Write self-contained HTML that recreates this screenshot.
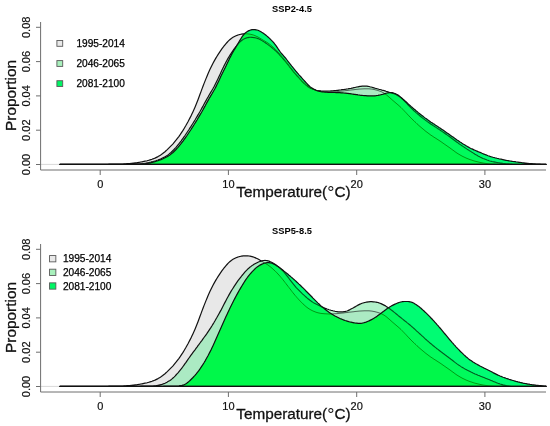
<!DOCTYPE html>
<html><head><meta charset="utf-8"><title>Temperature density</title>
<style>
html,body{margin:0;padding:0;background:#fff;}
body{width:550px;height:426px;overflow:hidden;}
svg{display:block;font-family:"Liberation Sans",Arial,sans-serif;}
</style></head><body>
<svg width="550" height="426" viewBox="0 0 550 426">
<rect width="550" height="426" fill="#fff"/>
<defs><clipPath id="c46a"><path d="M60,164.4 L60.0,164.4 61.0,164.4 62.0,164.4 63.0,164.4 64.0,164.4 65.0,164.4 66.0,164.4 67.0,164.4 68.0,164.4 69.0,164.4 70.0,164.4 71.0,164.4 72.0,164.4 73.0,164.4 74.0,164.4 75.0,164.4 76.0,164.4 77.0,164.4 78.0,164.4 79.0,164.4 80.0,164.4 81.0,164.4 82.0,164.4 83.0,164.4 84.0,164.4 85.0,164.4 86.0,164.4 87.0,164.4 88.0,164.4 89.0,164.4 90.0,164.4 91.0,164.4 92.0,164.4 93.0,164.4 94.0,164.4 95.0,164.4 96.0,164.4 97.0,164.4 98.0,164.4 99.0,164.4 100.0,164.4 101.0,164.4 102.0,164.4 103.0,164.4 104.0,164.4 105.0,164.4 106.0,164.4 107.0,164.4 108.0,164.4 109.0,164.4 110.0,164.4 111.0,164.3 112.0,164.3 113.0,164.3 114.0,164.3 115.0,164.3 116.0,164.3 117.0,164.3 118.0,164.3 119.0,164.3 120.0,164.3 121.0,164.3 122.0,164.3 123.0,164.3 124.0,164.3 125.0,164.3 126.0,164.3 127.0,164.3 128.0,164.3 129.0,164.3 130.0,164.3 131.0,164.3 132.0,164.2 133.0,164.2 134.0,164.2 135.0,164.2 136.0,164.1 137.0,164.1 138.0,164.1 139.0,164.0 140.0,164.0 141.0,163.9 142.0,163.8 143.0,163.7 144.0,163.5 145.0,163.3 146.0,163.2 147.0,163.0 148.0,162.8 149.0,162.6 150.0,162.3 151.0,162.1 152.0,161.8 153.0,161.6 154.0,161.3 155.0,161.0 156.0,160.7 157.0,160.3 158.0,160.0 159.0,159.6 160.0,159.2 161.0,158.8 162.0,158.3 163.0,157.8 164.0,157.3 165.0,156.8 166.0,156.2 167.0,155.6 168.0,154.9 169.0,154.1 170.0,153.3 171.0,152.5 172.0,151.5 173.0,150.5 174.0,149.5 175.0,148.4 176.0,147.3 177.0,146.1 178.0,144.9 179.0,143.7 180.0,142.4 181.0,141.1 182.0,139.7 183.0,138.3 184.0,136.9 185.0,135.5 186.0,134.0 187.0,132.5 188.0,131.0 189.0,129.5 190.0,127.9 191.0,126.4 192.0,124.8 193.0,123.2 194.0,121.6 195.0,120.0 196.0,118.3 197.0,116.6 198.0,114.9 199.0,113.2 200.0,111.5 201.0,109.7 202.0,107.9 203.0,106.1 204.0,104.2 205.0,102.4 206.0,100.6 207.0,98.8 208.0,97.1 209.0,95.3 210.0,93.6 211.0,91.9 212.0,90.2 213.0,88.5 214.0,86.7 215.0,84.8 216.0,82.8 217.0,80.8 218.0,78.7 219.0,76.5 220.0,74.4 221.0,72.2 222.0,70.1 223.0,68.0 224.0,65.9 225.0,64.0 226.0,62.0 227.0,60.2 228.0,58.4 229.0,56.7 230.0,55.1 231.0,53.6 232.0,52.1 233.0,50.6 234.0,49.2 235.0,47.8 236.0,46.5 237.0,45.2 238.0,44.1 239.0,43.0 240.0,41.9 241.0,41.0 242.0,40.2 243.0,39.5 244.0,38.9 245.0,38.4 246.0,38.1 247.0,37.8 248.0,37.6 249.0,37.4 250.0,37.3 251.0,37.3 252.0,37.4 253.0,37.5 254.0,37.6 255.0,37.8 256.0,38.0 257.0,38.3 258.0,38.6 259.0,39.0 260.0,39.5 261.0,40.0 262.0,40.6 263.0,41.2 264.0,41.9 265.0,42.5 266.0,43.2 267.0,43.9 268.0,44.6 269.0,45.4 270.0,46.1 271.0,46.9 272.0,47.7 273.0,48.6 274.0,49.4 275.0,50.3 276.0,51.2 277.0,52.2 278.0,53.2 279.0,54.2 280.0,55.3 281.0,56.3 282.0,57.5 283.0,58.6 284.0,59.8 285.0,61.0 286.0,62.2 287.0,63.4 288.0,64.7 289.0,66.0 290.0,67.3 291.0,68.5 292.0,69.8 293.0,71.1 294.0,72.3 295.0,73.5 296.0,74.7 297.0,75.8 298.0,76.9 299.0,78.0 300.0,79.1 301.0,80.2 302.0,81.3 303.0,82.3 304.0,83.3 305.0,84.2 306.0,85.1 307.0,85.9 308.0,86.7 309.0,87.3 310.0,87.9 311.0,88.4 312.0,88.8 313.0,89.2 314.0,89.6 315.0,90.0 316.0,90.3 317.0,90.5 318.0,90.7 319.0,90.8 320.0,90.9 321.0,91.0 322.0,91.0 323.0,91.0 324.0,91.0 325.0,91.0 326.0,91.0 327.0,91.0 328.0,91.0 329.0,91.0 330.0,91.0 331.0,90.9 332.0,90.9 333.0,90.8 334.0,90.7 335.0,90.6 336.0,90.5 337.0,90.4 338.0,90.3 339.0,90.1 340.0,90.0 341.0,89.9 342.0,89.7 343.0,89.6 344.0,89.5 345.0,89.3 346.0,89.2 347.0,89.0 348.0,88.9 349.0,88.7 350.0,88.5 351.0,88.4 352.0,88.2 353.0,87.9 354.0,87.7 355.0,87.5 356.0,87.2 357.0,87.0 358.0,86.8 359.0,86.6 360.0,86.4 361.0,86.3 362.0,86.2 363.0,86.2 364.0,86.2 365.0,86.2 366.0,86.2 367.0,86.2 368.0,86.3 369.0,86.5 370.0,86.8 371.0,87.0 372.0,87.3 373.0,87.6 374.0,87.9 375.0,88.2 376.0,88.5 377.0,88.7 378.0,89.0 379.0,89.3 380.0,89.5 381.0,89.8 382.0,90.1 383.0,90.3 384.0,90.6 385.0,90.9 386.0,91.3 387.0,91.6 388.0,91.9 389.0,92.2 390.0,92.5 391.0,92.8 392.0,93.1 393.0,93.4 394.0,93.7 395.0,94.1 396.0,94.6 397.0,95.2 398.0,95.8 399.0,96.4 400.0,97.1 401.0,97.9 402.0,98.7 403.0,99.6 404.0,100.6 405.0,101.6 406.0,102.7 407.0,103.7 408.0,104.8 409.0,105.9 410.0,106.9 411.0,107.9 412.0,108.9 413.0,109.8 414.0,110.8 415.0,111.7 416.0,112.6 417.0,113.4 418.0,114.3 419.0,115.1 420.0,116.0 421.0,116.8 422.0,117.6 423.0,118.4 424.0,119.1 425.0,119.9 426.0,120.6 427.0,121.4 428.0,122.1 429.0,122.8 430.0,123.5 431.0,124.2 432.0,124.8 433.0,125.5 434.0,126.1 435.0,126.8 436.0,127.4 437.0,128.1 438.0,128.7 439.0,129.4 440.0,130.0 441.0,130.7 442.0,131.4 443.0,132.1 444.0,132.8 445.0,133.5 446.0,134.2 447.0,134.9 448.0,135.6 449.0,136.3 450.0,137.0 451.0,137.7 452.0,138.5 453.0,139.2 454.0,140.0 455.0,140.7 456.0,141.5 457.0,142.2 458.0,142.9 459.0,143.7 460.0,144.4 461.0,145.1 462.0,145.8 463.0,146.4 464.0,147.1 465.0,147.8 466.0,148.4 467.0,149.1 468.0,149.7 469.0,150.4 470.0,151.0 471.0,151.6 472.0,152.3 473.0,152.9 474.0,153.5 475.0,154.2 476.0,154.8 477.0,155.3 478.0,155.9 479.0,156.4 480.0,157.0 481.0,157.4 482.0,157.9 483.0,158.4 484.0,158.8 485.0,159.2 486.0,159.6 487.0,160.0 488.0,160.3 489.0,160.7 490.0,161.0 491.0,161.2 492.0,161.5 493.0,161.7 494.0,161.9 495.0,162.1 496.0,162.3 497.0,162.5 498.0,162.7 499.0,162.8 500.0,163.0 501.0,163.1 502.0,163.2 503.0,163.4 504.0,163.5 505.0,163.6 506.0,163.7 507.0,163.8 508.0,163.8 509.0,163.9 510.0,164.0 511.0,164.0 512.0,164.1 513.0,164.2 514.0,164.2 515.0,164.2 516.0,164.3 517.0,164.3 518.0,164.3 519.0,164.4 520.0,164.4 L546,164.4 Z"/></clipPath><clipPath id="c81a"><path d="M60,164.4 L60.0,164.4 61.0,164.4 62.0,164.4 63.0,164.4 64.0,164.4 65.0,164.4 66.0,164.4 67.0,164.4 68.0,164.4 69.0,164.4 70.0,164.4 71.0,164.4 72.0,164.4 73.0,164.4 74.0,164.4 75.0,164.4 76.0,164.4 77.0,164.4 78.0,164.4 79.0,164.4 80.0,164.4 81.0,164.4 82.0,164.4 83.0,164.4 84.0,164.4 85.0,164.4 86.0,164.4 87.0,164.4 88.0,164.4 89.0,164.4 90.0,164.4 91.0,164.4 92.0,164.4 93.0,164.4 94.0,164.4 95.0,164.4 96.0,164.4 97.0,164.4 98.0,164.4 99.0,164.4 100.0,164.4 101.0,164.4 102.0,164.4 103.0,164.4 104.0,164.4 105.0,164.4 106.0,164.4 107.0,164.4 108.0,164.4 109.0,164.4 110.0,164.4 111.0,164.4 112.0,164.4 113.0,164.3 114.0,164.3 115.0,164.3 116.0,164.3 117.0,164.3 118.0,164.3 119.0,164.3 120.0,164.3 121.0,164.3 122.0,164.3 123.0,164.3 124.0,164.3 125.0,164.3 126.0,164.3 127.0,164.3 128.0,164.3 129.0,164.3 130.0,164.3 131.0,164.3 132.0,164.3 133.0,164.3 134.0,164.2 135.0,164.2 136.0,164.2 137.0,164.2 138.0,164.1 139.0,164.1 140.0,164.1 141.0,164.0 142.0,164.0 143.0,163.9 144.0,163.8 145.0,163.7 146.0,163.5 147.0,163.3 148.0,163.2 149.0,163.0 150.0,162.8 151.0,162.6 152.0,162.3 153.0,162.1 154.0,161.8 155.0,161.6 156.0,161.3 157.0,161.0 158.0,160.7 159.0,160.3 160.0,160.0 161.0,159.6 162.0,159.2 163.0,158.8 164.0,158.3 165.0,157.8 166.0,157.3 167.0,156.8 168.0,156.2 169.0,155.6 170.0,154.9 171.0,154.1 172.0,153.3 173.0,152.5 174.0,151.5 175.0,150.5 176.0,149.5 177.0,148.4 178.0,147.3 179.0,146.1 180.0,144.9 181.0,143.7 182.0,142.4 183.0,141.1 184.0,139.7 185.0,138.3 186.0,136.9 187.0,135.5 188.0,134.0 189.0,132.5 190.0,131.0 191.0,129.5 192.0,127.9 193.0,126.4 194.0,124.8 195.0,123.2 196.0,121.6 197.0,120.0 198.0,118.3 199.0,116.6 200.0,114.9 201.0,113.2 202.0,111.5 203.0,109.7 204.0,107.9 205.0,106.1 206.0,104.2 207.0,102.4 208.0,100.6 209.0,98.8 210.0,97.1 211.0,95.4 212.0,93.7 213.0,92.0 214.0,90.3 215.0,88.5 216.0,86.6 217.0,84.6 218.0,82.5 219.0,80.4 220.0,78.2 221.0,76.1 222.0,74.0 223.0,72.0 224.0,69.9 225.0,67.9 226.0,65.9 227.0,63.8 228.0,61.7 229.0,59.7 230.0,57.6 231.0,55.7 232.0,53.8 233.0,52.0 234.0,50.3 235.0,48.6 236.0,46.9 237.0,45.2 238.0,43.5 239.0,41.8 240.0,40.1 241.0,38.5 242.0,36.9 243.0,35.5 244.0,34.3 245.0,33.2 246.0,32.4 247.0,31.7 248.0,31.1 249.0,30.6 250.0,30.2 251.0,29.9 252.0,29.7 253.0,29.6 254.0,29.6 255.0,29.6 256.0,29.8 257.0,30.0 258.0,30.3 259.0,30.7 260.0,31.2 261.0,31.8 262.0,32.4 263.0,33.1 264.0,33.8 265.0,34.5 266.0,35.3 267.0,36.1 268.0,37.0 269.0,37.9 270.0,38.8 271.0,39.8 272.0,40.8 273.0,41.8 274.0,43.0 275.0,44.3 276.0,45.7 277.0,47.2 278.0,48.7 279.0,50.1 280.0,51.5 281.0,52.8 282.0,54.0 283.0,55.1 284.0,56.3 285.0,57.5 286.0,58.7 287.0,60.0 288.0,61.3 289.0,62.6 290.0,63.9 291.0,65.2 292.0,66.5 293.0,67.7 294.0,68.9 295.0,70.1 296.0,71.3 297.0,72.5 298.0,73.6 299.0,74.8 300.0,75.9 301.0,77.0 302.0,78.2 303.0,79.3 304.0,80.4 305.0,81.5 306.0,82.6 307.0,83.7 308.0,84.8 309.0,85.7 310.0,86.6 311.0,87.4 312.0,88.0 313.0,88.7 314.0,89.3 315.0,89.8 316.0,90.2 317.0,90.7 318.0,91.0 319.0,91.3 320.0,91.5 321.0,91.7 322.0,91.8 323.0,91.9 324.0,92.0 325.0,92.1 326.0,92.2 327.0,92.2 328.0,92.3 329.0,92.3 330.0,92.4 331.0,92.4 332.0,92.5 333.0,92.5 334.0,92.5 335.0,92.5 336.0,92.6 337.0,92.6 338.0,92.6 339.0,92.7 340.0,92.7 341.0,92.8 342.0,92.8 343.0,92.9 344.0,93.0 345.0,93.1 346.0,93.2 347.0,93.3 348.0,93.4 349.0,93.6 350.0,93.7 351.0,93.8 352.0,94.0 353.0,94.1 354.0,94.3 355.0,94.4 356.0,94.6 357.0,94.7 358.0,94.9 359.0,95.0 360.0,95.2 361.0,95.3 362.0,95.4 363.0,95.5 364.0,95.6 365.0,95.6 366.0,95.7 367.0,95.8 368.0,95.8 369.0,95.9 370.0,95.9 371.0,95.9 372.0,95.9 373.0,95.9 374.0,95.9 375.0,95.8 376.0,95.7 377.0,95.5 378.0,95.4 379.0,95.2 380.0,95.0 381.0,94.7 382.0,94.5 383.0,94.2 384.0,93.9 385.0,93.6 386.0,93.3 387.0,93.0 388.0,92.8 389.0,92.7 390.0,92.6 391.0,92.6 392.0,92.7 393.0,92.9 394.0,93.2 395.0,93.6 396.0,94.0 397.0,94.5 398.0,95.1 399.0,95.8 400.0,96.6 401.0,97.4 402.0,98.2 403.0,99.1 404.0,100.0 405.0,100.9 406.0,101.8 407.0,102.7 408.0,103.7 409.0,104.6 410.0,105.5 411.0,106.4 412.0,107.2 413.0,108.1 414.0,109.0 415.0,109.8 416.0,110.7 417.0,111.5 418.0,112.4 419.0,113.2 420.0,114.0 421.0,114.8 422.0,115.6 423.0,116.3 424.0,117.1 425.0,117.9 426.0,118.6 427.0,119.3 428.0,120.1 429.0,120.8 430.0,121.5 431.0,122.2 432.0,122.8 433.0,123.5 434.0,124.1 435.0,124.8 436.0,125.4 437.0,126.1 438.0,126.7 439.0,127.4 440.0,128.0 441.0,128.7 442.0,129.4 443.0,130.1 444.0,130.8 445.0,131.5 446.0,132.2 447.0,132.9 448.0,133.6 449.0,134.3 450.0,135.0 451.0,135.7 452.0,136.4 453.0,137.1 454.0,137.8 455.0,138.6 456.0,139.3 457.0,140.0 458.0,140.6 459.0,141.3 460.0,142.0 461.0,142.6 462.0,143.3 463.0,143.9 464.0,144.5 465.0,145.1 466.0,145.7 467.0,146.3 468.0,146.9 469.0,147.4 470.0,148.0 471.0,148.5 472.0,148.9 473.0,149.4 474.0,149.9 475.0,150.3 476.0,150.7 477.0,151.1 478.0,151.6 479.0,152.0 480.0,152.4 481.0,152.8 482.0,153.3 483.0,153.7 484.0,154.1 485.0,154.5 486.0,154.9 487.0,155.3 488.0,155.7 489.0,156.0 490.0,156.4 491.0,156.7 492.0,157.0 493.0,157.3 494.0,157.5 495.0,157.8 496.0,158.0 497.0,158.3 498.0,158.5 499.0,158.8 500.0,159.0 501.0,159.2 502.0,159.4 503.0,159.7 504.0,159.9 505.0,160.1 506.0,160.3 507.0,160.5 508.0,160.6 509.0,160.8 510.0,161.0 511.0,161.1 512.0,161.3 513.0,161.5 514.0,161.6 515.0,161.7 516.0,161.9 517.0,162.0 518.0,162.1 519.0,162.3 520.0,162.4 521.0,162.5 522.0,162.7 523.0,162.8 524.0,162.9 525.0,163.1 526.0,163.2 527.0,163.3 528.0,163.4 529.0,163.5 530.0,163.6 531.0,163.7 532.0,163.7 533.0,163.8 534.0,163.9 535.0,163.9 536.0,164.0 537.0,164.1 538.0,164.1 539.0,164.2 540.0,164.2 541.0,164.3 542.0,164.3 543.0,164.3 544.0,164.4 545.0,164.4 546.0,164.4 L546,164.4 Z"/></clipPath></defs>
<line x1="40.6" y1="164.4" x2="546" y2="164.4" stroke="#d8d8d8" stroke-width="1"/>
<path d="M60,164.4 L60.0,164.4 61.0,164.4 62.0,164.4 63.0,164.4 64.0,164.4 65.0,164.4 66.0,164.4 67.0,164.4 68.0,164.4 69.0,164.4 70.0,164.4 71.0,164.4 72.0,164.4 73.0,164.4 74.0,164.4 75.0,164.4 76.0,164.4 77.0,164.4 78.0,164.4 79.0,164.4 80.0,164.4 81.0,164.4 82.0,164.4 83.0,164.4 84.0,164.4 85.0,164.4 86.0,164.4 87.0,164.4 88.0,164.3 89.0,164.3 90.0,164.3 91.0,164.3 92.0,164.3 93.0,164.3 94.0,164.3 95.0,164.3 96.0,164.3 97.0,164.3 98.0,164.3 99.0,164.3 100.0,164.3 101.0,164.3 102.0,164.3 103.0,164.3 104.0,164.3 105.0,164.3 106.0,164.3 107.0,164.3 108.0,164.3 109.0,164.2 110.0,164.2 111.0,164.2 112.0,164.2 113.0,164.2 114.0,164.2 115.0,164.2 116.0,164.2 117.0,164.1 118.0,164.1 119.0,164.1 120.0,164.1 121.0,164.1 122.0,164.0 123.0,164.0 124.0,163.9 125.0,163.9 126.0,163.8 127.0,163.7 128.0,163.7 129.0,163.6 130.0,163.5 131.0,163.4 132.0,163.3 133.0,163.2 134.0,163.1 135.0,162.9 136.0,162.8 137.0,162.7 138.0,162.5 139.0,162.3 140.0,162.2 141.0,162.0 142.0,161.8 143.0,161.6 144.0,161.4 145.0,161.2 146.0,161.0 147.0,160.8 148.0,160.5 149.0,160.2 150.0,159.9 151.0,159.6 152.0,159.3 153.0,158.9 154.0,158.5 155.0,158.1 156.0,157.6 157.0,157.1 158.0,156.6 159.0,156.0 160.0,155.4 161.0,154.8 162.0,154.1 163.0,153.3 164.0,152.5 165.0,151.7 166.0,150.8 167.0,149.9 168.0,148.9 169.0,147.9 170.0,146.9 171.0,145.9 172.0,144.9 173.0,143.8 174.0,142.6 175.0,141.4 176.0,140.2 177.0,138.9 178.0,137.6 179.0,136.3 180.0,134.9 181.0,133.4 182.0,131.9 183.0,130.4 184.0,128.7 185.0,127.0 186.0,125.3 187.0,123.5 188.0,121.7 189.0,119.8 190.0,117.9 191.0,115.9 192.0,113.8 193.0,111.7 194.0,109.5 195.0,107.2 196.0,104.8 197.0,102.3 198.0,99.7 199.0,97.0 200.0,94.3 201.0,91.6 202.0,88.9 203.0,86.2 204.0,83.6 205.0,81.1 206.0,78.6 207.0,76.2 208.0,73.8 209.0,71.6 210.0,69.3 211.0,67.2 212.0,65.2 213.0,63.2 214.0,61.4 215.0,59.6 216.0,57.9 217.0,56.2 218.0,54.6 219.0,53.1 220.0,51.6 221.0,50.1 222.0,48.7 223.0,47.3 224.0,46.0 225.0,44.8 226.0,43.6 227.0,42.5 228.0,41.4 229.0,40.4 230.0,39.5 231.0,38.7 232.0,37.9 233.0,37.3 234.0,36.7 235.0,36.2 236.0,35.7 237.0,35.4 238.0,35.0 239.0,34.7 240.0,34.5 241.0,34.2 242.0,34.1 243.0,33.9 244.0,33.8 245.0,33.8 246.0,33.8 247.0,33.8 248.0,33.9 249.0,34.0 250.0,34.2 251.0,34.4 252.0,34.6 253.0,34.9 254.0,35.2 255.0,35.6 256.0,36.1 257.0,36.5 258.0,37.0 259.0,37.6 260.0,38.2 261.0,38.8 262.0,39.4 263.0,40.0 264.0,40.6 265.0,41.2 266.0,41.8 267.0,42.4 268.0,43.0 269.0,43.8 270.0,44.5 271.0,45.3 272.0,46.2 273.0,47.1 274.0,48.0 275.0,48.9 276.0,49.9 277.0,50.9 278.0,52.0 279.0,53.1 280.0,54.2 281.0,55.4 282.0,56.6 283.0,57.8 284.0,59.1 285.0,60.4 286.0,61.7 287.0,63.0 288.0,64.3 289.0,65.6 290.0,66.9 291.0,68.2 292.0,69.5 293.0,70.8 294.0,72.0 295.0,73.3 296.0,74.4 297.0,75.6 298.0,76.7 299.0,77.8 300.0,78.9 301.0,79.9 302.0,80.9 303.0,81.9 304.0,82.8 305.0,83.7 306.0,84.6 307.0,85.4 308.0,86.1 309.0,86.8 310.0,87.4 311.0,88.0 312.0,88.5 313.0,89.0 314.0,89.4 315.0,89.8 316.0,90.2 317.0,90.5 318.0,90.8 319.0,91.0 320.0,91.2 321.0,91.4 322.0,91.5 323.0,91.6 324.0,91.7 325.0,91.8 326.0,91.8 327.0,91.9 328.0,91.9 329.0,92.0 330.0,92.0 331.0,91.9 332.0,91.9 333.0,91.9 334.0,91.8 335.0,91.7 336.0,91.7 337.0,91.6 338.0,91.5 339.0,91.4 340.0,91.3 341.0,91.2 342.0,91.1 343.0,91.0 344.0,90.9 345.0,90.7 346.0,90.6 347.0,90.5 348.0,90.4 349.0,90.2 350.0,90.1 351.0,90.0 352.0,89.9 353.0,89.8 354.0,89.7 355.0,89.5 356.0,89.4 357.0,89.3 358.0,89.2 359.0,89.1 360.0,89.0 361.0,89.0 362.0,88.9 363.0,88.9 364.0,88.8 365.0,88.8 366.0,88.8 367.0,88.8 368.0,88.8 369.0,88.8 370.0,88.9 371.0,89.0 372.0,89.1 373.0,89.3 374.0,89.5 375.0,89.7 376.0,90.0 377.0,90.2 378.0,90.5 379.0,90.9 380.0,91.2 381.0,91.6 382.0,92.0 383.0,92.6 384.0,93.1 385.0,93.8 386.0,94.5 387.0,95.3 388.0,96.2 389.0,97.0 390.0,97.9 391.0,98.8 392.0,99.7 393.0,100.6 394.0,101.4 395.0,102.3 396.0,103.1 397.0,104.0 398.0,104.8 399.0,105.7 400.0,106.6 401.0,107.5 402.0,108.5 403.0,109.6 404.0,110.6 405.0,111.7 406.0,112.7 407.0,113.8 408.0,114.9 409.0,115.9 410.0,117.0 411.0,118.0 412.0,119.0 413.0,120.0 414.0,120.9 415.0,121.9 416.0,122.8 417.0,123.8 418.0,124.7 419.0,125.6 420.0,126.5 421.0,127.3 422.0,128.2 423.0,129.0 424.0,129.8 425.0,130.7 426.0,131.5 427.0,132.2 428.0,133.0 429.0,133.7 430.0,134.5 431.0,135.2 432.0,135.8 433.0,136.5 434.0,137.2 435.0,137.8 436.0,138.4 437.0,139.1 438.0,139.7 439.0,140.4 440.0,141.0 441.0,141.7 442.0,142.4 443.0,143.1 444.0,143.8 445.0,144.5 446.0,145.2 447.0,145.9 448.0,146.6 449.0,147.3 450.0,148.0 451.0,148.7 452.0,149.5 453.0,150.2 454.0,150.9 455.0,151.7 456.0,152.4 457.0,153.1 458.0,153.7 459.0,154.3 460.0,154.9 461.0,155.5 462.0,156.0 463.0,156.6 464.0,157.0 465.0,157.5 466.0,158.0 467.0,158.4 468.0,158.8 469.0,159.2 470.0,159.6 471.0,159.9 472.0,160.2 473.0,160.6 474.0,160.9 475.0,161.2 476.0,161.4 477.0,161.7 478.0,161.9 479.0,162.2 480.0,162.4 481.0,162.6 482.0,162.8 483.0,163.0 484.0,163.2 485.0,163.3 486.0,163.5 487.0,163.6 488.0,163.8 489.0,163.9 490.0,164.0 491.0,164.0 492.0,164.1 493.0,164.2 494.0,164.2 495.0,164.3 496.0,164.3 497.0,164.3 498.0,164.4 499.0,164.4 500.0,164.4 L546,164.4 Z" fill="#e8e8e8" stroke="#111" stroke-width="1.2" stroke-linejoin="round"/>
<path d="M60,164.4 L60.0,164.4 61.0,164.4 62.0,164.4 63.0,164.4 64.0,164.4 65.0,164.4 66.0,164.4 67.0,164.4 68.0,164.4 69.0,164.4 70.0,164.4 71.0,164.4 72.0,164.4 73.0,164.4 74.0,164.4 75.0,164.4 76.0,164.4 77.0,164.4 78.0,164.4 79.0,164.4 80.0,164.4 81.0,164.4 82.0,164.4 83.0,164.4 84.0,164.4 85.0,164.4 86.0,164.4 87.0,164.4 88.0,164.4 89.0,164.4 90.0,164.4 91.0,164.4 92.0,164.4 93.0,164.4 94.0,164.4 95.0,164.4 96.0,164.4 97.0,164.4 98.0,164.4 99.0,164.4 100.0,164.4 101.0,164.4 102.0,164.4 103.0,164.4 104.0,164.4 105.0,164.4 106.0,164.4 107.0,164.4 108.0,164.4 109.0,164.4 110.0,164.4 111.0,164.3 112.0,164.3 113.0,164.3 114.0,164.3 115.0,164.3 116.0,164.3 117.0,164.3 118.0,164.3 119.0,164.3 120.0,164.3 121.0,164.3 122.0,164.3 123.0,164.3 124.0,164.3 125.0,164.3 126.0,164.3 127.0,164.3 128.0,164.3 129.0,164.3 130.0,164.3 131.0,164.3 132.0,164.2 133.0,164.2 134.0,164.2 135.0,164.2 136.0,164.1 137.0,164.1 138.0,164.1 139.0,164.0 140.0,164.0 141.0,163.9 142.0,163.8 143.0,163.7 144.0,163.5 145.0,163.3 146.0,163.2 147.0,163.0 148.0,162.8 149.0,162.6 150.0,162.3 151.0,162.1 152.0,161.8 153.0,161.6 154.0,161.3 155.0,161.0 156.0,160.7 157.0,160.3 158.0,160.0 159.0,159.6 160.0,159.2 161.0,158.8 162.0,158.3 163.0,157.8 164.0,157.3 165.0,156.8 166.0,156.2 167.0,155.6 168.0,154.9 169.0,154.1 170.0,153.3 171.0,152.5 172.0,151.5 173.0,150.5 174.0,149.5 175.0,148.4 176.0,147.3 177.0,146.1 178.0,144.9 179.0,143.7 180.0,142.4 181.0,141.1 182.0,139.7 183.0,138.3 184.0,136.9 185.0,135.5 186.0,134.0 187.0,132.5 188.0,131.0 189.0,129.5 190.0,127.9 191.0,126.4 192.0,124.8 193.0,123.2 194.0,121.6 195.0,120.0 196.0,118.3 197.0,116.6 198.0,114.9 199.0,113.2 200.0,111.5 201.0,109.7 202.0,107.9 203.0,106.1 204.0,104.2 205.0,102.4 206.0,100.6 207.0,98.8 208.0,97.1 209.0,95.3 210.0,93.6 211.0,91.9 212.0,90.2 213.0,88.5 214.0,86.7 215.0,84.8 216.0,82.8 217.0,80.8 218.0,78.7 219.0,76.5 220.0,74.4 221.0,72.2 222.0,70.1 223.0,68.0 224.0,65.9 225.0,64.0 226.0,62.0 227.0,60.2 228.0,58.4 229.0,56.7 230.0,55.1 231.0,53.6 232.0,52.1 233.0,50.6 234.0,49.2 235.0,47.8 236.0,46.5 237.0,45.2 238.0,44.1 239.0,43.0 240.0,41.9 241.0,41.0 242.0,40.2 243.0,39.5 244.0,38.9 245.0,38.4 246.0,38.1 247.0,37.8 248.0,37.6 249.0,37.4 250.0,37.3 251.0,37.3 252.0,37.4 253.0,37.5 254.0,37.6 255.0,37.8 256.0,38.0 257.0,38.3 258.0,38.6 259.0,39.0 260.0,39.5 261.0,40.0 262.0,40.6 263.0,41.2 264.0,41.9 265.0,42.5 266.0,43.2 267.0,43.9 268.0,44.6 269.0,45.4 270.0,46.1 271.0,46.9 272.0,47.7 273.0,48.6 274.0,49.4 275.0,50.3 276.0,51.2 277.0,52.2 278.0,53.2 279.0,54.2 280.0,55.3 281.0,56.3 282.0,57.5 283.0,58.6 284.0,59.8 285.0,61.0 286.0,62.2 287.0,63.4 288.0,64.7 289.0,66.0 290.0,67.3 291.0,68.5 292.0,69.8 293.0,71.1 294.0,72.3 295.0,73.5 296.0,74.7 297.0,75.8 298.0,76.9 299.0,78.0 300.0,79.1 301.0,80.2 302.0,81.3 303.0,82.3 304.0,83.3 305.0,84.2 306.0,85.1 307.0,85.9 308.0,86.7 309.0,87.3 310.0,87.9 311.0,88.4 312.0,88.8 313.0,89.2 314.0,89.6 315.0,90.0 316.0,90.3 317.0,90.5 318.0,90.7 319.0,90.8 320.0,90.9 321.0,91.0 322.0,91.0 323.0,91.0 324.0,91.0 325.0,91.0 326.0,91.0 327.0,91.0 328.0,91.0 329.0,91.0 330.0,91.0 331.0,90.9 332.0,90.9 333.0,90.8 334.0,90.7 335.0,90.6 336.0,90.5 337.0,90.4 338.0,90.3 339.0,90.1 340.0,90.0 341.0,89.9 342.0,89.7 343.0,89.6 344.0,89.5 345.0,89.3 346.0,89.2 347.0,89.0 348.0,88.9 349.0,88.7 350.0,88.5 351.0,88.4 352.0,88.2 353.0,87.9 354.0,87.7 355.0,87.5 356.0,87.2 357.0,87.0 358.0,86.8 359.0,86.6 360.0,86.4 361.0,86.3 362.0,86.2 363.0,86.2 364.0,86.2 365.0,86.2 366.0,86.2 367.0,86.2 368.0,86.3 369.0,86.5 370.0,86.8 371.0,87.0 372.0,87.3 373.0,87.6 374.0,87.9 375.0,88.2 376.0,88.5 377.0,88.7 378.0,89.0 379.0,89.3 380.0,89.5 381.0,89.8 382.0,90.1 383.0,90.3 384.0,90.6 385.0,90.9 386.0,91.3 387.0,91.6 388.0,91.9 389.0,92.2 390.0,92.5 391.0,92.8 392.0,93.1 393.0,93.4 394.0,93.7 395.0,94.1 396.0,94.6 397.0,95.2 398.0,95.8 399.0,96.4 400.0,97.1 401.0,97.9 402.0,98.7 403.0,99.6 404.0,100.6 405.0,101.6 406.0,102.7 407.0,103.7 408.0,104.8 409.0,105.9 410.0,106.9 411.0,107.9 412.0,108.9 413.0,109.8 414.0,110.8 415.0,111.7 416.0,112.6 417.0,113.4 418.0,114.3 419.0,115.1 420.0,116.0 421.0,116.8 422.0,117.6 423.0,118.4 424.0,119.1 425.0,119.9 426.0,120.6 427.0,121.4 428.0,122.1 429.0,122.8 430.0,123.5 431.0,124.2 432.0,124.8 433.0,125.5 434.0,126.1 435.0,126.8 436.0,127.4 437.0,128.1 438.0,128.7 439.0,129.4 440.0,130.0 441.0,130.7 442.0,131.4 443.0,132.1 444.0,132.8 445.0,133.5 446.0,134.2 447.0,134.9 448.0,135.6 449.0,136.3 450.0,137.0 451.0,137.7 452.0,138.5 453.0,139.2 454.0,140.0 455.0,140.7 456.0,141.5 457.0,142.2 458.0,142.9 459.0,143.7 460.0,144.4 461.0,145.1 462.0,145.8 463.0,146.4 464.0,147.1 465.0,147.8 466.0,148.4 467.0,149.1 468.0,149.7 469.0,150.4 470.0,151.0 471.0,151.6 472.0,152.3 473.0,152.9 474.0,153.5 475.0,154.2 476.0,154.8 477.0,155.3 478.0,155.9 479.0,156.4 480.0,157.0 481.0,157.4 482.0,157.9 483.0,158.4 484.0,158.8 485.0,159.2 486.0,159.6 487.0,160.0 488.0,160.3 489.0,160.7 490.0,161.0 491.0,161.2 492.0,161.5 493.0,161.7 494.0,161.9 495.0,162.1 496.0,162.3 497.0,162.5 498.0,162.7 499.0,162.8 500.0,163.0 501.0,163.1 502.0,163.2 503.0,163.4 504.0,163.5 505.0,163.6 506.0,163.7 507.0,163.8 508.0,163.8 509.0,163.9 510.0,164.0 511.0,164.0 512.0,164.1 513.0,164.2 514.0,164.2 515.0,164.2 516.0,164.3 517.0,164.3 518.0,164.3 519.0,164.4 520.0,164.4 L546,164.4 Z" fill="#b2f2ca" stroke="none"/>
<g clip-path="url(#c46a)"><path d="M60,164.4 L60.0,164.4 61.0,164.4 62.0,164.4 63.0,164.4 64.0,164.4 65.0,164.4 66.0,164.4 67.0,164.4 68.0,164.4 69.0,164.4 70.0,164.4 71.0,164.4 72.0,164.4 73.0,164.4 74.0,164.4 75.0,164.4 76.0,164.4 77.0,164.4 78.0,164.4 79.0,164.4 80.0,164.4 81.0,164.4 82.0,164.4 83.0,164.4 84.0,164.4 85.0,164.4 86.0,164.4 87.0,164.4 88.0,164.3 89.0,164.3 90.0,164.3 91.0,164.3 92.0,164.3 93.0,164.3 94.0,164.3 95.0,164.3 96.0,164.3 97.0,164.3 98.0,164.3 99.0,164.3 100.0,164.3 101.0,164.3 102.0,164.3 103.0,164.3 104.0,164.3 105.0,164.3 106.0,164.3 107.0,164.3 108.0,164.3 109.0,164.2 110.0,164.2 111.0,164.2 112.0,164.2 113.0,164.2 114.0,164.2 115.0,164.2 116.0,164.2 117.0,164.1 118.0,164.1 119.0,164.1 120.0,164.1 121.0,164.1 122.0,164.0 123.0,164.0 124.0,163.9 125.0,163.9 126.0,163.8 127.0,163.7 128.0,163.7 129.0,163.6 130.0,163.5 131.0,163.4 132.0,163.3 133.0,163.2 134.0,163.1 135.0,162.9 136.0,162.8 137.0,162.7 138.0,162.5 139.0,162.3 140.0,162.2 141.0,162.0 142.0,161.8 143.0,161.6 144.0,161.4 145.0,161.2 146.0,161.0 147.0,160.8 148.0,160.5 149.0,160.2 150.0,159.9 151.0,159.6 152.0,159.3 153.0,158.9 154.0,158.5 155.0,158.1 156.0,157.6 157.0,157.1 158.0,156.6 159.0,156.0 160.0,155.4 161.0,154.8 162.0,154.1 163.0,153.3 164.0,152.5 165.0,151.7 166.0,150.8 167.0,149.9 168.0,148.9 169.0,147.9 170.0,146.9 171.0,145.9 172.0,144.9 173.0,143.8 174.0,142.6 175.0,141.4 176.0,140.2 177.0,138.9 178.0,137.6 179.0,136.3 180.0,134.9 181.0,133.4 182.0,131.9 183.0,130.4 184.0,128.7 185.0,127.0 186.0,125.3 187.0,123.5 188.0,121.7 189.0,119.8 190.0,117.9 191.0,115.9 192.0,113.8 193.0,111.7 194.0,109.5 195.0,107.2 196.0,104.8 197.0,102.3 198.0,99.7 199.0,97.0 200.0,94.3 201.0,91.6 202.0,88.9 203.0,86.2 204.0,83.6 205.0,81.1 206.0,78.6 207.0,76.2 208.0,73.8 209.0,71.6 210.0,69.3 211.0,67.2 212.0,65.2 213.0,63.2 214.0,61.4 215.0,59.6 216.0,57.9 217.0,56.2 218.0,54.6 219.0,53.1 220.0,51.6 221.0,50.1 222.0,48.7 223.0,47.3 224.0,46.0 225.0,44.8 226.0,43.6 227.0,42.5 228.0,41.4 229.0,40.4 230.0,39.5 231.0,38.7 232.0,37.9 233.0,37.3 234.0,36.7 235.0,36.2 236.0,35.7 237.0,35.4 238.0,35.0 239.0,34.7 240.0,34.5 241.0,34.2 242.0,34.1 243.0,33.9 244.0,33.8 245.0,33.8 246.0,33.8 247.0,33.8 248.0,33.9 249.0,34.0 250.0,34.2 251.0,34.4 252.0,34.6 253.0,34.9 254.0,35.2 255.0,35.6 256.0,36.1 257.0,36.5 258.0,37.0 259.0,37.6 260.0,38.2 261.0,38.8 262.0,39.4 263.0,40.0 264.0,40.6 265.0,41.2 266.0,41.8 267.0,42.4 268.0,43.0 269.0,43.8 270.0,44.5 271.0,45.3 272.0,46.2 273.0,47.1 274.0,48.0 275.0,48.9 276.0,49.9 277.0,50.9 278.0,52.0 279.0,53.1 280.0,54.2 281.0,55.4 282.0,56.6 283.0,57.8 284.0,59.1 285.0,60.4 286.0,61.7 287.0,63.0 288.0,64.3 289.0,65.6 290.0,66.9 291.0,68.2 292.0,69.5 293.0,70.8 294.0,72.0 295.0,73.3 296.0,74.4 297.0,75.6 298.0,76.7 299.0,77.8 300.0,78.9 301.0,79.9 302.0,80.9 303.0,81.9 304.0,82.8 305.0,83.7 306.0,84.6 307.0,85.4 308.0,86.1 309.0,86.8 310.0,87.4 311.0,88.0 312.0,88.5 313.0,89.0 314.0,89.4 315.0,89.8 316.0,90.2 317.0,90.5 318.0,90.8 319.0,91.0 320.0,91.2 321.0,91.4 322.0,91.5 323.0,91.6 324.0,91.7 325.0,91.8 326.0,91.8 327.0,91.9 328.0,91.9 329.0,92.0 330.0,92.0 331.0,91.9 332.0,91.9 333.0,91.9 334.0,91.8 335.0,91.7 336.0,91.7 337.0,91.6 338.0,91.5 339.0,91.4 340.0,91.3 341.0,91.2 342.0,91.1 343.0,91.0 344.0,90.9 345.0,90.7 346.0,90.6 347.0,90.5 348.0,90.4 349.0,90.2 350.0,90.1 351.0,90.0 352.0,89.9 353.0,89.8 354.0,89.7 355.0,89.5 356.0,89.4 357.0,89.3 358.0,89.2 359.0,89.1 360.0,89.0 361.0,89.0 362.0,88.9 363.0,88.9 364.0,88.8 365.0,88.8 366.0,88.8 367.0,88.8 368.0,88.8 369.0,88.8 370.0,88.9 371.0,89.0 372.0,89.1 373.0,89.3 374.0,89.5 375.0,89.7 376.0,90.0 377.0,90.2 378.0,90.5 379.0,90.9 380.0,91.2 381.0,91.6 382.0,92.0 383.0,92.6 384.0,93.1 385.0,93.8 386.0,94.5 387.0,95.3 388.0,96.2 389.0,97.0 390.0,97.9 391.0,98.8 392.0,99.7 393.0,100.6 394.0,101.4 395.0,102.3 396.0,103.1 397.0,104.0 398.0,104.8 399.0,105.7 400.0,106.6 401.0,107.5 402.0,108.5 403.0,109.6 404.0,110.6 405.0,111.7 406.0,112.7 407.0,113.8 408.0,114.9 409.0,115.9 410.0,117.0 411.0,118.0 412.0,119.0 413.0,120.0 414.0,120.9 415.0,121.9 416.0,122.8 417.0,123.8 418.0,124.7 419.0,125.6 420.0,126.5 421.0,127.3 422.0,128.2 423.0,129.0 424.0,129.8 425.0,130.7 426.0,131.5 427.0,132.2 428.0,133.0 429.0,133.7 430.0,134.5 431.0,135.2 432.0,135.8 433.0,136.5 434.0,137.2 435.0,137.8 436.0,138.4 437.0,139.1 438.0,139.7 439.0,140.4 440.0,141.0 441.0,141.7 442.0,142.4 443.0,143.1 444.0,143.8 445.0,144.5 446.0,145.2 447.0,145.9 448.0,146.6 449.0,147.3 450.0,148.0 451.0,148.7 452.0,149.5 453.0,150.2 454.0,150.9 455.0,151.7 456.0,152.4 457.0,153.1 458.0,153.7 459.0,154.3 460.0,154.9 461.0,155.5 462.0,156.0 463.0,156.6 464.0,157.0 465.0,157.5 466.0,158.0 467.0,158.4 468.0,158.8 469.0,159.2 470.0,159.6 471.0,159.9 472.0,160.2 473.0,160.6 474.0,160.9 475.0,161.2 476.0,161.4 477.0,161.7 478.0,161.9 479.0,162.2 480.0,162.4 481.0,162.6 482.0,162.8 483.0,163.0 484.0,163.2 485.0,163.3 486.0,163.5 487.0,163.6 488.0,163.8 489.0,163.9 490.0,164.0 491.0,164.0 492.0,164.1 493.0,164.2 494.0,164.2 495.0,164.3 496.0,164.3 497.0,164.3 498.0,164.4 499.0,164.4 500.0,164.4 L546,164.4 Z" fill="rgba(0,40,20,0.035)" stroke="#4d6658" stroke-width="1"/></g>
<path d="M60,164.4 L60.0,164.4 61.0,164.4 62.0,164.4 63.0,164.4 64.0,164.4 65.0,164.4 66.0,164.4 67.0,164.4 68.0,164.4 69.0,164.4 70.0,164.4 71.0,164.4 72.0,164.4 73.0,164.4 74.0,164.4 75.0,164.4 76.0,164.4 77.0,164.4 78.0,164.4 79.0,164.4 80.0,164.4 81.0,164.4 82.0,164.4 83.0,164.4 84.0,164.4 85.0,164.4 86.0,164.4 87.0,164.4 88.0,164.4 89.0,164.4 90.0,164.4 91.0,164.4 92.0,164.4 93.0,164.4 94.0,164.4 95.0,164.4 96.0,164.4 97.0,164.4 98.0,164.4 99.0,164.4 100.0,164.4 101.0,164.4 102.0,164.4 103.0,164.4 104.0,164.4 105.0,164.4 106.0,164.4 107.0,164.4 108.0,164.4 109.0,164.4 110.0,164.4 111.0,164.3 112.0,164.3 113.0,164.3 114.0,164.3 115.0,164.3 116.0,164.3 117.0,164.3 118.0,164.3 119.0,164.3 120.0,164.3 121.0,164.3 122.0,164.3 123.0,164.3 124.0,164.3 125.0,164.3 126.0,164.3 127.0,164.3 128.0,164.3 129.0,164.3 130.0,164.3 131.0,164.3 132.0,164.2 133.0,164.2 134.0,164.2 135.0,164.2 136.0,164.1 137.0,164.1 138.0,164.1 139.0,164.0 140.0,164.0 141.0,163.9 142.0,163.8 143.0,163.7 144.0,163.5 145.0,163.3 146.0,163.2 147.0,163.0 148.0,162.8 149.0,162.6 150.0,162.3 151.0,162.1 152.0,161.8 153.0,161.6 154.0,161.3 155.0,161.0 156.0,160.7 157.0,160.3 158.0,160.0 159.0,159.6 160.0,159.2 161.0,158.8 162.0,158.3 163.0,157.8 164.0,157.3 165.0,156.8 166.0,156.2 167.0,155.6 168.0,154.9 169.0,154.1 170.0,153.3 171.0,152.5 172.0,151.5 173.0,150.5 174.0,149.5 175.0,148.4 176.0,147.3 177.0,146.1 178.0,144.9 179.0,143.7 180.0,142.4 181.0,141.1 182.0,139.7 183.0,138.3 184.0,136.9 185.0,135.5 186.0,134.0 187.0,132.5 188.0,131.0 189.0,129.5 190.0,127.9 191.0,126.4 192.0,124.8 193.0,123.2 194.0,121.6 195.0,120.0 196.0,118.3 197.0,116.6 198.0,114.9 199.0,113.2 200.0,111.5 201.0,109.7 202.0,107.9 203.0,106.1 204.0,104.2 205.0,102.4 206.0,100.6 207.0,98.8 208.0,97.1 209.0,95.3 210.0,93.6 211.0,91.9 212.0,90.2 213.0,88.5 214.0,86.7 215.0,84.8 216.0,82.8 217.0,80.8 218.0,78.7 219.0,76.5 220.0,74.4 221.0,72.2 222.0,70.1 223.0,68.0 224.0,65.9 225.0,64.0 226.0,62.0 227.0,60.2 228.0,58.4 229.0,56.7 230.0,55.1 231.0,53.6 232.0,52.1 233.0,50.6 234.0,49.2 235.0,47.8 236.0,46.5 237.0,45.2 238.0,44.1 239.0,43.0 240.0,41.9 241.0,41.0 242.0,40.2 243.0,39.5 244.0,38.9 245.0,38.4 246.0,38.1 247.0,37.8 248.0,37.6 249.0,37.4 250.0,37.3 251.0,37.3 252.0,37.4 253.0,37.5 254.0,37.6 255.0,37.8 256.0,38.0 257.0,38.3 258.0,38.6 259.0,39.0 260.0,39.5 261.0,40.0 262.0,40.6 263.0,41.2 264.0,41.9 265.0,42.5 266.0,43.2 267.0,43.9 268.0,44.6 269.0,45.4 270.0,46.1 271.0,46.9 272.0,47.7 273.0,48.6 274.0,49.4 275.0,50.3 276.0,51.2 277.0,52.2 278.0,53.2 279.0,54.2 280.0,55.3 281.0,56.3 282.0,57.5 283.0,58.6 284.0,59.8 285.0,61.0 286.0,62.2 287.0,63.4 288.0,64.7 289.0,66.0 290.0,67.3 291.0,68.5 292.0,69.8 293.0,71.1 294.0,72.3 295.0,73.5 296.0,74.7 297.0,75.8 298.0,76.9 299.0,78.0 300.0,79.1 301.0,80.2 302.0,81.3 303.0,82.3 304.0,83.3 305.0,84.2 306.0,85.1 307.0,85.9 308.0,86.7 309.0,87.3 310.0,87.9 311.0,88.4 312.0,88.8 313.0,89.2 314.0,89.6 315.0,90.0 316.0,90.3 317.0,90.5 318.0,90.7 319.0,90.8 320.0,90.9 321.0,91.0 322.0,91.0 323.0,91.0 324.0,91.0 325.0,91.0 326.0,91.0 327.0,91.0 328.0,91.0 329.0,91.0 330.0,91.0 331.0,90.9 332.0,90.9 333.0,90.8 334.0,90.7 335.0,90.6 336.0,90.5 337.0,90.4 338.0,90.3 339.0,90.1 340.0,90.0 341.0,89.9 342.0,89.7 343.0,89.6 344.0,89.5 345.0,89.3 346.0,89.2 347.0,89.0 348.0,88.9 349.0,88.7 350.0,88.5 351.0,88.4 352.0,88.2 353.0,87.9 354.0,87.7 355.0,87.5 356.0,87.2 357.0,87.0 358.0,86.8 359.0,86.6 360.0,86.4 361.0,86.3 362.0,86.2 363.0,86.2 364.0,86.2 365.0,86.2 366.0,86.2 367.0,86.2 368.0,86.3 369.0,86.5 370.0,86.8 371.0,87.0 372.0,87.3 373.0,87.6 374.0,87.9 375.0,88.2 376.0,88.5 377.0,88.7 378.0,89.0 379.0,89.3 380.0,89.5 381.0,89.8 382.0,90.1 383.0,90.3 384.0,90.6 385.0,90.9 386.0,91.3 387.0,91.6 388.0,91.9 389.0,92.2 390.0,92.5 391.0,92.8 392.0,93.1 393.0,93.4 394.0,93.7 395.0,94.1 396.0,94.6 397.0,95.2 398.0,95.8 399.0,96.4 400.0,97.1 401.0,97.9 402.0,98.7 403.0,99.6 404.0,100.6 405.0,101.6 406.0,102.7 407.0,103.7 408.0,104.8 409.0,105.9 410.0,106.9 411.0,107.9 412.0,108.9 413.0,109.8 414.0,110.8 415.0,111.7 416.0,112.6 417.0,113.4 418.0,114.3 419.0,115.1 420.0,116.0 421.0,116.8 422.0,117.6 423.0,118.4 424.0,119.1 425.0,119.9 426.0,120.6 427.0,121.4 428.0,122.1 429.0,122.8 430.0,123.5 431.0,124.2 432.0,124.8 433.0,125.5 434.0,126.1 435.0,126.8 436.0,127.4 437.0,128.1 438.0,128.7 439.0,129.4 440.0,130.0 441.0,130.7 442.0,131.4 443.0,132.1 444.0,132.8 445.0,133.5 446.0,134.2 447.0,134.9 448.0,135.6 449.0,136.3 450.0,137.0 451.0,137.7 452.0,138.5 453.0,139.2 454.0,140.0 455.0,140.7 456.0,141.5 457.0,142.2 458.0,142.9 459.0,143.7 460.0,144.4 461.0,145.1 462.0,145.8 463.0,146.4 464.0,147.1 465.0,147.8 466.0,148.4 467.0,149.1 468.0,149.7 469.0,150.4 470.0,151.0 471.0,151.6 472.0,152.3 473.0,152.9 474.0,153.5 475.0,154.2 476.0,154.8 477.0,155.3 478.0,155.9 479.0,156.4 480.0,157.0 481.0,157.4 482.0,157.9 483.0,158.4 484.0,158.8 485.0,159.2 486.0,159.6 487.0,160.0 488.0,160.3 489.0,160.7 490.0,161.0 491.0,161.2 492.0,161.5 493.0,161.7 494.0,161.9 495.0,162.1 496.0,162.3 497.0,162.5 498.0,162.7 499.0,162.8 500.0,163.0 501.0,163.1 502.0,163.2 503.0,163.4 504.0,163.5 505.0,163.6 506.0,163.7 507.0,163.8 508.0,163.8 509.0,163.9 510.0,164.0 511.0,164.0 512.0,164.1 513.0,164.2 514.0,164.2 515.0,164.2 516.0,164.3 517.0,164.3 518.0,164.3 519.0,164.4 520.0,164.4 L546,164.4 Z" fill="none" stroke="#111" stroke-width="1.2" stroke-linejoin="round"/>
<path d="M60,164.4 L60.0,164.4 61.0,164.4 62.0,164.4 63.0,164.4 64.0,164.4 65.0,164.4 66.0,164.4 67.0,164.4 68.0,164.4 69.0,164.4 70.0,164.4 71.0,164.4 72.0,164.4 73.0,164.4 74.0,164.4 75.0,164.4 76.0,164.4 77.0,164.4 78.0,164.4 79.0,164.4 80.0,164.4 81.0,164.4 82.0,164.4 83.0,164.4 84.0,164.4 85.0,164.4 86.0,164.4 87.0,164.4 88.0,164.4 89.0,164.4 90.0,164.4 91.0,164.4 92.0,164.4 93.0,164.4 94.0,164.4 95.0,164.4 96.0,164.4 97.0,164.4 98.0,164.4 99.0,164.4 100.0,164.4 101.0,164.4 102.0,164.4 103.0,164.4 104.0,164.4 105.0,164.4 106.0,164.4 107.0,164.4 108.0,164.4 109.0,164.4 110.0,164.4 111.0,164.4 112.0,164.4 113.0,164.3 114.0,164.3 115.0,164.3 116.0,164.3 117.0,164.3 118.0,164.3 119.0,164.3 120.0,164.3 121.0,164.3 122.0,164.3 123.0,164.3 124.0,164.3 125.0,164.3 126.0,164.3 127.0,164.3 128.0,164.3 129.0,164.3 130.0,164.3 131.0,164.3 132.0,164.3 133.0,164.3 134.0,164.2 135.0,164.2 136.0,164.2 137.0,164.2 138.0,164.1 139.0,164.1 140.0,164.1 141.0,164.0 142.0,164.0 143.0,163.9 144.0,163.8 145.0,163.7 146.0,163.5 147.0,163.3 148.0,163.2 149.0,163.0 150.0,162.8 151.0,162.6 152.0,162.3 153.0,162.1 154.0,161.8 155.0,161.6 156.0,161.3 157.0,161.0 158.0,160.7 159.0,160.3 160.0,160.0 161.0,159.6 162.0,159.2 163.0,158.8 164.0,158.3 165.0,157.8 166.0,157.3 167.0,156.8 168.0,156.2 169.0,155.6 170.0,154.9 171.0,154.1 172.0,153.3 173.0,152.5 174.0,151.5 175.0,150.5 176.0,149.5 177.0,148.4 178.0,147.3 179.0,146.1 180.0,144.9 181.0,143.7 182.0,142.4 183.0,141.1 184.0,139.7 185.0,138.3 186.0,136.9 187.0,135.5 188.0,134.0 189.0,132.5 190.0,131.0 191.0,129.5 192.0,127.9 193.0,126.4 194.0,124.8 195.0,123.2 196.0,121.6 197.0,120.0 198.0,118.3 199.0,116.6 200.0,114.9 201.0,113.2 202.0,111.5 203.0,109.7 204.0,107.9 205.0,106.1 206.0,104.2 207.0,102.4 208.0,100.6 209.0,98.8 210.0,97.1 211.0,95.4 212.0,93.7 213.0,92.0 214.0,90.3 215.0,88.5 216.0,86.6 217.0,84.6 218.0,82.5 219.0,80.4 220.0,78.2 221.0,76.1 222.0,74.0 223.0,72.0 224.0,69.9 225.0,67.9 226.0,65.9 227.0,63.8 228.0,61.7 229.0,59.7 230.0,57.6 231.0,55.7 232.0,53.8 233.0,52.0 234.0,50.3 235.0,48.6 236.0,46.9 237.0,45.2 238.0,43.5 239.0,41.8 240.0,40.1 241.0,38.5 242.0,36.9 243.0,35.5 244.0,34.3 245.0,33.2 246.0,32.4 247.0,31.7 248.0,31.1 249.0,30.6 250.0,30.2 251.0,29.9 252.0,29.7 253.0,29.6 254.0,29.6 255.0,29.6 256.0,29.8 257.0,30.0 258.0,30.3 259.0,30.7 260.0,31.2 261.0,31.8 262.0,32.4 263.0,33.1 264.0,33.8 265.0,34.5 266.0,35.3 267.0,36.1 268.0,37.0 269.0,37.9 270.0,38.8 271.0,39.8 272.0,40.8 273.0,41.8 274.0,43.0 275.0,44.3 276.0,45.7 277.0,47.2 278.0,48.7 279.0,50.1 280.0,51.5 281.0,52.8 282.0,54.0 283.0,55.1 284.0,56.3 285.0,57.5 286.0,58.7 287.0,60.0 288.0,61.3 289.0,62.6 290.0,63.9 291.0,65.2 292.0,66.5 293.0,67.7 294.0,68.9 295.0,70.1 296.0,71.3 297.0,72.5 298.0,73.6 299.0,74.8 300.0,75.9 301.0,77.0 302.0,78.2 303.0,79.3 304.0,80.4 305.0,81.5 306.0,82.6 307.0,83.7 308.0,84.8 309.0,85.7 310.0,86.6 311.0,87.4 312.0,88.0 313.0,88.7 314.0,89.3 315.0,89.8 316.0,90.2 317.0,90.7 318.0,91.0 319.0,91.3 320.0,91.5 321.0,91.7 322.0,91.8 323.0,91.9 324.0,92.0 325.0,92.1 326.0,92.2 327.0,92.2 328.0,92.3 329.0,92.3 330.0,92.4 331.0,92.4 332.0,92.5 333.0,92.5 334.0,92.5 335.0,92.5 336.0,92.6 337.0,92.6 338.0,92.6 339.0,92.7 340.0,92.7 341.0,92.8 342.0,92.8 343.0,92.9 344.0,93.0 345.0,93.1 346.0,93.2 347.0,93.3 348.0,93.4 349.0,93.6 350.0,93.7 351.0,93.8 352.0,94.0 353.0,94.1 354.0,94.3 355.0,94.4 356.0,94.6 357.0,94.7 358.0,94.9 359.0,95.0 360.0,95.2 361.0,95.3 362.0,95.4 363.0,95.5 364.0,95.6 365.0,95.6 366.0,95.7 367.0,95.8 368.0,95.8 369.0,95.9 370.0,95.9 371.0,95.9 372.0,95.9 373.0,95.9 374.0,95.9 375.0,95.8 376.0,95.7 377.0,95.5 378.0,95.4 379.0,95.2 380.0,95.0 381.0,94.7 382.0,94.5 383.0,94.2 384.0,93.9 385.0,93.6 386.0,93.3 387.0,93.0 388.0,92.8 389.0,92.7 390.0,92.6 391.0,92.6 392.0,92.7 393.0,92.9 394.0,93.2 395.0,93.6 396.0,94.0 397.0,94.5 398.0,95.1 399.0,95.8 400.0,96.6 401.0,97.4 402.0,98.2 403.0,99.1 404.0,100.0 405.0,100.9 406.0,101.8 407.0,102.7 408.0,103.7 409.0,104.6 410.0,105.5 411.0,106.4 412.0,107.2 413.0,108.1 414.0,109.0 415.0,109.8 416.0,110.7 417.0,111.5 418.0,112.4 419.0,113.2 420.0,114.0 421.0,114.8 422.0,115.6 423.0,116.3 424.0,117.1 425.0,117.9 426.0,118.6 427.0,119.3 428.0,120.1 429.0,120.8 430.0,121.5 431.0,122.2 432.0,122.8 433.0,123.5 434.0,124.1 435.0,124.8 436.0,125.4 437.0,126.1 438.0,126.7 439.0,127.4 440.0,128.0 441.0,128.7 442.0,129.4 443.0,130.1 444.0,130.8 445.0,131.5 446.0,132.2 447.0,132.9 448.0,133.6 449.0,134.3 450.0,135.0 451.0,135.7 452.0,136.4 453.0,137.1 454.0,137.8 455.0,138.6 456.0,139.3 457.0,140.0 458.0,140.6 459.0,141.3 460.0,142.0 461.0,142.6 462.0,143.3 463.0,143.9 464.0,144.5 465.0,145.1 466.0,145.7 467.0,146.3 468.0,146.9 469.0,147.4 470.0,148.0 471.0,148.5 472.0,148.9 473.0,149.4 474.0,149.9 475.0,150.3 476.0,150.7 477.0,151.1 478.0,151.6 479.0,152.0 480.0,152.4 481.0,152.8 482.0,153.3 483.0,153.7 484.0,154.1 485.0,154.5 486.0,154.9 487.0,155.3 488.0,155.7 489.0,156.0 490.0,156.4 491.0,156.7 492.0,157.0 493.0,157.3 494.0,157.5 495.0,157.8 496.0,158.0 497.0,158.3 498.0,158.5 499.0,158.8 500.0,159.0 501.0,159.2 502.0,159.4 503.0,159.7 504.0,159.9 505.0,160.1 506.0,160.3 507.0,160.5 508.0,160.6 509.0,160.8 510.0,161.0 511.0,161.1 512.0,161.3 513.0,161.5 514.0,161.6 515.0,161.7 516.0,161.9 517.0,162.0 518.0,162.1 519.0,162.3 520.0,162.4 521.0,162.5 522.0,162.7 523.0,162.8 524.0,162.9 525.0,163.1 526.0,163.2 527.0,163.3 528.0,163.4 529.0,163.5 530.0,163.6 531.0,163.7 532.0,163.7 533.0,163.8 534.0,163.9 535.0,163.9 536.0,164.0 537.0,164.1 538.0,164.1 539.0,164.2 540.0,164.2 541.0,164.3 542.0,164.3 543.0,164.3 544.0,164.4 545.0,164.4 546.0,164.4 L546,164.4 Z" fill="#00fc73" stroke="none"/>
<g clip-path="url(#c81a)"><path d="M60,164.4 L60.0,164.4 61.0,164.4 62.0,164.4 63.0,164.4 64.0,164.4 65.0,164.4 66.0,164.4 67.0,164.4 68.0,164.4 69.0,164.4 70.0,164.4 71.0,164.4 72.0,164.4 73.0,164.4 74.0,164.4 75.0,164.4 76.0,164.4 77.0,164.4 78.0,164.4 79.0,164.4 80.0,164.4 81.0,164.4 82.0,164.4 83.0,164.4 84.0,164.4 85.0,164.4 86.0,164.4 87.0,164.4 88.0,164.4 89.0,164.4 90.0,164.4 91.0,164.4 92.0,164.4 93.0,164.4 94.0,164.4 95.0,164.4 96.0,164.4 97.0,164.4 98.0,164.4 99.0,164.4 100.0,164.4 101.0,164.4 102.0,164.4 103.0,164.4 104.0,164.4 105.0,164.4 106.0,164.4 107.0,164.4 108.0,164.4 109.0,164.4 110.0,164.4 111.0,164.3 112.0,164.3 113.0,164.3 114.0,164.3 115.0,164.3 116.0,164.3 117.0,164.3 118.0,164.3 119.0,164.3 120.0,164.3 121.0,164.3 122.0,164.3 123.0,164.3 124.0,164.3 125.0,164.3 126.0,164.3 127.0,164.3 128.0,164.3 129.0,164.3 130.0,164.3 131.0,164.3 132.0,164.2 133.0,164.2 134.0,164.2 135.0,164.2 136.0,164.1 137.0,164.1 138.0,164.1 139.0,164.0 140.0,164.0 141.0,163.9 142.0,163.8 143.0,163.7 144.0,163.5 145.0,163.3 146.0,163.2 147.0,163.0 148.0,162.8 149.0,162.6 150.0,162.3 151.0,162.1 152.0,161.8 153.0,161.6 154.0,161.3 155.0,161.0 156.0,160.7 157.0,160.3 158.0,160.0 159.0,159.6 160.0,159.2 161.0,158.8 162.0,158.3 163.0,157.8 164.0,157.3 165.0,156.8 166.0,156.2 167.0,155.6 168.0,154.9 169.0,154.1 170.0,153.3 171.0,152.5 172.0,151.5 173.0,150.5 174.0,149.5 175.0,148.4 176.0,147.3 177.0,146.1 178.0,144.9 179.0,143.7 180.0,142.4 181.0,141.1 182.0,139.7 183.0,138.3 184.0,136.9 185.0,135.5 186.0,134.0 187.0,132.5 188.0,131.0 189.0,129.5 190.0,127.9 191.0,126.4 192.0,124.8 193.0,123.2 194.0,121.6 195.0,120.0 196.0,118.3 197.0,116.6 198.0,114.9 199.0,113.2 200.0,111.5 201.0,109.7 202.0,107.9 203.0,106.1 204.0,104.2 205.0,102.4 206.0,100.6 207.0,98.8 208.0,97.1 209.0,95.3 210.0,93.6 211.0,91.9 212.0,90.2 213.0,88.5 214.0,86.7 215.0,84.8 216.0,82.8 217.0,80.8 218.0,78.7 219.0,76.5 220.0,74.4 221.0,72.2 222.0,70.1 223.0,68.0 224.0,65.9 225.0,64.0 226.0,62.0 227.0,60.2 228.0,58.4 229.0,56.7 230.0,55.1 231.0,53.6 232.0,52.1 233.0,50.6 234.0,49.2 235.0,47.8 236.0,46.5 237.0,45.2 238.0,44.1 239.0,43.0 240.0,41.9 241.0,41.0 242.0,40.2 243.0,39.5 244.0,38.9 245.0,38.4 246.0,38.1 247.0,37.8 248.0,37.6 249.0,37.4 250.0,37.3 251.0,37.3 252.0,37.4 253.0,37.5 254.0,37.6 255.0,37.8 256.0,38.0 257.0,38.3 258.0,38.6 259.0,39.0 260.0,39.5 261.0,40.0 262.0,40.6 263.0,41.2 264.0,41.9 265.0,42.5 266.0,43.2 267.0,43.9 268.0,44.6 269.0,45.4 270.0,46.1 271.0,46.9 272.0,47.7 273.0,48.6 274.0,49.4 275.0,50.3 276.0,51.2 277.0,52.2 278.0,53.2 279.0,54.2 280.0,55.3 281.0,56.3 282.0,57.5 283.0,58.6 284.0,59.8 285.0,61.0 286.0,62.2 287.0,63.4 288.0,64.7 289.0,66.0 290.0,67.3 291.0,68.5 292.0,69.8 293.0,71.1 294.0,72.3 295.0,73.5 296.0,74.7 297.0,75.8 298.0,76.9 299.0,78.0 300.0,79.1 301.0,80.2 302.0,81.3 303.0,82.3 304.0,83.3 305.0,84.2 306.0,85.1 307.0,85.9 308.0,86.7 309.0,87.3 310.0,87.9 311.0,88.4 312.0,88.8 313.0,89.2 314.0,89.6 315.0,90.0 316.0,90.3 317.0,90.5 318.0,90.7 319.0,90.8 320.0,90.9 321.0,91.0 322.0,91.0 323.0,91.0 324.0,91.0 325.0,91.0 326.0,91.0 327.0,91.0 328.0,91.0 329.0,91.0 330.0,91.0 331.0,90.9 332.0,90.9 333.0,90.8 334.0,90.7 335.0,90.6 336.0,90.5 337.0,90.4 338.0,90.3 339.0,90.1 340.0,90.0 341.0,89.9 342.0,89.7 343.0,89.6 344.0,89.5 345.0,89.3 346.0,89.2 347.0,89.0 348.0,88.9 349.0,88.7 350.0,88.5 351.0,88.4 352.0,88.2 353.0,87.9 354.0,87.7 355.0,87.5 356.0,87.2 357.0,87.0 358.0,86.8 359.0,86.6 360.0,86.4 361.0,86.3 362.0,86.2 363.0,86.2 364.0,86.2 365.0,86.2 366.0,86.2 367.0,86.2 368.0,86.3 369.0,86.5 370.0,86.8 371.0,87.0 372.0,87.3 373.0,87.6 374.0,87.9 375.0,88.2 376.0,88.5 377.0,88.7 378.0,89.0 379.0,89.3 380.0,89.5 381.0,89.8 382.0,90.1 383.0,90.3 384.0,90.6 385.0,90.9 386.0,91.3 387.0,91.6 388.0,91.9 389.0,92.2 390.0,92.5 391.0,92.8 392.0,93.1 393.0,93.4 394.0,93.7 395.0,94.1 396.0,94.6 397.0,95.2 398.0,95.8 399.0,96.4 400.0,97.1 401.0,97.9 402.0,98.7 403.0,99.6 404.0,100.6 405.0,101.6 406.0,102.7 407.0,103.7 408.0,104.8 409.0,105.9 410.0,106.9 411.0,107.9 412.0,108.9 413.0,109.8 414.0,110.8 415.0,111.7 416.0,112.6 417.0,113.4 418.0,114.3 419.0,115.1 420.0,116.0 421.0,116.8 422.0,117.6 423.0,118.4 424.0,119.1 425.0,119.9 426.0,120.6 427.0,121.4 428.0,122.1 429.0,122.8 430.0,123.5 431.0,124.2 432.0,124.8 433.0,125.5 434.0,126.1 435.0,126.8 436.0,127.4 437.0,128.1 438.0,128.7 439.0,129.4 440.0,130.0 441.0,130.7 442.0,131.4 443.0,132.1 444.0,132.8 445.0,133.5 446.0,134.2 447.0,134.9 448.0,135.6 449.0,136.3 450.0,137.0 451.0,137.7 452.0,138.5 453.0,139.2 454.0,140.0 455.0,140.7 456.0,141.5 457.0,142.2 458.0,142.9 459.0,143.7 460.0,144.4 461.0,145.1 462.0,145.8 463.0,146.4 464.0,147.1 465.0,147.8 466.0,148.4 467.0,149.1 468.0,149.7 469.0,150.4 470.0,151.0 471.0,151.6 472.0,152.3 473.0,152.9 474.0,153.5 475.0,154.2 476.0,154.8 477.0,155.3 478.0,155.9 479.0,156.4 480.0,157.0 481.0,157.4 482.0,157.9 483.0,158.4 484.0,158.8 485.0,159.2 486.0,159.6 487.0,160.0 488.0,160.3 489.0,160.7 490.0,161.0 491.0,161.2 492.0,161.5 493.0,161.7 494.0,161.9 495.0,162.1 496.0,162.3 497.0,162.5 498.0,162.7 499.0,162.8 500.0,163.0 501.0,163.1 502.0,163.2 503.0,163.4 504.0,163.5 505.0,163.6 506.0,163.7 507.0,163.8 508.0,163.8 509.0,163.9 510.0,164.0 511.0,164.0 512.0,164.1 513.0,164.2 514.0,164.2 515.0,164.2 516.0,164.3 517.0,164.3 518.0,164.3 519.0,164.4 520.0,164.4 L546,164.4 Z" fill="#00fa5c" stroke="none"/>
<path d="M60,164.4 L60.0,164.4 61.0,164.4 62.0,164.4 63.0,164.4 64.0,164.4 65.0,164.4 66.0,164.4 67.0,164.4 68.0,164.4 69.0,164.4 70.0,164.4 71.0,164.4 72.0,164.4 73.0,164.4 74.0,164.4 75.0,164.4 76.0,164.4 77.0,164.4 78.0,164.4 79.0,164.4 80.0,164.4 81.0,164.4 82.0,164.4 83.0,164.4 84.0,164.4 85.0,164.4 86.0,164.4 87.0,164.4 88.0,164.3 89.0,164.3 90.0,164.3 91.0,164.3 92.0,164.3 93.0,164.3 94.0,164.3 95.0,164.3 96.0,164.3 97.0,164.3 98.0,164.3 99.0,164.3 100.0,164.3 101.0,164.3 102.0,164.3 103.0,164.3 104.0,164.3 105.0,164.3 106.0,164.3 107.0,164.3 108.0,164.3 109.0,164.2 110.0,164.2 111.0,164.2 112.0,164.2 113.0,164.2 114.0,164.2 115.0,164.2 116.0,164.2 117.0,164.1 118.0,164.1 119.0,164.1 120.0,164.1 121.0,164.1 122.0,164.0 123.0,164.0 124.0,163.9 125.0,163.9 126.0,163.8 127.0,163.7 128.0,163.7 129.0,163.6 130.0,163.5 131.0,163.4 132.0,163.3 133.0,163.2 134.0,163.1 135.0,162.9 136.0,162.8 137.0,162.7 138.0,162.5 139.0,162.3 140.0,162.2 141.0,162.0 142.0,161.8 143.0,161.6 144.0,161.4 145.0,161.2 146.0,161.0 147.0,160.8 148.0,160.5 149.0,160.2 150.0,159.9 151.0,159.6 152.0,159.3 153.0,158.9 154.0,158.5 155.0,158.1 156.0,157.6 157.0,157.1 158.0,156.6 159.0,156.0 160.0,155.4 161.0,154.8 162.0,154.1 163.0,153.3 164.0,152.5 165.0,151.7 166.0,150.8 167.0,149.9 168.0,148.9 169.0,147.9 170.0,146.9 171.0,145.9 172.0,144.9 173.0,143.8 174.0,142.6 175.0,141.4 176.0,140.2 177.0,138.9 178.0,137.6 179.0,136.3 180.0,134.9 181.0,133.4 182.0,131.9 183.0,130.4 184.0,128.7 185.0,127.0 186.0,125.3 187.0,123.5 188.0,121.7 189.0,119.8 190.0,117.9 191.0,115.9 192.0,113.8 193.0,111.7 194.0,109.5 195.0,107.2 196.0,104.8 197.0,102.3 198.0,99.7 199.0,97.0 200.0,94.3 201.0,91.6 202.0,88.9 203.0,86.2 204.0,83.6 205.0,81.1 206.0,78.6 207.0,76.2 208.0,73.8 209.0,71.6 210.0,69.3 211.0,67.2 212.0,65.2 213.0,63.2 214.0,61.4 215.0,59.6 216.0,57.9 217.0,56.2 218.0,54.6 219.0,53.1 220.0,51.6 221.0,50.1 222.0,48.7 223.0,47.3 224.0,46.0 225.0,44.8 226.0,43.6 227.0,42.5 228.0,41.4 229.0,40.4 230.0,39.5 231.0,38.7 232.0,37.9 233.0,37.3 234.0,36.7 235.0,36.2 236.0,35.7 237.0,35.4 238.0,35.0 239.0,34.7 240.0,34.5 241.0,34.2 242.0,34.1 243.0,33.9 244.0,33.8 245.0,33.8 246.0,33.8 247.0,33.8 248.0,33.9 249.0,34.0 250.0,34.2 251.0,34.4 252.0,34.6 253.0,34.9 254.0,35.2 255.0,35.6 256.0,36.1 257.0,36.5 258.0,37.0 259.0,37.6 260.0,38.2 261.0,38.8 262.0,39.4 263.0,40.0 264.0,40.6 265.0,41.2 266.0,41.8 267.0,42.4 268.0,43.0 269.0,43.8 270.0,44.5 271.0,45.3 272.0,46.2 273.0,47.1 274.0,48.0 275.0,48.9 276.0,49.9 277.0,50.9 278.0,52.0 279.0,53.1 280.0,54.2 281.0,55.4 282.0,56.6 283.0,57.8 284.0,59.1 285.0,60.4 286.0,61.7 287.0,63.0 288.0,64.3 289.0,65.6 290.0,66.9 291.0,68.2 292.0,69.5 293.0,70.8 294.0,72.0 295.0,73.3 296.0,74.4 297.0,75.6 298.0,76.7 299.0,77.8 300.0,78.9 301.0,79.9 302.0,80.9 303.0,81.9 304.0,82.8 305.0,83.7 306.0,84.6 307.0,85.4 308.0,86.1 309.0,86.8 310.0,87.4 311.0,88.0 312.0,88.5 313.0,89.0 314.0,89.4 315.0,89.8 316.0,90.2 317.0,90.5 318.0,90.8 319.0,91.0 320.0,91.2 321.0,91.4 322.0,91.5 323.0,91.6 324.0,91.7 325.0,91.8 326.0,91.8 327.0,91.9 328.0,91.9 329.0,92.0 330.0,92.0 331.0,91.9 332.0,91.9 333.0,91.9 334.0,91.8 335.0,91.7 336.0,91.7 337.0,91.6 338.0,91.5 339.0,91.4 340.0,91.3 341.0,91.2 342.0,91.1 343.0,91.0 344.0,90.9 345.0,90.7 346.0,90.6 347.0,90.5 348.0,90.4 349.0,90.2 350.0,90.1 351.0,90.0 352.0,89.9 353.0,89.8 354.0,89.7 355.0,89.5 356.0,89.4 357.0,89.3 358.0,89.2 359.0,89.1 360.0,89.0 361.0,89.0 362.0,88.9 363.0,88.9 364.0,88.8 365.0,88.8 366.0,88.8 367.0,88.8 368.0,88.8 369.0,88.8 370.0,88.9 371.0,89.0 372.0,89.1 373.0,89.3 374.0,89.5 375.0,89.7 376.0,90.0 377.0,90.2 378.0,90.5 379.0,90.9 380.0,91.2 381.0,91.6 382.0,92.0 383.0,92.6 384.0,93.1 385.0,93.8 386.0,94.5 387.0,95.3 388.0,96.2 389.0,97.0 390.0,97.9 391.0,98.8 392.0,99.7 393.0,100.6 394.0,101.4 395.0,102.3 396.0,103.1 397.0,104.0 398.0,104.8 399.0,105.7 400.0,106.6 401.0,107.5 402.0,108.5 403.0,109.6 404.0,110.6 405.0,111.7 406.0,112.7 407.0,113.8 408.0,114.9 409.0,115.9 410.0,117.0 411.0,118.0 412.0,119.0 413.0,120.0 414.0,120.9 415.0,121.9 416.0,122.8 417.0,123.8 418.0,124.7 419.0,125.6 420.0,126.5 421.0,127.3 422.0,128.2 423.0,129.0 424.0,129.8 425.0,130.7 426.0,131.5 427.0,132.2 428.0,133.0 429.0,133.7 430.0,134.5 431.0,135.2 432.0,135.8 433.0,136.5 434.0,137.2 435.0,137.8 436.0,138.4 437.0,139.1 438.0,139.7 439.0,140.4 440.0,141.0 441.0,141.7 442.0,142.4 443.0,143.1 444.0,143.8 445.0,144.5 446.0,145.2 447.0,145.9 448.0,146.6 449.0,147.3 450.0,148.0 451.0,148.7 452.0,149.5 453.0,150.2 454.0,150.9 455.0,151.7 456.0,152.4 457.0,153.1 458.0,153.7 459.0,154.3 460.0,154.9 461.0,155.5 462.0,156.0 463.0,156.6 464.0,157.0 465.0,157.5 466.0,158.0 467.0,158.4 468.0,158.8 469.0,159.2 470.0,159.6 471.0,159.9 472.0,160.2 473.0,160.6 474.0,160.9 475.0,161.2 476.0,161.4 477.0,161.7 478.0,161.9 479.0,162.2 480.0,162.4 481.0,162.6 482.0,162.8 483.0,163.0 484.0,163.2 485.0,163.3 486.0,163.5 487.0,163.6 488.0,163.8 489.0,163.9 490.0,164.0 491.0,164.0 492.0,164.1 493.0,164.2 494.0,164.2 495.0,164.3 496.0,164.3 497.0,164.3 498.0,164.4 499.0,164.4 500.0,164.4 L546,164.4 Z" fill="#00f84a" stroke="none"/>
<path d="M60,164.4 L60.0,164.4 61.0,164.4 62.0,164.4 63.0,164.4 64.0,164.4 65.0,164.4 66.0,164.4 67.0,164.4 68.0,164.4 69.0,164.4 70.0,164.4 71.0,164.4 72.0,164.4 73.0,164.4 74.0,164.4 75.0,164.4 76.0,164.4 77.0,164.4 78.0,164.4 79.0,164.4 80.0,164.4 81.0,164.4 82.0,164.4 83.0,164.4 84.0,164.4 85.0,164.4 86.0,164.4 87.0,164.4 88.0,164.4 89.0,164.4 90.0,164.4 91.0,164.4 92.0,164.4 93.0,164.4 94.0,164.4 95.0,164.4 96.0,164.4 97.0,164.4 98.0,164.4 99.0,164.4 100.0,164.4 101.0,164.4 102.0,164.4 103.0,164.4 104.0,164.4 105.0,164.4 106.0,164.4 107.0,164.4 108.0,164.4 109.0,164.4 110.0,164.4 111.0,164.3 112.0,164.3 113.0,164.3 114.0,164.3 115.0,164.3 116.0,164.3 117.0,164.3 118.0,164.3 119.0,164.3 120.0,164.3 121.0,164.3 122.0,164.3 123.0,164.3 124.0,164.3 125.0,164.3 126.0,164.3 127.0,164.3 128.0,164.3 129.0,164.3 130.0,164.3 131.0,164.3 132.0,164.2 133.0,164.2 134.0,164.2 135.0,164.2 136.0,164.1 137.0,164.1 138.0,164.1 139.0,164.0 140.0,164.0 141.0,163.9 142.0,163.8 143.0,163.7 144.0,163.5 145.0,163.3 146.0,163.2 147.0,163.0 148.0,162.8 149.0,162.6 150.0,162.3 151.0,162.1 152.0,161.8 153.0,161.6 154.0,161.3 155.0,161.0 156.0,160.7 157.0,160.3 158.0,160.0 159.0,159.6 160.0,159.2 161.0,158.8 162.0,158.3 163.0,157.8 164.0,157.3 165.0,156.8 166.0,156.2 167.0,155.6 168.0,154.9 169.0,154.1 170.0,153.3 171.0,152.5 172.0,151.5 173.0,150.5 174.0,149.5 175.0,148.4 176.0,147.3 177.0,146.1 178.0,144.9 179.0,143.7 180.0,142.4 181.0,141.1 182.0,139.7 183.0,138.3 184.0,136.9 185.0,135.5 186.0,134.0 187.0,132.5 188.0,131.0 189.0,129.5 190.0,127.9 191.0,126.4 192.0,124.8 193.0,123.2 194.0,121.6 195.0,120.0 196.0,118.3 197.0,116.6 198.0,114.9 199.0,113.2 200.0,111.5 201.0,109.7 202.0,107.9 203.0,106.1 204.0,104.2 205.0,102.4 206.0,100.6 207.0,98.8 208.0,97.1 209.0,95.3 210.0,93.6 211.0,91.9 212.0,90.2 213.0,88.5 214.0,86.7 215.0,84.8 216.0,82.8 217.0,80.8 218.0,78.7 219.0,76.5 220.0,74.4 221.0,72.2 222.0,70.1 223.0,68.0 224.0,65.9 225.0,64.0 226.0,62.0 227.0,60.2 228.0,58.4 229.0,56.7 230.0,55.1 231.0,53.6 232.0,52.1 233.0,50.6 234.0,49.2 235.0,47.8 236.0,46.5 237.0,45.2 238.0,44.1 239.0,43.0 240.0,41.9 241.0,41.0 242.0,40.2 243.0,39.5 244.0,38.9 245.0,38.4 246.0,38.1 247.0,37.8 248.0,37.6 249.0,37.4 250.0,37.3 251.0,37.3 252.0,37.4 253.0,37.5 254.0,37.6 255.0,37.8 256.0,38.0 257.0,38.3 258.0,38.6 259.0,39.0 260.0,39.5 261.0,40.0 262.0,40.6 263.0,41.2 264.0,41.9 265.0,42.5 266.0,43.2 267.0,43.9 268.0,44.6 269.0,45.4 270.0,46.1 271.0,46.9 272.0,47.7 273.0,48.6 274.0,49.4 275.0,50.3 276.0,51.2 277.0,52.2 278.0,53.2 279.0,54.2 280.0,55.3 281.0,56.3 282.0,57.5 283.0,58.6 284.0,59.8 285.0,61.0 286.0,62.2 287.0,63.4 288.0,64.7 289.0,66.0 290.0,67.3 291.0,68.5 292.0,69.8 293.0,71.1 294.0,72.3 295.0,73.5 296.0,74.7 297.0,75.8 298.0,76.9 299.0,78.0 300.0,79.1 301.0,80.2 302.0,81.3 303.0,82.3 304.0,83.3 305.0,84.2 306.0,85.1 307.0,85.9 308.0,86.7 309.0,87.3 310.0,87.9 311.0,88.4 312.0,88.8 313.0,89.2 314.0,89.6 315.0,90.0 316.0,90.3 317.0,90.5 318.0,90.7 319.0,90.8 320.0,90.9 321.0,91.0 322.0,91.0 323.0,91.0 324.0,91.0 325.0,91.0 326.0,91.0 327.0,91.0 328.0,91.0 329.0,91.0 330.0,91.0 331.0,90.9 332.0,90.9 333.0,90.8 334.0,90.7 335.0,90.6 336.0,90.5 337.0,90.4 338.0,90.3 339.0,90.1 340.0,90.0 341.0,89.9 342.0,89.7 343.0,89.6 344.0,89.5 345.0,89.3 346.0,89.2 347.0,89.0 348.0,88.9 349.0,88.7 350.0,88.5 351.0,88.4 352.0,88.2 353.0,87.9 354.0,87.7 355.0,87.5 356.0,87.2 357.0,87.0 358.0,86.8 359.0,86.6 360.0,86.4 361.0,86.3 362.0,86.2 363.0,86.2 364.0,86.2 365.0,86.2 366.0,86.2 367.0,86.2 368.0,86.3 369.0,86.5 370.0,86.8 371.0,87.0 372.0,87.3 373.0,87.6 374.0,87.9 375.0,88.2 376.0,88.5 377.0,88.7 378.0,89.0 379.0,89.3 380.0,89.5 381.0,89.8 382.0,90.1 383.0,90.3 384.0,90.6 385.0,90.9 386.0,91.3 387.0,91.6 388.0,91.9 389.0,92.2 390.0,92.5 391.0,92.8 392.0,93.1 393.0,93.4 394.0,93.7 395.0,94.1 396.0,94.6 397.0,95.2 398.0,95.8 399.0,96.4 400.0,97.1 401.0,97.9 402.0,98.7 403.0,99.6 404.0,100.6 405.0,101.6 406.0,102.7 407.0,103.7 408.0,104.8 409.0,105.9 410.0,106.9 411.0,107.9 412.0,108.9 413.0,109.8 414.0,110.8 415.0,111.7 416.0,112.6 417.0,113.4 418.0,114.3 419.0,115.1 420.0,116.0 421.0,116.8 422.0,117.6 423.0,118.4 424.0,119.1 425.0,119.9 426.0,120.6 427.0,121.4 428.0,122.1 429.0,122.8 430.0,123.5 431.0,124.2 432.0,124.8 433.0,125.5 434.0,126.1 435.0,126.8 436.0,127.4 437.0,128.1 438.0,128.7 439.0,129.4 440.0,130.0 441.0,130.7 442.0,131.4 443.0,132.1 444.0,132.8 445.0,133.5 446.0,134.2 447.0,134.9 448.0,135.6 449.0,136.3 450.0,137.0 451.0,137.7 452.0,138.5 453.0,139.2 454.0,140.0 455.0,140.7 456.0,141.5 457.0,142.2 458.0,142.9 459.0,143.7 460.0,144.4 461.0,145.1 462.0,145.8 463.0,146.4 464.0,147.1 465.0,147.8 466.0,148.4 467.0,149.1 468.0,149.7 469.0,150.4 470.0,151.0 471.0,151.6 472.0,152.3 473.0,152.9 474.0,153.5 475.0,154.2 476.0,154.8 477.0,155.3 478.0,155.9 479.0,156.4 480.0,157.0 481.0,157.4 482.0,157.9 483.0,158.4 484.0,158.8 485.0,159.2 486.0,159.6 487.0,160.0 488.0,160.3 489.0,160.7 490.0,161.0 491.0,161.2 492.0,161.5 493.0,161.7 494.0,161.9 495.0,162.1 496.0,162.3 497.0,162.5 498.0,162.7 499.0,162.8 500.0,163.0 501.0,163.1 502.0,163.2 503.0,163.4 504.0,163.5 505.0,163.6 506.0,163.7 507.0,163.8 508.0,163.8 509.0,163.9 510.0,164.0 511.0,164.0 512.0,164.1 513.0,164.2 514.0,164.2 515.0,164.2 516.0,164.3 517.0,164.3 518.0,164.3 519.0,164.4 520.0,164.4 L546,164.4 Z" fill="none" stroke="#005a20" stroke-width="1.1"/>
<path d="M60,164.4 L60.0,164.4 61.0,164.4 62.0,164.4 63.0,164.4 64.0,164.4 65.0,164.4 66.0,164.4 67.0,164.4 68.0,164.4 69.0,164.4 70.0,164.4 71.0,164.4 72.0,164.4 73.0,164.4 74.0,164.4 75.0,164.4 76.0,164.4 77.0,164.4 78.0,164.4 79.0,164.4 80.0,164.4 81.0,164.4 82.0,164.4 83.0,164.4 84.0,164.4 85.0,164.4 86.0,164.4 87.0,164.4 88.0,164.3 89.0,164.3 90.0,164.3 91.0,164.3 92.0,164.3 93.0,164.3 94.0,164.3 95.0,164.3 96.0,164.3 97.0,164.3 98.0,164.3 99.0,164.3 100.0,164.3 101.0,164.3 102.0,164.3 103.0,164.3 104.0,164.3 105.0,164.3 106.0,164.3 107.0,164.3 108.0,164.3 109.0,164.2 110.0,164.2 111.0,164.2 112.0,164.2 113.0,164.2 114.0,164.2 115.0,164.2 116.0,164.2 117.0,164.1 118.0,164.1 119.0,164.1 120.0,164.1 121.0,164.1 122.0,164.0 123.0,164.0 124.0,163.9 125.0,163.9 126.0,163.8 127.0,163.7 128.0,163.7 129.0,163.6 130.0,163.5 131.0,163.4 132.0,163.3 133.0,163.2 134.0,163.1 135.0,162.9 136.0,162.8 137.0,162.7 138.0,162.5 139.0,162.3 140.0,162.2 141.0,162.0 142.0,161.8 143.0,161.6 144.0,161.4 145.0,161.2 146.0,161.0 147.0,160.8 148.0,160.5 149.0,160.2 150.0,159.9 151.0,159.6 152.0,159.3 153.0,158.9 154.0,158.5 155.0,158.1 156.0,157.6 157.0,157.1 158.0,156.6 159.0,156.0 160.0,155.4 161.0,154.8 162.0,154.1 163.0,153.3 164.0,152.5 165.0,151.7 166.0,150.8 167.0,149.9 168.0,148.9 169.0,147.9 170.0,146.9 171.0,145.9 172.0,144.9 173.0,143.8 174.0,142.6 175.0,141.4 176.0,140.2 177.0,138.9 178.0,137.6 179.0,136.3 180.0,134.9 181.0,133.4 182.0,131.9 183.0,130.4 184.0,128.7 185.0,127.0 186.0,125.3 187.0,123.5 188.0,121.7 189.0,119.8 190.0,117.9 191.0,115.9 192.0,113.8 193.0,111.7 194.0,109.5 195.0,107.2 196.0,104.8 197.0,102.3 198.0,99.7 199.0,97.0 200.0,94.3 201.0,91.6 202.0,88.9 203.0,86.2 204.0,83.6 205.0,81.1 206.0,78.6 207.0,76.2 208.0,73.8 209.0,71.6 210.0,69.3 211.0,67.2 212.0,65.2 213.0,63.2 214.0,61.4 215.0,59.6 216.0,57.9 217.0,56.2 218.0,54.6 219.0,53.1 220.0,51.6 221.0,50.1 222.0,48.7 223.0,47.3 224.0,46.0 225.0,44.8 226.0,43.6 227.0,42.5 228.0,41.4 229.0,40.4 230.0,39.5 231.0,38.7 232.0,37.9 233.0,37.3 234.0,36.7 235.0,36.2 236.0,35.7 237.0,35.4 238.0,35.0 239.0,34.7 240.0,34.5 241.0,34.2 242.0,34.1 243.0,33.9 244.0,33.8 245.0,33.8 246.0,33.8 247.0,33.8 248.0,33.9 249.0,34.0 250.0,34.2 251.0,34.4 252.0,34.6 253.0,34.9 254.0,35.2 255.0,35.6 256.0,36.1 257.0,36.5 258.0,37.0 259.0,37.6 260.0,38.2 261.0,38.8 262.0,39.4 263.0,40.0 264.0,40.6 265.0,41.2 266.0,41.8 267.0,42.4 268.0,43.0 269.0,43.8 270.0,44.5 271.0,45.3 272.0,46.2 273.0,47.1 274.0,48.0 275.0,48.9 276.0,49.9 277.0,50.9 278.0,52.0 279.0,53.1 280.0,54.2 281.0,55.4 282.0,56.6 283.0,57.8 284.0,59.1 285.0,60.4 286.0,61.7 287.0,63.0 288.0,64.3 289.0,65.6 290.0,66.9 291.0,68.2 292.0,69.5 293.0,70.8 294.0,72.0 295.0,73.3 296.0,74.4 297.0,75.6 298.0,76.7 299.0,77.8 300.0,78.9 301.0,79.9 302.0,80.9 303.0,81.9 304.0,82.8 305.0,83.7 306.0,84.6 307.0,85.4 308.0,86.1 309.0,86.8 310.0,87.4 311.0,88.0 312.0,88.5 313.0,89.0 314.0,89.4 315.0,89.8 316.0,90.2 317.0,90.5 318.0,90.8 319.0,91.0 320.0,91.2 321.0,91.4 322.0,91.5 323.0,91.6 324.0,91.7 325.0,91.8 326.0,91.8 327.0,91.9 328.0,91.9 329.0,92.0 330.0,92.0 331.0,91.9 332.0,91.9 333.0,91.9 334.0,91.8 335.0,91.7 336.0,91.7 337.0,91.6 338.0,91.5 339.0,91.4 340.0,91.3 341.0,91.2 342.0,91.1 343.0,91.0 344.0,90.9 345.0,90.7 346.0,90.6 347.0,90.5 348.0,90.4 349.0,90.2 350.0,90.1 351.0,90.0 352.0,89.9 353.0,89.8 354.0,89.7 355.0,89.5 356.0,89.4 357.0,89.3 358.0,89.2 359.0,89.1 360.0,89.0 361.0,89.0 362.0,88.9 363.0,88.9 364.0,88.8 365.0,88.8 366.0,88.8 367.0,88.8 368.0,88.8 369.0,88.8 370.0,88.9 371.0,89.0 372.0,89.1 373.0,89.3 374.0,89.5 375.0,89.7 376.0,90.0 377.0,90.2 378.0,90.5 379.0,90.9 380.0,91.2 381.0,91.6 382.0,92.0 383.0,92.6 384.0,93.1 385.0,93.8 386.0,94.5 387.0,95.3 388.0,96.2 389.0,97.0 390.0,97.9 391.0,98.8 392.0,99.7 393.0,100.6 394.0,101.4 395.0,102.3 396.0,103.1 397.0,104.0 398.0,104.8 399.0,105.7 400.0,106.6 401.0,107.5 402.0,108.5 403.0,109.6 404.0,110.6 405.0,111.7 406.0,112.7 407.0,113.8 408.0,114.9 409.0,115.9 410.0,117.0 411.0,118.0 412.0,119.0 413.0,120.0 414.0,120.9 415.0,121.9 416.0,122.8 417.0,123.8 418.0,124.7 419.0,125.6 420.0,126.5 421.0,127.3 422.0,128.2 423.0,129.0 424.0,129.8 425.0,130.7 426.0,131.5 427.0,132.2 428.0,133.0 429.0,133.7 430.0,134.5 431.0,135.2 432.0,135.8 433.0,136.5 434.0,137.2 435.0,137.8 436.0,138.4 437.0,139.1 438.0,139.7 439.0,140.4 440.0,141.0 441.0,141.7 442.0,142.4 443.0,143.1 444.0,143.8 445.0,144.5 446.0,145.2 447.0,145.9 448.0,146.6 449.0,147.3 450.0,148.0 451.0,148.7 452.0,149.5 453.0,150.2 454.0,150.9 455.0,151.7 456.0,152.4 457.0,153.1 458.0,153.7 459.0,154.3 460.0,154.9 461.0,155.5 462.0,156.0 463.0,156.6 464.0,157.0 465.0,157.5 466.0,158.0 467.0,158.4 468.0,158.8 469.0,159.2 470.0,159.6 471.0,159.9 472.0,160.2 473.0,160.6 474.0,160.9 475.0,161.2 476.0,161.4 477.0,161.7 478.0,161.9 479.0,162.2 480.0,162.4 481.0,162.6 482.0,162.8 483.0,163.0 484.0,163.2 485.0,163.3 486.0,163.5 487.0,163.6 488.0,163.8 489.0,163.9 490.0,164.0 491.0,164.0 492.0,164.1 493.0,164.2 494.0,164.2 495.0,164.3 496.0,164.3 497.0,164.3 498.0,164.4 499.0,164.4 500.0,164.4 L546,164.4 Z" fill="none" stroke="#009a14" stroke-width="1"/></g>
<path d="M60,164.4 L60.0,164.4 61.0,164.4 62.0,164.4 63.0,164.4 64.0,164.4 65.0,164.4 66.0,164.4 67.0,164.4 68.0,164.4 69.0,164.4 70.0,164.4 71.0,164.4 72.0,164.4 73.0,164.4 74.0,164.4 75.0,164.4 76.0,164.4 77.0,164.4 78.0,164.4 79.0,164.4 80.0,164.4 81.0,164.4 82.0,164.4 83.0,164.4 84.0,164.4 85.0,164.4 86.0,164.4 87.0,164.4 88.0,164.4 89.0,164.4 90.0,164.4 91.0,164.4 92.0,164.4 93.0,164.4 94.0,164.4 95.0,164.4 96.0,164.4 97.0,164.4 98.0,164.4 99.0,164.4 100.0,164.4 101.0,164.4 102.0,164.4 103.0,164.4 104.0,164.4 105.0,164.4 106.0,164.4 107.0,164.4 108.0,164.4 109.0,164.4 110.0,164.4 111.0,164.4 112.0,164.4 113.0,164.3 114.0,164.3 115.0,164.3 116.0,164.3 117.0,164.3 118.0,164.3 119.0,164.3 120.0,164.3 121.0,164.3 122.0,164.3 123.0,164.3 124.0,164.3 125.0,164.3 126.0,164.3 127.0,164.3 128.0,164.3 129.0,164.3 130.0,164.3 131.0,164.3 132.0,164.3 133.0,164.3 134.0,164.2 135.0,164.2 136.0,164.2 137.0,164.2 138.0,164.1 139.0,164.1 140.0,164.1 141.0,164.0 142.0,164.0 143.0,163.9 144.0,163.8 145.0,163.7 146.0,163.5 147.0,163.3 148.0,163.2 149.0,163.0 150.0,162.8 151.0,162.6 152.0,162.3 153.0,162.1 154.0,161.8 155.0,161.6 156.0,161.3 157.0,161.0 158.0,160.7 159.0,160.3 160.0,160.0 161.0,159.6 162.0,159.2 163.0,158.8 164.0,158.3 165.0,157.8 166.0,157.3 167.0,156.8 168.0,156.2 169.0,155.6 170.0,154.9 171.0,154.1 172.0,153.3 173.0,152.5 174.0,151.5 175.0,150.5 176.0,149.5 177.0,148.4 178.0,147.3 179.0,146.1 180.0,144.9 181.0,143.7 182.0,142.4 183.0,141.1 184.0,139.7 185.0,138.3 186.0,136.9 187.0,135.5 188.0,134.0 189.0,132.5 190.0,131.0 191.0,129.5 192.0,127.9 193.0,126.4 194.0,124.8 195.0,123.2 196.0,121.6 197.0,120.0 198.0,118.3 199.0,116.6 200.0,114.9 201.0,113.2 202.0,111.5 203.0,109.7 204.0,107.9 205.0,106.1 206.0,104.2 207.0,102.4 208.0,100.6 209.0,98.8 210.0,97.1 211.0,95.4 212.0,93.7 213.0,92.0 214.0,90.3 215.0,88.5 216.0,86.6 217.0,84.6 218.0,82.5 219.0,80.4 220.0,78.2 221.0,76.1 222.0,74.0 223.0,72.0 224.0,69.9 225.0,67.9 226.0,65.9 227.0,63.8 228.0,61.7 229.0,59.7 230.0,57.6 231.0,55.7 232.0,53.8 233.0,52.0 234.0,50.3 235.0,48.6 236.0,46.9 237.0,45.2 238.0,43.5 239.0,41.8 240.0,40.1 241.0,38.5 242.0,36.9 243.0,35.5 244.0,34.3 245.0,33.2 246.0,32.4 247.0,31.7 248.0,31.1 249.0,30.6 250.0,30.2 251.0,29.9 252.0,29.7 253.0,29.6 254.0,29.6 255.0,29.6 256.0,29.8 257.0,30.0 258.0,30.3 259.0,30.7 260.0,31.2 261.0,31.8 262.0,32.4 263.0,33.1 264.0,33.8 265.0,34.5 266.0,35.3 267.0,36.1 268.0,37.0 269.0,37.9 270.0,38.8 271.0,39.8 272.0,40.8 273.0,41.8 274.0,43.0 275.0,44.3 276.0,45.7 277.0,47.2 278.0,48.7 279.0,50.1 280.0,51.5 281.0,52.8 282.0,54.0 283.0,55.1 284.0,56.3 285.0,57.5 286.0,58.7 287.0,60.0 288.0,61.3 289.0,62.6 290.0,63.9 291.0,65.2 292.0,66.5 293.0,67.7 294.0,68.9 295.0,70.1 296.0,71.3 297.0,72.5 298.0,73.6 299.0,74.8 300.0,75.9 301.0,77.0 302.0,78.2 303.0,79.3 304.0,80.4 305.0,81.5 306.0,82.6 307.0,83.7 308.0,84.8 309.0,85.7 310.0,86.6 311.0,87.4 312.0,88.0 313.0,88.7 314.0,89.3 315.0,89.8 316.0,90.2 317.0,90.7 318.0,91.0 319.0,91.3 320.0,91.5 321.0,91.7 322.0,91.8 323.0,91.9 324.0,92.0 325.0,92.1 326.0,92.2 327.0,92.2 328.0,92.3 329.0,92.3 330.0,92.4 331.0,92.4 332.0,92.5 333.0,92.5 334.0,92.5 335.0,92.5 336.0,92.6 337.0,92.6 338.0,92.6 339.0,92.7 340.0,92.7 341.0,92.8 342.0,92.8 343.0,92.9 344.0,93.0 345.0,93.1 346.0,93.2 347.0,93.3 348.0,93.4 349.0,93.6 350.0,93.7 351.0,93.8 352.0,94.0 353.0,94.1 354.0,94.3 355.0,94.4 356.0,94.6 357.0,94.7 358.0,94.9 359.0,95.0 360.0,95.2 361.0,95.3 362.0,95.4 363.0,95.5 364.0,95.6 365.0,95.6 366.0,95.7 367.0,95.8 368.0,95.8 369.0,95.9 370.0,95.9 371.0,95.9 372.0,95.9 373.0,95.9 374.0,95.9 375.0,95.8 376.0,95.7 377.0,95.5 378.0,95.4 379.0,95.2 380.0,95.0 381.0,94.7 382.0,94.5 383.0,94.2 384.0,93.9 385.0,93.6 386.0,93.3 387.0,93.0 388.0,92.8 389.0,92.7 390.0,92.6 391.0,92.6 392.0,92.7 393.0,92.9 394.0,93.2 395.0,93.6 396.0,94.0 397.0,94.5 398.0,95.1 399.0,95.8 400.0,96.6 401.0,97.4 402.0,98.2 403.0,99.1 404.0,100.0 405.0,100.9 406.0,101.8 407.0,102.7 408.0,103.7 409.0,104.6 410.0,105.5 411.0,106.4 412.0,107.2 413.0,108.1 414.0,109.0 415.0,109.8 416.0,110.7 417.0,111.5 418.0,112.4 419.0,113.2 420.0,114.0 421.0,114.8 422.0,115.6 423.0,116.3 424.0,117.1 425.0,117.9 426.0,118.6 427.0,119.3 428.0,120.1 429.0,120.8 430.0,121.5 431.0,122.2 432.0,122.8 433.0,123.5 434.0,124.1 435.0,124.8 436.0,125.4 437.0,126.1 438.0,126.7 439.0,127.4 440.0,128.0 441.0,128.7 442.0,129.4 443.0,130.1 444.0,130.8 445.0,131.5 446.0,132.2 447.0,132.9 448.0,133.6 449.0,134.3 450.0,135.0 451.0,135.7 452.0,136.4 453.0,137.1 454.0,137.8 455.0,138.6 456.0,139.3 457.0,140.0 458.0,140.6 459.0,141.3 460.0,142.0 461.0,142.6 462.0,143.3 463.0,143.9 464.0,144.5 465.0,145.1 466.0,145.7 467.0,146.3 468.0,146.9 469.0,147.4 470.0,148.0 471.0,148.5 472.0,148.9 473.0,149.4 474.0,149.9 475.0,150.3 476.0,150.7 477.0,151.1 478.0,151.6 479.0,152.0 480.0,152.4 481.0,152.8 482.0,153.3 483.0,153.7 484.0,154.1 485.0,154.5 486.0,154.9 487.0,155.3 488.0,155.7 489.0,156.0 490.0,156.4 491.0,156.7 492.0,157.0 493.0,157.3 494.0,157.5 495.0,157.8 496.0,158.0 497.0,158.3 498.0,158.5 499.0,158.8 500.0,159.0 501.0,159.2 502.0,159.4 503.0,159.7 504.0,159.9 505.0,160.1 506.0,160.3 507.0,160.5 508.0,160.6 509.0,160.8 510.0,161.0 511.0,161.1 512.0,161.3 513.0,161.5 514.0,161.6 515.0,161.7 516.0,161.9 517.0,162.0 518.0,162.1 519.0,162.3 520.0,162.4 521.0,162.5 522.0,162.7 523.0,162.8 524.0,162.9 525.0,163.1 526.0,163.2 527.0,163.3 528.0,163.4 529.0,163.5 530.0,163.6 531.0,163.7 532.0,163.7 533.0,163.8 534.0,163.9 535.0,163.9 536.0,164.0 537.0,164.1 538.0,164.1 539.0,164.2 540.0,164.2 541.0,164.3 542.0,164.3 543.0,164.3 544.0,164.4 545.0,164.4 546.0,164.4 L546,164.4 Z" fill="none" stroke="#111" stroke-width="1.2" stroke-linejoin="round"/>
<g stroke="#6e6e6e" stroke-width="1" fill="none">
<path d="M40.6,22.0 V170.0 H546"/>
<path d="M36,164.5 H40.6"/>
<path d="M36,130.2 H40.6"/>
<path d="M36,95.9 H40.6"/>
<path d="M36,61.6 H40.6"/>
<path d="M36,27.3 H40.6"/>
<path d="M100.2,170.0 V175.0"/>
<path d="M228.4,170.0 V175.0"/>
<path d="M356.7,170.0 V175.0"/>
<path d="M484.9,170.0 V175.0"/>
</g>
<g font-size="11" fill="#111" stroke="#111" stroke-width="0.2" text-anchor="middle">
<text transform="translate(30,164.5) rotate(-90)">0.00</text>
<text transform="translate(30,130.2) rotate(-90)">0.02</text>
<text transform="translate(30,95.9) rotate(-90)">0.04</text>
<text transform="translate(30,61.6) rotate(-90)">0.06</text>
<text transform="translate(30,27.3) rotate(-90)">0.08</text>
<text x="100.2" y="187.6">0</text>
<text x="228.4" y="187.6">10</text>
<text x="356.7" y="187.6">20</text>
<text x="484.9" y="187.6">30</text>
</g>
<text font-size="15.4" fill="#111" stroke="#111" stroke-width="0.3" text-anchor="middle" transform="translate(16.4,95.5) rotate(-90)">Proportion</text>
<text font-size="15.3" fill="#111" stroke="#111" stroke-width="0.3" text-anchor="middle" x="293.4" y="197.3">Temperature(<tspan font-size="18" dy="1.9" stroke="none">°</tspan><tspan dy="-1.9">C)</tspan></text>
<text font-size="9.3" font-weight="bold" fill="#000" text-anchor="middle" x="292" y="11.8">SSP2-4.5</text>
<rect x="56.90" y="40.50" width="5.8" height="5.8" fill="#e9e9e9" stroke="#5a5a5a" stroke-width="0.9"/>
<text font-size="10.15" fill="#000" stroke="#000" stroke-width="0.25" x="76.4" y="47.0">1995-2014</text>
<rect x="56.90" y="60.60" width="5.8" height="5.8" fill="#a8f0bc" stroke="#5a5a5a" stroke-width="0.9"/>
<text font-size="10.15" fill="#000" stroke="#000" stroke-width="0.25" x="76.4" y="67.1">2046-2065</text>
<rect x="56.90" y="80.70" width="5.8" height="5.8" fill="#00f564" stroke="#5a5a5a" stroke-width="0.9"/>
<text font-size="10.15" fill="#000" stroke="#000" stroke-width="0.25" x="76.4" y="87.2">2081-2100</text>
<defs><clipPath id="c46b"><path d="M60,386.4 L60.0,386.4 61.0,386.4 62.0,386.4 63.0,386.4 64.0,386.4 65.0,386.4 66.0,386.4 67.0,386.4 68.0,386.4 69.0,386.4 70.0,386.4 71.0,386.4 72.0,386.4 73.0,386.4 74.0,386.4 75.0,386.4 76.0,386.4 77.0,386.4 78.0,386.4 79.0,386.4 80.0,386.4 81.0,386.4 82.0,386.4 83.0,386.4 84.0,386.4 85.0,386.4 86.0,386.4 87.0,386.4 88.0,386.4 89.0,386.4 90.0,386.4 91.0,386.4 92.0,386.4 93.0,386.4 94.0,386.4 95.0,386.4 96.0,386.4 97.0,386.4 98.0,386.4 99.0,386.4 100.0,386.4 101.0,386.4 102.0,386.4 103.0,386.4 104.0,386.4 105.0,386.4 106.0,386.4 107.0,386.4 108.0,386.4 109.0,386.4 110.0,386.4 111.0,386.4 112.0,386.4 113.0,386.3 114.0,386.3 115.0,386.3 116.0,386.3 117.0,386.3 118.0,386.3 119.0,386.3 120.0,386.3 121.0,386.3 122.0,386.3 123.0,386.3 124.0,386.3 125.0,386.3 126.0,386.3 127.0,386.3 128.0,386.3 129.0,386.3 130.0,386.3 131.0,386.3 132.0,386.3 133.0,386.3 134.0,386.3 135.0,386.3 136.0,386.3 137.0,386.3 138.0,386.3 139.0,386.3 140.0,386.3 141.0,386.2 142.0,386.2 143.0,386.2 144.0,386.2 145.0,386.2 146.0,386.2 147.0,386.2 148.0,386.2 149.0,386.2 150.0,386.2 151.0,386.1 152.0,386.1 153.0,386.0 154.0,385.9 155.0,385.8 156.0,385.7 157.0,385.5 158.0,385.3 159.0,385.1 160.0,384.9 161.0,384.7 162.0,384.4 163.0,384.0 164.0,383.6 165.0,383.2 166.0,382.7 167.0,382.2 168.0,381.6 169.0,381.0 170.0,380.4 171.0,379.7 172.0,378.9 173.0,378.0 174.0,377.1 175.0,376.1 176.0,375.0 177.0,373.9 178.0,372.8 179.0,371.6 180.0,370.4 181.0,369.2 182.0,367.9 183.0,366.5 184.0,365.1 185.0,363.7 186.0,362.3 187.0,360.8 188.0,359.4 189.0,358.0 190.0,356.6 191.0,355.2 192.0,353.8 193.0,352.4 194.0,351.1 195.0,349.8 196.0,348.4 197.0,347.1 198.0,345.7 199.0,344.4 200.0,343.0 201.0,341.6 202.0,340.3 203.0,338.9 204.0,337.5 205.0,336.2 206.0,334.8 207.0,333.4 208.0,331.9 209.0,330.4 210.0,328.9 211.0,327.4 212.0,325.8 213.0,324.1 214.0,322.5 215.0,320.8 216.0,319.0 217.0,317.3 218.0,315.5 219.0,313.7 220.0,311.9 221.0,310.1 222.0,308.2 223.0,306.3 224.0,304.3 225.0,302.4 226.0,300.4 227.0,298.5 228.0,296.7 229.0,294.9 230.0,293.1 231.0,291.4 232.0,289.8 233.0,288.2 234.0,286.6 235.0,285.1 236.0,283.6 237.0,282.1 238.0,280.7 239.0,279.4 240.0,278.1 241.0,276.8 242.0,275.5 243.0,274.3 244.0,273.1 245.0,271.9 246.0,270.8 247.0,269.8 248.0,268.8 249.0,268.0 250.0,267.1 251.0,266.4 252.0,265.6 253.0,265.0 254.0,264.3 255.0,263.7 256.0,263.2 257.0,262.7 258.0,262.2 259.0,261.8 260.0,261.5 261.0,261.2 262.0,260.9 263.0,260.7 264.0,260.5 265.0,260.4 266.0,260.5 267.0,260.6 268.0,260.8 269.0,261.1 270.0,261.6 271.0,262.0 272.0,262.5 273.0,263.1 274.0,263.7 275.0,264.3 276.0,265.0 277.0,265.7 278.0,266.4 279.0,267.2 280.0,268.1 281.0,269.0 282.0,270.0 283.0,271.0 284.0,272.2 285.0,273.4 286.0,274.6 287.0,275.9 288.0,277.2 289.0,278.5 290.0,279.8 291.0,281.1 292.0,282.4 293.0,283.7 294.0,284.9 295.0,286.1 296.0,287.3 297.0,288.4 298.0,289.4 299.0,290.4 300.0,291.4 301.0,292.4 302.0,293.4 303.0,294.3 304.0,295.2 305.0,296.1 306.0,297.0 307.0,297.9 308.0,298.7 309.0,299.5 310.0,300.3 311.0,301.0 312.0,301.7 313.0,302.4 314.0,303.0 315.0,303.6 316.0,304.1 317.0,304.6 318.0,305.1 319.0,305.6 320.0,306.1 321.0,306.5 322.0,307.0 323.0,307.4 324.0,307.8 325.0,308.2 326.0,308.6 327.0,309.0 328.0,309.3 329.0,309.7 330.0,310.0 331.0,310.3 332.0,310.5 333.0,310.8 334.0,311.0 335.0,311.3 336.0,311.5 337.0,311.6 338.0,311.8 339.0,311.9 340.0,311.9 341.0,311.9 342.0,311.9 343.0,311.8 344.0,311.7 345.0,311.6 346.0,311.3 347.0,311.0 348.0,310.6 349.0,310.1 350.0,309.6 351.0,309.0 352.0,308.5 353.0,308.0 354.0,307.4 355.0,306.9 356.0,306.3 357.0,305.7 358.0,305.1 359.0,304.6 360.0,304.1 361.0,303.7 362.0,303.3 363.0,303.0 364.0,302.7 365.0,302.5 366.0,302.2 367.0,302.1 368.0,301.9 369.0,301.8 370.0,301.7 371.0,301.7 372.0,301.7 373.0,301.8 374.0,301.8 375.0,302.0 376.0,302.1 377.0,302.3 378.0,302.5 379.0,302.9 380.0,303.2 381.0,303.6 382.0,304.1 383.0,304.6 384.0,305.1 385.0,305.6 386.0,306.3 387.0,306.9 388.0,307.6 389.0,308.3 390.0,309.0 391.0,309.8 392.0,310.5 393.0,311.3 394.0,312.1 395.0,312.9 396.0,313.7 397.0,314.5 398.0,315.4 399.0,316.2 400.0,317.0 401.0,317.8 402.0,318.6 403.0,319.4 404.0,320.2 405.0,321.0 406.0,321.7 407.0,322.6 408.0,323.4 409.0,324.2 410.0,325.0 411.0,325.9 412.0,326.8 413.0,327.6 414.0,328.5 415.0,329.4 416.0,330.4 417.0,331.3 418.0,332.2 419.0,333.1 420.0,334.0 421.0,334.9 422.0,335.8 423.0,336.7 424.0,337.6 425.0,338.6 426.0,339.5 427.0,340.4 428.0,341.2 429.0,342.1 430.0,343.0 431.0,343.8 432.0,344.6 433.0,345.5 434.0,346.3 435.0,347.1 436.0,347.9 437.0,348.7 438.0,349.4 439.0,350.2 440.0,351.0 441.0,351.8 442.0,352.5 443.0,353.3 444.0,354.0 445.0,354.8 446.0,355.5 447.0,356.3 448.0,357.0 449.0,357.8 450.0,358.5 451.0,359.3 452.0,360.0 453.0,360.8 454.0,361.6 455.0,362.4 456.0,363.1 457.0,363.9 458.0,364.6 459.0,365.3 460.0,365.9 461.0,366.6 462.0,367.2 463.0,367.8 464.0,368.4 465.0,369.0 466.0,369.5 467.0,370.0 468.0,370.6 469.0,371.1 470.0,371.6 471.0,372.1 472.0,372.5 473.0,373.0 474.0,373.4 475.0,373.9 476.0,374.3 477.0,374.7 478.0,375.2 479.0,375.6 480.0,376.0 481.0,376.4 482.0,376.8 483.0,377.2 484.0,377.6 485.0,378.0 486.0,378.4 487.0,378.8 488.0,379.2 489.0,379.6 490.0,380.0 491.0,380.4 492.0,380.8 493.0,381.3 494.0,381.7 495.0,382.1 496.0,382.5 497.0,382.9 498.0,383.3 499.0,383.6 500.0,384.0 501.0,384.3 502.0,384.6 503.0,384.9 504.0,385.1 505.0,385.3 506.0,385.5 507.0,385.7 508.0,385.8 509.0,386.0 510.0,386.1 511.0,386.2 512.0,386.2 513.0,386.3 514.0,386.3 515.0,386.4 L546,386.4 Z"/></clipPath><clipPath id="c81b"><path d="M60,386.4 L60.0,386.4 61.0,386.4 62.0,386.4 63.0,386.4 64.0,386.4 65.0,386.4 66.0,386.4 67.0,386.4 68.0,386.4 69.0,386.4 70.0,386.4 71.0,386.4 72.0,386.4 73.0,386.4 74.0,386.4 75.0,386.4 76.0,386.4 77.0,386.4 78.0,386.4 79.0,386.4 80.0,386.4 81.0,386.4 82.0,386.4 83.0,386.4 84.0,386.4 85.0,386.4 86.0,386.4 87.0,386.4 88.0,386.4 89.0,386.4 90.0,386.4 91.0,386.4 92.0,386.4 93.0,386.4 94.0,386.4 95.0,386.4 96.0,386.4 97.0,386.4 98.0,386.4 99.0,386.4 100.0,386.4 101.0,386.4 102.0,386.4 103.0,386.4 104.0,386.4 105.0,386.4 106.0,386.4 107.0,386.4 108.0,386.4 109.0,386.4 110.0,386.4 111.0,386.4 112.0,386.4 113.0,386.4 114.0,386.4 115.0,386.4 116.0,386.4 117.0,386.4 118.0,386.4 119.0,386.4 120.0,386.4 121.0,386.4 122.0,386.4 123.0,386.4 124.0,386.4 125.0,386.4 126.0,386.4 127.0,386.4 128.0,386.4 129.0,386.3 130.0,386.3 131.0,386.3 132.0,386.3 133.0,386.3 134.0,386.3 135.0,386.3 136.0,386.3 137.0,386.3 138.0,386.3 139.0,386.3 140.0,386.3 141.0,386.3 142.0,386.3 143.0,386.3 144.0,386.3 145.0,386.3 146.0,386.3 147.0,386.3 148.0,386.3 149.0,386.3 150.0,386.3 151.0,386.3 152.0,386.3 153.0,386.3 154.0,386.3 155.0,386.3 156.0,386.3 157.0,386.3 158.0,386.3 159.0,386.3 160.0,386.3 161.0,386.3 162.0,386.3 163.0,386.3 164.0,386.2 165.0,386.2 166.0,386.2 167.0,386.2 168.0,386.2 169.0,386.2 170.0,386.2 171.0,386.2 172.0,386.2 173.0,386.2 174.0,386.2 175.0,386.2 176.0,386.1 177.0,386.1 178.0,386.0 179.0,385.9 180.0,385.7 181.0,385.6 182.0,385.4 183.0,385.1 184.0,384.8 185.0,384.3 186.0,383.7 187.0,383.0 188.0,382.2 189.0,381.4 190.0,380.5 191.0,379.5 192.0,378.5 193.0,377.5 194.0,376.4 195.0,375.3 196.0,374.1 197.0,372.8 198.0,371.6 199.0,370.3 200.0,368.9 201.0,367.4 202.0,365.9 203.0,364.4 204.0,362.8 205.0,361.1 206.0,359.3 207.0,357.5 208.0,355.7 209.0,353.8 210.0,351.9 211.0,349.9 212.0,347.8 213.0,345.7 214.0,343.5 215.0,341.3 216.0,339.0 217.0,336.8 218.0,334.5 219.0,332.3 220.0,330.0 221.0,327.8 222.0,325.5 223.0,323.3 224.0,321.1 225.0,318.8 226.0,316.6 227.0,314.4 228.0,312.3 229.0,310.2 230.0,308.1 231.0,306.0 232.0,304.0 233.0,302.0 234.0,300.0 235.0,298.1 236.0,296.2 237.0,294.4 238.0,292.6 239.0,290.8 240.0,289.1 241.0,287.4 242.0,285.7 243.0,284.1 244.0,282.5 245.0,280.9 246.0,279.4 247.0,278.0 248.0,276.6 249.0,275.3 250.0,274.1 251.0,273.0 252.0,271.8 253.0,270.8 254.0,269.8 255.0,268.8 256.0,267.9 257.0,267.1 258.0,266.4 259.0,265.7 260.0,265.1 261.0,264.6 262.0,264.1 263.0,263.7 264.0,263.3 265.0,263.0 266.0,262.8 267.0,262.7 268.0,262.6 269.0,262.7 270.0,262.8 271.0,263.0 272.0,263.3 273.0,263.7 274.0,264.1 275.0,264.6 276.0,265.2 277.0,265.9 278.0,266.5 279.0,267.3 280.0,268.0 281.0,268.8 282.0,269.5 283.0,270.3 284.0,271.1 285.0,271.9 286.0,272.7 287.0,273.5 288.0,274.3 289.0,275.2 290.0,276.0 291.0,276.9 292.0,277.7 293.0,278.6 294.0,279.5 295.0,280.4 296.0,281.3 297.0,282.2 298.0,283.1 299.0,284.1 300.0,285.0 301.0,286.0 302.0,287.0 303.0,287.9 304.0,288.9 305.0,289.9 306.0,291.0 307.0,292.0 308.0,293.0 309.0,294.0 310.0,295.0 311.0,296.0 312.0,297.0 313.0,298.1 314.0,299.1 315.0,300.1 316.0,301.1 317.0,302.1 318.0,303.1 319.0,304.0 320.0,305.0 321.0,305.9 322.0,306.7 323.0,307.6 324.0,308.4 325.0,309.2 326.0,310.0 327.0,310.8 328.0,311.6 329.0,312.3 330.0,312.9 331.0,313.6 332.0,314.2 333.0,314.8 334.0,315.4 335.0,316.0 336.0,316.5 337.0,317.0 338.0,317.5 339.0,318.0 340.0,318.5 341.0,318.9 342.0,319.3 343.0,319.7 344.0,320.1 345.0,320.5 346.0,320.8 347.0,321.1 348.0,321.4 349.0,321.7 350.0,322.0 351.0,322.2 352.0,322.4 353.0,322.6 354.0,322.8 355.0,323.0 356.0,323.1 357.0,323.2 358.0,323.3 359.0,323.4 360.0,323.4 361.0,323.3 362.0,323.2 363.0,323.0 364.0,322.7 365.0,322.4 366.0,322.1 367.0,321.7 368.0,321.3 369.0,320.9 370.0,320.4 371.0,319.9 372.0,319.4 373.0,318.8 374.0,318.2 375.0,317.6 376.0,316.9 377.0,316.2 378.0,315.4 379.0,314.7 380.0,314.0 381.0,313.2 382.0,312.5 383.0,311.7 384.0,311.0 385.0,310.2 386.0,309.5 387.0,308.7 388.0,308.1 389.0,307.4 390.0,306.8 391.0,306.2 392.0,305.6 393.0,305.1 394.0,304.6 395.0,304.1 396.0,303.7 397.0,303.3 398.0,302.9 399.0,302.5 400.0,302.2 401.0,302.0 402.0,301.7 403.0,301.6 404.0,301.5 405.0,301.5 406.0,301.5 407.0,301.5 408.0,301.5 409.0,301.6 410.0,301.8 411.0,302.0 412.0,302.4 413.0,302.8 414.0,303.3 415.0,303.9 416.0,304.5 417.0,305.2 418.0,305.9 419.0,306.6 420.0,307.5 421.0,308.3 422.0,309.2 423.0,310.1 424.0,311.0 425.0,312.0 426.0,312.9 427.0,313.9 428.0,314.9 429.0,315.9 430.0,316.9 431.0,318.0 432.0,319.0 433.0,320.1 434.0,321.2 435.0,322.3 436.0,323.4 437.0,324.6 438.0,325.7 439.0,326.9 440.0,328.0 441.0,329.2 442.0,330.4 443.0,331.6 444.0,332.8 445.0,334.0 446.0,335.2 447.0,336.4 448.0,337.6 449.0,338.8 450.0,340.0 451.0,341.1 452.0,342.3 453.0,343.4 454.0,344.6 455.0,345.7 456.0,346.8 457.0,347.8 458.0,348.9 459.0,349.9 460.0,351.0 461.0,352.0 462.0,352.9 463.0,353.9 464.0,354.9 465.0,355.8 466.0,356.7 467.0,357.5 468.0,358.4 469.0,359.2 470.0,359.9 471.0,360.6 472.0,361.3 473.0,362.0 474.0,362.6 475.0,363.2 476.0,363.8 477.0,364.3 478.0,364.9 479.0,365.4 480.0,366.0 481.0,366.5 482.0,367.0 483.0,367.5 484.0,368.1 485.0,368.5 486.0,369.0 487.0,369.5 488.0,370.0 489.0,370.5 490.0,371.0 491.0,371.5 492.0,372.0 493.0,372.6 494.0,373.1 495.0,373.6 496.0,374.1 497.0,374.6 498.0,375.1 499.0,375.5 500.0,376.0 501.0,376.4 502.0,376.8 503.0,377.2 504.0,377.5 505.0,377.9 506.0,378.3 507.0,378.6 508.0,378.9 509.0,379.3 510.0,379.6 511.0,379.9 512.0,380.2 513.0,380.5 514.0,380.8 515.0,381.1 516.0,381.4 517.0,381.6 518.0,381.9 519.0,382.1 520.0,382.4 521.0,382.6 522.0,382.8 523.0,383.1 524.0,383.3 525.0,383.5 526.0,383.7 527.0,383.9 528.0,384.1 529.0,384.2 530.0,384.4 531.0,384.5 532.0,384.7 533.0,384.8 534.0,384.9 535.0,385.0 536.0,385.2 537.0,385.3 538.0,385.4 539.0,385.5 540.0,385.6 541.0,385.7 542.0,385.8 543.0,385.9 544.0,386.0 545.0,386.1 546.0,386.1 L546,386.4 Z"/></clipPath></defs>
<line x1="40.6" y1="386.4" x2="546" y2="386.4" stroke="#d8d8d8" stroke-width="1"/>
<path d="M60,386.4 L60.0,386.4 61.0,386.4 62.0,386.4 63.0,386.4 64.0,386.4 65.0,386.4 66.0,386.4 67.0,386.4 68.0,386.4 69.0,386.4 70.0,386.4 71.0,386.4 72.0,386.4 73.0,386.4 74.0,386.4 75.0,386.4 76.0,386.4 77.0,386.4 78.0,386.4 79.0,386.4 80.0,386.4 81.0,386.4 82.0,386.4 83.0,386.4 84.0,386.4 85.0,386.4 86.0,386.4 87.0,386.4 88.0,386.3 89.0,386.3 90.0,386.3 91.0,386.3 92.0,386.3 93.0,386.3 94.0,386.3 95.0,386.3 96.0,386.3 97.0,386.3 98.0,386.3 99.0,386.3 100.0,386.3 101.0,386.3 102.0,386.3 103.0,386.3 104.0,386.3 105.0,386.3 106.0,386.3 107.0,386.3 108.0,386.3 109.0,386.2 110.0,386.2 111.0,386.2 112.0,386.2 113.0,386.2 114.0,386.2 115.0,386.2 116.0,386.2 117.0,386.1 118.0,386.1 119.0,386.1 120.0,386.1 121.0,386.1 122.0,386.0 123.0,386.0 124.0,385.9 125.0,385.9 126.0,385.8 127.0,385.7 128.0,385.7 129.0,385.6 130.0,385.5 131.0,385.4 132.0,385.3 133.0,385.2 134.0,385.1 135.0,384.9 136.0,384.8 137.0,384.7 138.0,384.5 139.0,384.3 140.0,384.2 141.0,384.0 142.0,383.8 143.0,383.6 144.0,383.4 145.0,383.2 146.0,383.0 147.0,382.8 148.0,382.5 149.0,382.2 150.0,381.9 151.0,381.6 152.0,381.3 153.0,380.9 154.0,380.5 155.0,380.1 156.0,379.6 157.0,379.1 158.0,378.6 159.0,378.0 160.0,377.4 161.0,376.8 162.0,376.1 163.0,375.3 164.0,374.5 165.0,373.7 166.0,372.8 167.0,371.9 168.0,370.9 169.0,369.9 170.0,368.9 171.0,367.9 172.0,366.9 173.0,365.8 174.0,364.6 175.0,363.4 176.0,362.2 177.0,360.9 178.0,359.6 179.0,358.3 180.0,356.9 181.0,355.4 182.0,353.9 183.0,352.4 184.0,350.7 185.0,349.0 186.0,347.3 187.0,345.5 188.0,343.7 189.0,341.8 190.0,339.9 191.0,337.9 192.0,335.8 193.0,333.7 194.0,331.5 195.0,329.2 196.0,326.8 197.0,324.3 198.0,321.7 199.0,319.0 200.0,316.3 201.0,313.6 202.0,310.9 203.0,308.2 204.0,305.6 205.0,303.1 206.0,300.6 207.0,298.2 208.0,295.8 209.0,293.6 210.0,291.3 211.0,289.2 212.0,287.2 213.0,285.2 214.0,283.4 215.0,281.6 216.0,279.9 217.0,278.2 218.0,276.6 219.0,275.1 220.0,273.6 221.0,272.1 222.0,270.7 223.0,269.3 224.0,268.0 225.0,266.8 226.0,265.6 227.0,264.5 228.0,263.4 229.0,262.4 230.0,261.5 231.0,260.7 232.0,259.9 233.0,259.3 234.0,258.7 235.0,258.2 236.0,257.7 237.0,257.4 238.0,257.0 239.0,256.7 240.0,256.5 241.0,256.2 242.0,256.1 243.0,255.9 244.0,255.8 245.0,255.8 246.0,255.8 247.0,255.8 248.0,255.9 249.0,256.0 250.0,256.2 251.0,256.4 252.0,256.6 253.0,256.9 254.0,257.2 255.0,257.6 256.0,258.1 257.0,258.5 258.0,259.0 259.0,259.6 260.0,260.2 261.0,260.8 262.0,261.4 263.0,262.0 264.0,262.6 265.0,263.2 266.0,263.8 267.0,264.4 268.0,265.0 269.0,265.8 270.0,266.5 271.0,267.3 272.0,268.2 273.0,269.1 274.0,270.0 275.0,270.9 276.0,271.9 277.0,272.9 278.0,274.0 279.0,275.1 280.0,276.2 281.0,277.4 282.0,278.6 283.0,279.8 284.0,281.1 285.0,282.4 286.0,283.7 287.0,285.0 288.0,286.3 289.0,287.6 290.0,288.9 291.0,290.2 292.0,291.5 293.0,292.8 294.0,294.0 295.0,295.3 296.0,296.4 297.0,297.6 298.0,298.7 299.0,299.8 300.0,300.9 301.0,301.9 302.0,302.9 303.0,303.9 304.0,304.8 305.0,305.7 306.0,306.6 307.0,307.4 308.0,308.1 309.0,308.8 310.0,309.4 311.0,310.0 312.0,310.5 313.0,311.0 314.0,311.4 315.0,311.8 316.0,312.2 317.0,312.5 318.0,312.8 319.0,313.0 320.0,313.2 321.0,313.4 322.0,313.5 323.0,313.6 324.0,313.7 325.0,313.8 326.0,313.8 327.0,313.9 328.0,313.9 329.0,314.0 330.0,314.0 331.0,313.9 332.0,313.9 333.0,313.9 334.0,313.8 335.0,313.7 336.0,313.7 337.0,313.6 338.0,313.5 339.0,313.4 340.0,313.3 341.0,313.2 342.0,313.1 343.0,313.0 344.0,312.9 345.0,312.7 346.0,312.6 347.0,312.5 348.0,312.4 349.0,312.2 350.0,312.1 351.0,312.0 352.0,311.9 353.0,311.8 354.0,311.7 355.0,311.5 356.0,311.4 357.0,311.3 358.0,311.2 359.0,311.1 360.0,311.0 361.0,311.0 362.0,310.9 363.0,310.9 364.0,310.8 365.0,310.8 366.0,310.8 367.0,310.8 368.0,310.8 369.0,310.8 370.0,310.9 371.0,311.0 372.0,311.1 373.0,311.3 374.0,311.5 375.0,311.7 376.0,312.0 377.0,312.2 378.0,312.5 379.0,312.9 380.0,313.2 381.0,313.6 382.0,314.0 383.0,314.6 384.0,315.1 385.0,315.8 386.0,316.5 387.0,317.3 388.0,318.2 389.0,319.0 390.0,319.9 391.0,320.8 392.0,321.7 393.0,322.6 394.0,323.4 395.0,324.3 396.0,325.1 397.0,326.0 398.0,326.8 399.0,327.7 400.0,328.6 401.0,329.5 402.0,330.5 403.0,331.6 404.0,332.6 405.0,333.7 406.0,334.7 407.0,335.8 408.0,336.9 409.0,337.9 410.0,339.0 411.0,340.0 412.0,341.0 413.0,342.0 414.0,342.9 415.0,343.9 416.0,344.8 417.0,345.8 418.0,346.7 419.0,347.6 420.0,348.5 421.0,349.3 422.0,350.2 423.0,351.0 424.0,351.8 425.0,352.7 426.0,353.5 427.0,354.2 428.0,355.0 429.0,355.7 430.0,356.5 431.0,357.2 432.0,357.8 433.0,358.5 434.0,359.2 435.0,359.8 436.0,360.4 437.0,361.1 438.0,361.7 439.0,362.4 440.0,363.0 441.0,363.7 442.0,364.4 443.0,365.1 444.0,365.8 445.0,366.5 446.0,367.2 447.0,367.9 448.0,368.6 449.0,369.3 450.0,370.0 451.0,370.7 452.0,371.5 453.0,372.2 454.0,372.9 455.0,373.7 456.0,374.4 457.0,375.1 458.0,375.7 459.0,376.3 460.0,376.9 461.0,377.5 462.0,378.0 463.0,378.6 464.0,379.0 465.0,379.5 466.0,380.0 467.0,380.4 468.0,380.8 469.0,381.2 470.0,381.6 471.0,381.9 472.0,382.2 473.0,382.6 474.0,382.9 475.0,383.2 476.0,383.4 477.0,383.7 478.0,383.9 479.0,384.2 480.0,384.4 481.0,384.6 482.0,384.8 483.0,385.0 484.0,385.2 485.0,385.3 486.0,385.5 487.0,385.6 488.0,385.8 489.0,385.9 490.0,386.0 491.0,386.0 492.0,386.1 493.0,386.2 494.0,386.2 495.0,386.3 496.0,386.3 497.0,386.3 498.0,386.4 499.0,386.4 500.0,386.4 L546,386.4 Z" fill="#e8e8e8" stroke="#111" stroke-width="1.2" stroke-linejoin="round"/>
<path d="M60,386.4 L60.0,386.4 61.0,386.4 62.0,386.4 63.0,386.4 64.0,386.4 65.0,386.4 66.0,386.4 67.0,386.4 68.0,386.4 69.0,386.4 70.0,386.4 71.0,386.4 72.0,386.4 73.0,386.4 74.0,386.4 75.0,386.4 76.0,386.4 77.0,386.4 78.0,386.4 79.0,386.4 80.0,386.4 81.0,386.4 82.0,386.4 83.0,386.4 84.0,386.4 85.0,386.4 86.0,386.4 87.0,386.4 88.0,386.4 89.0,386.4 90.0,386.4 91.0,386.4 92.0,386.4 93.0,386.4 94.0,386.4 95.0,386.4 96.0,386.4 97.0,386.4 98.0,386.4 99.0,386.4 100.0,386.4 101.0,386.4 102.0,386.4 103.0,386.4 104.0,386.4 105.0,386.4 106.0,386.4 107.0,386.4 108.0,386.4 109.0,386.4 110.0,386.4 111.0,386.4 112.0,386.4 113.0,386.3 114.0,386.3 115.0,386.3 116.0,386.3 117.0,386.3 118.0,386.3 119.0,386.3 120.0,386.3 121.0,386.3 122.0,386.3 123.0,386.3 124.0,386.3 125.0,386.3 126.0,386.3 127.0,386.3 128.0,386.3 129.0,386.3 130.0,386.3 131.0,386.3 132.0,386.3 133.0,386.3 134.0,386.3 135.0,386.3 136.0,386.3 137.0,386.3 138.0,386.3 139.0,386.3 140.0,386.3 141.0,386.2 142.0,386.2 143.0,386.2 144.0,386.2 145.0,386.2 146.0,386.2 147.0,386.2 148.0,386.2 149.0,386.2 150.0,386.2 151.0,386.1 152.0,386.1 153.0,386.0 154.0,385.9 155.0,385.8 156.0,385.7 157.0,385.5 158.0,385.3 159.0,385.1 160.0,384.9 161.0,384.7 162.0,384.4 163.0,384.0 164.0,383.6 165.0,383.2 166.0,382.7 167.0,382.2 168.0,381.6 169.0,381.0 170.0,380.4 171.0,379.7 172.0,378.9 173.0,378.0 174.0,377.1 175.0,376.1 176.0,375.0 177.0,373.9 178.0,372.8 179.0,371.6 180.0,370.4 181.0,369.2 182.0,367.9 183.0,366.5 184.0,365.1 185.0,363.7 186.0,362.3 187.0,360.8 188.0,359.4 189.0,358.0 190.0,356.6 191.0,355.2 192.0,353.8 193.0,352.4 194.0,351.1 195.0,349.8 196.0,348.4 197.0,347.1 198.0,345.7 199.0,344.4 200.0,343.0 201.0,341.6 202.0,340.3 203.0,338.9 204.0,337.5 205.0,336.2 206.0,334.8 207.0,333.4 208.0,331.9 209.0,330.4 210.0,328.9 211.0,327.4 212.0,325.8 213.0,324.1 214.0,322.5 215.0,320.8 216.0,319.0 217.0,317.3 218.0,315.5 219.0,313.7 220.0,311.9 221.0,310.1 222.0,308.2 223.0,306.3 224.0,304.3 225.0,302.4 226.0,300.4 227.0,298.5 228.0,296.7 229.0,294.9 230.0,293.1 231.0,291.4 232.0,289.8 233.0,288.2 234.0,286.6 235.0,285.1 236.0,283.6 237.0,282.1 238.0,280.7 239.0,279.4 240.0,278.1 241.0,276.8 242.0,275.5 243.0,274.3 244.0,273.1 245.0,271.9 246.0,270.8 247.0,269.8 248.0,268.8 249.0,268.0 250.0,267.1 251.0,266.4 252.0,265.6 253.0,265.0 254.0,264.3 255.0,263.7 256.0,263.2 257.0,262.7 258.0,262.2 259.0,261.8 260.0,261.5 261.0,261.2 262.0,260.9 263.0,260.7 264.0,260.5 265.0,260.4 266.0,260.5 267.0,260.6 268.0,260.8 269.0,261.1 270.0,261.6 271.0,262.0 272.0,262.5 273.0,263.1 274.0,263.7 275.0,264.3 276.0,265.0 277.0,265.7 278.0,266.4 279.0,267.2 280.0,268.1 281.0,269.0 282.0,270.0 283.0,271.0 284.0,272.2 285.0,273.4 286.0,274.6 287.0,275.9 288.0,277.2 289.0,278.5 290.0,279.8 291.0,281.1 292.0,282.4 293.0,283.7 294.0,284.9 295.0,286.1 296.0,287.3 297.0,288.4 298.0,289.4 299.0,290.4 300.0,291.4 301.0,292.4 302.0,293.4 303.0,294.3 304.0,295.2 305.0,296.1 306.0,297.0 307.0,297.9 308.0,298.7 309.0,299.5 310.0,300.3 311.0,301.0 312.0,301.7 313.0,302.4 314.0,303.0 315.0,303.6 316.0,304.1 317.0,304.6 318.0,305.1 319.0,305.6 320.0,306.1 321.0,306.5 322.0,307.0 323.0,307.4 324.0,307.8 325.0,308.2 326.0,308.6 327.0,309.0 328.0,309.3 329.0,309.7 330.0,310.0 331.0,310.3 332.0,310.5 333.0,310.8 334.0,311.0 335.0,311.3 336.0,311.5 337.0,311.6 338.0,311.8 339.0,311.9 340.0,311.9 341.0,311.9 342.0,311.9 343.0,311.8 344.0,311.7 345.0,311.6 346.0,311.3 347.0,311.0 348.0,310.6 349.0,310.1 350.0,309.6 351.0,309.0 352.0,308.5 353.0,308.0 354.0,307.4 355.0,306.9 356.0,306.3 357.0,305.7 358.0,305.1 359.0,304.6 360.0,304.1 361.0,303.7 362.0,303.3 363.0,303.0 364.0,302.7 365.0,302.5 366.0,302.2 367.0,302.1 368.0,301.9 369.0,301.8 370.0,301.7 371.0,301.7 372.0,301.7 373.0,301.8 374.0,301.8 375.0,302.0 376.0,302.1 377.0,302.3 378.0,302.5 379.0,302.9 380.0,303.2 381.0,303.6 382.0,304.1 383.0,304.6 384.0,305.1 385.0,305.6 386.0,306.3 387.0,306.9 388.0,307.6 389.0,308.3 390.0,309.0 391.0,309.8 392.0,310.5 393.0,311.3 394.0,312.1 395.0,312.9 396.0,313.7 397.0,314.5 398.0,315.4 399.0,316.2 400.0,317.0 401.0,317.8 402.0,318.6 403.0,319.4 404.0,320.2 405.0,321.0 406.0,321.7 407.0,322.6 408.0,323.4 409.0,324.2 410.0,325.0 411.0,325.9 412.0,326.8 413.0,327.6 414.0,328.5 415.0,329.4 416.0,330.4 417.0,331.3 418.0,332.2 419.0,333.1 420.0,334.0 421.0,334.9 422.0,335.8 423.0,336.7 424.0,337.6 425.0,338.6 426.0,339.5 427.0,340.4 428.0,341.2 429.0,342.1 430.0,343.0 431.0,343.8 432.0,344.6 433.0,345.5 434.0,346.3 435.0,347.1 436.0,347.9 437.0,348.7 438.0,349.4 439.0,350.2 440.0,351.0 441.0,351.8 442.0,352.5 443.0,353.3 444.0,354.0 445.0,354.8 446.0,355.5 447.0,356.3 448.0,357.0 449.0,357.8 450.0,358.5 451.0,359.3 452.0,360.0 453.0,360.8 454.0,361.6 455.0,362.4 456.0,363.1 457.0,363.9 458.0,364.6 459.0,365.3 460.0,365.9 461.0,366.6 462.0,367.2 463.0,367.8 464.0,368.4 465.0,369.0 466.0,369.5 467.0,370.0 468.0,370.6 469.0,371.1 470.0,371.6 471.0,372.1 472.0,372.5 473.0,373.0 474.0,373.4 475.0,373.9 476.0,374.3 477.0,374.7 478.0,375.2 479.0,375.6 480.0,376.0 481.0,376.4 482.0,376.8 483.0,377.2 484.0,377.6 485.0,378.0 486.0,378.4 487.0,378.8 488.0,379.2 489.0,379.6 490.0,380.0 491.0,380.4 492.0,380.8 493.0,381.3 494.0,381.7 495.0,382.1 496.0,382.5 497.0,382.9 498.0,383.3 499.0,383.6 500.0,384.0 501.0,384.3 502.0,384.6 503.0,384.9 504.0,385.1 505.0,385.3 506.0,385.5 507.0,385.7 508.0,385.8 509.0,386.0 510.0,386.1 511.0,386.2 512.0,386.2 513.0,386.3 514.0,386.3 515.0,386.4 L546,386.4 Z" fill="#b2f2ca" stroke="none"/>
<g clip-path="url(#c46b)"><path d="M60,386.4 L60.0,386.4 61.0,386.4 62.0,386.4 63.0,386.4 64.0,386.4 65.0,386.4 66.0,386.4 67.0,386.4 68.0,386.4 69.0,386.4 70.0,386.4 71.0,386.4 72.0,386.4 73.0,386.4 74.0,386.4 75.0,386.4 76.0,386.4 77.0,386.4 78.0,386.4 79.0,386.4 80.0,386.4 81.0,386.4 82.0,386.4 83.0,386.4 84.0,386.4 85.0,386.4 86.0,386.4 87.0,386.4 88.0,386.3 89.0,386.3 90.0,386.3 91.0,386.3 92.0,386.3 93.0,386.3 94.0,386.3 95.0,386.3 96.0,386.3 97.0,386.3 98.0,386.3 99.0,386.3 100.0,386.3 101.0,386.3 102.0,386.3 103.0,386.3 104.0,386.3 105.0,386.3 106.0,386.3 107.0,386.3 108.0,386.3 109.0,386.2 110.0,386.2 111.0,386.2 112.0,386.2 113.0,386.2 114.0,386.2 115.0,386.2 116.0,386.2 117.0,386.1 118.0,386.1 119.0,386.1 120.0,386.1 121.0,386.1 122.0,386.0 123.0,386.0 124.0,385.9 125.0,385.9 126.0,385.8 127.0,385.7 128.0,385.7 129.0,385.6 130.0,385.5 131.0,385.4 132.0,385.3 133.0,385.2 134.0,385.1 135.0,384.9 136.0,384.8 137.0,384.7 138.0,384.5 139.0,384.3 140.0,384.2 141.0,384.0 142.0,383.8 143.0,383.6 144.0,383.4 145.0,383.2 146.0,383.0 147.0,382.8 148.0,382.5 149.0,382.2 150.0,381.9 151.0,381.6 152.0,381.3 153.0,380.9 154.0,380.5 155.0,380.1 156.0,379.6 157.0,379.1 158.0,378.6 159.0,378.0 160.0,377.4 161.0,376.8 162.0,376.1 163.0,375.3 164.0,374.5 165.0,373.7 166.0,372.8 167.0,371.9 168.0,370.9 169.0,369.9 170.0,368.9 171.0,367.9 172.0,366.9 173.0,365.8 174.0,364.6 175.0,363.4 176.0,362.2 177.0,360.9 178.0,359.6 179.0,358.3 180.0,356.9 181.0,355.4 182.0,353.9 183.0,352.4 184.0,350.7 185.0,349.0 186.0,347.3 187.0,345.5 188.0,343.7 189.0,341.8 190.0,339.9 191.0,337.9 192.0,335.8 193.0,333.7 194.0,331.5 195.0,329.2 196.0,326.8 197.0,324.3 198.0,321.7 199.0,319.0 200.0,316.3 201.0,313.6 202.0,310.9 203.0,308.2 204.0,305.6 205.0,303.1 206.0,300.6 207.0,298.2 208.0,295.8 209.0,293.6 210.0,291.3 211.0,289.2 212.0,287.2 213.0,285.2 214.0,283.4 215.0,281.6 216.0,279.9 217.0,278.2 218.0,276.6 219.0,275.1 220.0,273.6 221.0,272.1 222.0,270.7 223.0,269.3 224.0,268.0 225.0,266.8 226.0,265.6 227.0,264.5 228.0,263.4 229.0,262.4 230.0,261.5 231.0,260.7 232.0,259.9 233.0,259.3 234.0,258.7 235.0,258.2 236.0,257.7 237.0,257.4 238.0,257.0 239.0,256.7 240.0,256.5 241.0,256.2 242.0,256.1 243.0,255.9 244.0,255.8 245.0,255.8 246.0,255.8 247.0,255.8 248.0,255.9 249.0,256.0 250.0,256.2 251.0,256.4 252.0,256.6 253.0,256.9 254.0,257.2 255.0,257.6 256.0,258.1 257.0,258.5 258.0,259.0 259.0,259.6 260.0,260.2 261.0,260.8 262.0,261.4 263.0,262.0 264.0,262.6 265.0,263.2 266.0,263.8 267.0,264.4 268.0,265.0 269.0,265.8 270.0,266.5 271.0,267.3 272.0,268.2 273.0,269.1 274.0,270.0 275.0,270.9 276.0,271.9 277.0,272.9 278.0,274.0 279.0,275.1 280.0,276.2 281.0,277.4 282.0,278.6 283.0,279.8 284.0,281.1 285.0,282.4 286.0,283.7 287.0,285.0 288.0,286.3 289.0,287.6 290.0,288.9 291.0,290.2 292.0,291.5 293.0,292.8 294.0,294.0 295.0,295.3 296.0,296.4 297.0,297.6 298.0,298.7 299.0,299.8 300.0,300.9 301.0,301.9 302.0,302.9 303.0,303.9 304.0,304.8 305.0,305.7 306.0,306.6 307.0,307.4 308.0,308.1 309.0,308.8 310.0,309.4 311.0,310.0 312.0,310.5 313.0,311.0 314.0,311.4 315.0,311.8 316.0,312.2 317.0,312.5 318.0,312.8 319.0,313.0 320.0,313.2 321.0,313.4 322.0,313.5 323.0,313.6 324.0,313.7 325.0,313.8 326.0,313.8 327.0,313.9 328.0,313.9 329.0,314.0 330.0,314.0 331.0,313.9 332.0,313.9 333.0,313.9 334.0,313.8 335.0,313.7 336.0,313.7 337.0,313.6 338.0,313.5 339.0,313.4 340.0,313.3 341.0,313.2 342.0,313.1 343.0,313.0 344.0,312.9 345.0,312.7 346.0,312.6 347.0,312.5 348.0,312.4 349.0,312.2 350.0,312.1 351.0,312.0 352.0,311.9 353.0,311.8 354.0,311.7 355.0,311.5 356.0,311.4 357.0,311.3 358.0,311.2 359.0,311.1 360.0,311.0 361.0,311.0 362.0,310.9 363.0,310.9 364.0,310.8 365.0,310.8 366.0,310.8 367.0,310.8 368.0,310.8 369.0,310.8 370.0,310.9 371.0,311.0 372.0,311.1 373.0,311.3 374.0,311.5 375.0,311.7 376.0,312.0 377.0,312.2 378.0,312.5 379.0,312.9 380.0,313.2 381.0,313.6 382.0,314.0 383.0,314.6 384.0,315.1 385.0,315.8 386.0,316.5 387.0,317.3 388.0,318.2 389.0,319.0 390.0,319.9 391.0,320.8 392.0,321.7 393.0,322.6 394.0,323.4 395.0,324.3 396.0,325.1 397.0,326.0 398.0,326.8 399.0,327.7 400.0,328.6 401.0,329.5 402.0,330.5 403.0,331.6 404.0,332.6 405.0,333.7 406.0,334.7 407.0,335.8 408.0,336.9 409.0,337.9 410.0,339.0 411.0,340.0 412.0,341.0 413.0,342.0 414.0,342.9 415.0,343.9 416.0,344.8 417.0,345.8 418.0,346.7 419.0,347.6 420.0,348.5 421.0,349.3 422.0,350.2 423.0,351.0 424.0,351.8 425.0,352.7 426.0,353.5 427.0,354.2 428.0,355.0 429.0,355.7 430.0,356.5 431.0,357.2 432.0,357.8 433.0,358.5 434.0,359.2 435.0,359.8 436.0,360.4 437.0,361.1 438.0,361.7 439.0,362.4 440.0,363.0 441.0,363.7 442.0,364.4 443.0,365.1 444.0,365.8 445.0,366.5 446.0,367.2 447.0,367.9 448.0,368.6 449.0,369.3 450.0,370.0 451.0,370.7 452.0,371.5 453.0,372.2 454.0,372.9 455.0,373.7 456.0,374.4 457.0,375.1 458.0,375.7 459.0,376.3 460.0,376.9 461.0,377.5 462.0,378.0 463.0,378.6 464.0,379.0 465.0,379.5 466.0,380.0 467.0,380.4 468.0,380.8 469.0,381.2 470.0,381.6 471.0,381.9 472.0,382.2 473.0,382.6 474.0,382.9 475.0,383.2 476.0,383.4 477.0,383.7 478.0,383.9 479.0,384.2 480.0,384.4 481.0,384.6 482.0,384.8 483.0,385.0 484.0,385.2 485.0,385.3 486.0,385.5 487.0,385.6 488.0,385.8 489.0,385.9 490.0,386.0 491.0,386.0 492.0,386.1 493.0,386.2 494.0,386.2 495.0,386.3 496.0,386.3 497.0,386.3 498.0,386.4 499.0,386.4 500.0,386.4 L546,386.4 Z" fill="rgba(0,40,20,0.035)" stroke="#4d6658" stroke-width="1"/></g>
<path d="M60,386.4 L60.0,386.4 61.0,386.4 62.0,386.4 63.0,386.4 64.0,386.4 65.0,386.4 66.0,386.4 67.0,386.4 68.0,386.4 69.0,386.4 70.0,386.4 71.0,386.4 72.0,386.4 73.0,386.4 74.0,386.4 75.0,386.4 76.0,386.4 77.0,386.4 78.0,386.4 79.0,386.4 80.0,386.4 81.0,386.4 82.0,386.4 83.0,386.4 84.0,386.4 85.0,386.4 86.0,386.4 87.0,386.4 88.0,386.4 89.0,386.4 90.0,386.4 91.0,386.4 92.0,386.4 93.0,386.4 94.0,386.4 95.0,386.4 96.0,386.4 97.0,386.4 98.0,386.4 99.0,386.4 100.0,386.4 101.0,386.4 102.0,386.4 103.0,386.4 104.0,386.4 105.0,386.4 106.0,386.4 107.0,386.4 108.0,386.4 109.0,386.4 110.0,386.4 111.0,386.4 112.0,386.4 113.0,386.3 114.0,386.3 115.0,386.3 116.0,386.3 117.0,386.3 118.0,386.3 119.0,386.3 120.0,386.3 121.0,386.3 122.0,386.3 123.0,386.3 124.0,386.3 125.0,386.3 126.0,386.3 127.0,386.3 128.0,386.3 129.0,386.3 130.0,386.3 131.0,386.3 132.0,386.3 133.0,386.3 134.0,386.3 135.0,386.3 136.0,386.3 137.0,386.3 138.0,386.3 139.0,386.3 140.0,386.3 141.0,386.2 142.0,386.2 143.0,386.2 144.0,386.2 145.0,386.2 146.0,386.2 147.0,386.2 148.0,386.2 149.0,386.2 150.0,386.2 151.0,386.1 152.0,386.1 153.0,386.0 154.0,385.9 155.0,385.8 156.0,385.7 157.0,385.5 158.0,385.3 159.0,385.1 160.0,384.9 161.0,384.7 162.0,384.4 163.0,384.0 164.0,383.6 165.0,383.2 166.0,382.7 167.0,382.2 168.0,381.6 169.0,381.0 170.0,380.4 171.0,379.7 172.0,378.9 173.0,378.0 174.0,377.1 175.0,376.1 176.0,375.0 177.0,373.9 178.0,372.8 179.0,371.6 180.0,370.4 181.0,369.2 182.0,367.9 183.0,366.5 184.0,365.1 185.0,363.7 186.0,362.3 187.0,360.8 188.0,359.4 189.0,358.0 190.0,356.6 191.0,355.2 192.0,353.8 193.0,352.4 194.0,351.1 195.0,349.8 196.0,348.4 197.0,347.1 198.0,345.7 199.0,344.4 200.0,343.0 201.0,341.6 202.0,340.3 203.0,338.9 204.0,337.5 205.0,336.2 206.0,334.8 207.0,333.4 208.0,331.9 209.0,330.4 210.0,328.9 211.0,327.4 212.0,325.8 213.0,324.1 214.0,322.5 215.0,320.8 216.0,319.0 217.0,317.3 218.0,315.5 219.0,313.7 220.0,311.9 221.0,310.1 222.0,308.2 223.0,306.3 224.0,304.3 225.0,302.4 226.0,300.4 227.0,298.5 228.0,296.7 229.0,294.9 230.0,293.1 231.0,291.4 232.0,289.8 233.0,288.2 234.0,286.6 235.0,285.1 236.0,283.6 237.0,282.1 238.0,280.7 239.0,279.4 240.0,278.1 241.0,276.8 242.0,275.5 243.0,274.3 244.0,273.1 245.0,271.9 246.0,270.8 247.0,269.8 248.0,268.8 249.0,268.0 250.0,267.1 251.0,266.4 252.0,265.6 253.0,265.0 254.0,264.3 255.0,263.7 256.0,263.2 257.0,262.7 258.0,262.2 259.0,261.8 260.0,261.5 261.0,261.2 262.0,260.9 263.0,260.7 264.0,260.5 265.0,260.4 266.0,260.5 267.0,260.6 268.0,260.8 269.0,261.1 270.0,261.6 271.0,262.0 272.0,262.5 273.0,263.1 274.0,263.7 275.0,264.3 276.0,265.0 277.0,265.7 278.0,266.4 279.0,267.2 280.0,268.1 281.0,269.0 282.0,270.0 283.0,271.0 284.0,272.2 285.0,273.4 286.0,274.6 287.0,275.9 288.0,277.2 289.0,278.5 290.0,279.8 291.0,281.1 292.0,282.4 293.0,283.7 294.0,284.9 295.0,286.1 296.0,287.3 297.0,288.4 298.0,289.4 299.0,290.4 300.0,291.4 301.0,292.4 302.0,293.4 303.0,294.3 304.0,295.2 305.0,296.1 306.0,297.0 307.0,297.9 308.0,298.7 309.0,299.5 310.0,300.3 311.0,301.0 312.0,301.7 313.0,302.4 314.0,303.0 315.0,303.6 316.0,304.1 317.0,304.6 318.0,305.1 319.0,305.6 320.0,306.1 321.0,306.5 322.0,307.0 323.0,307.4 324.0,307.8 325.0,308.2 326.0,308.6 327.0,309.0 328.0,309.3 329.0,309.7 330.0,310.0 331.0,310.3 332.0,310.5 333.0,310.8 334.0,311.0 335.0,311.3 336.0,311.5 337.0,311.6 338.0,311.8 339.0,311.9 340.0,311.9 341.0,311.9 342.0,311.9 343.0,311.8 344.0,311.7 345.0,311.6 346.0,311.3 347.0,311.0 348.0,310.6 349.0,310.1 350.0,309.6 351.0,309.0 352.0,308.5 353.0,308.0 354.0,307.4 355.0,306.9 356.0,306.3 357.0,305.7 358.0,305.1 359.0,304.6 360.0,304.1 361.0,303.7 362.0,303.3 363.0,303.0 364.0,302.7 365.0,302.5 366.0,302.2 367.0,302.1 368.0,301.9 369.0,301.8 370.0,301.7 371.0,301.7 372.0,301.7 373.0,301.8 374.0,301.8 375.0,302.0 376.0,302.1 377.0,302.3 378.0,302.5 379.0,302.9 380.0,303.2 381.0,303.6 382.0,304.1 383.0,304.6 384.0,305.1 385.0,305.6 386.0,306.3 387.0,306.9 388.0,307.6 389.0,308.3 390.0,309.0 391.0,309.8 392.0,310.5 393.0,311.3 394.0,312.1 395.0,312.9 396.0,313.7 397.0,314.5 398.0,315.4 399.0,316.2 400.0,317.0 401.0,317.8 402.0,318.6 403.0,319.4 404.0,320.2 405.0,321.0 406.0,321.7 407.0,322.6 408.0,323.4 409.0,324.2 410.0,325.0 411.0,325.9 412.0,326.8 413.0,327.6 414.0,328.5 415.0,329.4 416.0,330.4 417.0,331.3 418.0,332.2 419.0,333.1 420.0,334.0 421.0,334.9 422.0,335.8 423.0,336.7 424.0,337.6 425.0,338.6 426.0,339.5 427.0,340.4 428.0,341.2 429.0,342.1 430.0,343.0 431.0,343.8 432.0,344.6 433.0,345.5 434.0,346.3 435.0,347.1 436.0,347.9 437.0,348.7 438.0,349.4 439.0,350.2 440.0,351.0 441.0,351.8 442.0,352.5 443.0,353.3 444.0,354.0 445.0,354.8 446.0,355.5 447.0,356.3 448.0,357.0 449.0,357.8 450.0,358.5 451.0,359.3 452.0,360.0 453.0,360.8 454.0,361.6 455.0,362.4 456.0,363.1 457.0,363.9 458.0,364.6 459.0,365.3 460.0,365.9 461.0,366.6 462.0,367.2 463.0,367.8 464.0,368.4 465.0,369.0 466.0,369.5 467.0,370.0 468.0,370.6 469.0,371.1 470.0,371.6 471.0,372.1 472.0,372.5 473.0,373.0 474.0,373.4 475.0,373.9 476.0,374.3 477.0,374.7 478.0,375.2 479.0,375.6 480.0,376.0 481.0,376.4 482.0,376.8 483.0,377.2 484.0,377.6 485.0,378.0 486.0,378.4 487.0,378.8 488.0,379.2 489.0,379.6 490.0,380.0 491.0,380.4 492.0,380.8 493.0,381.3 494.0,381.7 495.0,382.1 496.0,382.5 497.0,382.9 498.0,383.3 499.0,383.6 500.0,384.0 501.0,384.3 502.0,384.6 503.0,384.9 504.0,385.1 505.0,385.3 506.0,385.5 507.0,385.7 508.0,385.8 509.0,386.0 510.0,386.1 511.0,386.2 512.0,386.2 513.0,386.3 514.0,386.3 515.0,386.4 L546,386.4 Z" fill="none" stroke="#111" stroke-width="1.2" stroke-linejoin="round"/>
<path d="M60,386.4 L60.0,386.4 61.0,386.4 62.0,386.4 63.0,386.4 64.0,386.4 65.0,386.4 66.0,386.4 67.0,386.4 68.0,386.4 69.0,386.4 70.0,386.4 71.0,386.4 72.0,386.4 73.0,386.4 74.0,386.4 75.0,386.4 76.0,386.4 77.0,386.4 78.0,386.4 79.0,386.4 80.0,386.4 81.0,386.4 82.0,386.4 83.0,386.4 84.0,386.4 85.0,386.4 86.0,386.4 87.0,386.4 88.0,386.4 89.0,386.4 90.0,386.4 91.0,386.4 92.0,386.4 93.0,386.4 94.0,386.4 95.0,386.4 96.0,386.4 97.0,386.4 98.0,386.4 99.0,386.4 100.0,386.4 101.0,386.4 102.0,386.4 103.0,386.4 104.0,386.4 105.0,386.4 106.0,386.4 107.0,386.4 108.0,386.4 109.0,386.4 110.0,386.4 111.0,386.4 112.0,386.4 113.0,386.4 114.0,386.4 115.0,386.4 116.0,386.4 117.0,386.4 118.0,386.4 119.0,386.4 120.0,386.4 121.0,386.4 122.0,386.4 123.0,386.4 124.0,386.4 125.0,386.4 126.0,386.4 127.0,386.4 128.0,386.4 129.0,386.3 130.0,386.3 131.0,386.3 132.0,386.3 133.0,386.3 134.0,386.3 135.0,386.3 136.0,386.3 137.0,386.3 138.0,386.3 139.0,386.3 140.0,386.3 141.0,386.3 142.0,386.3 143.0,386.3 144.0,386.3 145.0,386.3 146.0,386.3 147.0,386.3 148.0,386.3 149.0,386.3 150.0,386.3 151.0,386.3 152.0,386.3 153.0,386.3 154.0,386.3 155.0,386.3 156.0,386.3 157.0,386.3 158.0,386.3 159.0,386.3 160.0,386.3 161.0,386.3 162.0,386.3 163.0,386.3 164.0,386.2 165.0,386.2 166.0,386.2 167.0,386.2 168.0,386.2 169.0,386.2 170.0,386.2 171.0,386.2 172.0,386.2 173.0,386.2 174.0,386.2 175.0,386.2 176.0,386.1 177.0,386.1 178.0,386.0 179.0,385.9 180.0,385.7 181.0,385.6 182.0,385.4 183.0,385.1 184.0,384.8 185.0,384.3 186.0,383.7 187.0,383.0 188.0,382.2 189.0,381.4 190.0,380.5 191.0,379.5 192.0,378.5 193.0,377.5 194.0,376.4 195.0,375.3 196.0,374.1 197.0,372.8 198.0,371.6 199.0,370.3 200.0,368.9 201.0,367.4 202.0,365.9 203.0,364.4 204.0,362.8 205.0,361.1 206.0,359.3 207.0,357.5 208.0,355.7 209.0,353.8 210.0,351.9 211.0,349.9 212.0,347.8 213.0,345.7 214.0,343.5 215.0,341.3 216.0,339.0 217.0,336.8 218.0,334.5 219.0,332.3 220.0,330.0 221.0,327.8 222.0,325.5 223.0,323.3 224.0,321.1 225.0,318.8 226.0,316.6 227.0,314.4 228.0,312.3 229.0,310.2 230.0,308.1 231.0,306.0 232.0,304.0 233.0,302.0 234.0,300.0 235.0,298.1 236.0,296.2 237.0,294.4 238.0,292.6 239.0,290.8 240.0,289.1 241.0,287.4 242.0,285.7 243.0,284.1 244.0,282.5 245.0,280.9 246.0,279.4 247.0,278.0 248.0,276.6 249.0,275.3 250.0,274.1 251.0,273.0 252.0,271.8 253.0,270.8 254.0,269.8 255.0,268.8 256.0,267.9 257.0,267.1 258.0,266.4 259.0,265.7 260.0,265.1 261.0,264.6 262.0,264.1 263.0,263.7 264.0,263.3 265.0,263.0 266.0,262.8 267.0,262.7 268.0,262.6 269.0,262.7 270.0,262.8 271.0,263.0 272.0,263.3 273.0,263.7 274.0,264.1 275.0,264.6 276.0,265.2 277.0,265.9 278.0,266.5 279.0,267.3 280.0,268.0 281.0,268.8 282.0,269.5 283.0,270.3 284.0,271.1 285.0,271.9 286.0,272.7 287.0,273.5 288.0,274.3 289.0,275.2 290.0,276.0 291.0,276.9 292.0,277.7 293.0,278.6 294.0,279.5 295.0,280.4 296.0,281.3 297.0,282.2 298.0,283.1 299.0,284.1 300.0,285.0 301.0,286.0 302.0,287.0 303.0,287.9 304.0,288.9 305.0,289.9 306.0,291.0 307.0,292.0 308.0,293.0 309.0,294.0 310.0,295.0 311.0,296.0 312.0,297.0 313.0,298.1 314.0,299.1 315.0,300.1 316.0,301.1 317.0,302.1 318.0,303.1 319.0,304.0 320.0,305.0 321.0,305.9 322.0,306.7 323.0,307.6 324.0,308.4 325.0,309.2 326.0,310.0 327.0,310.8 328.0,311.6 329.0,312.3 330.0,312.9 331.0,313.6 332.0,314.2 333.0,314.8 334.0,315.4 335.0,316.0 336.0,316.5 337.0,317.0 338.0,317.5 339.0,318.0 340.0,318.5 341.0,318.9 342.0,319.3 343.0,319.7 344.0,320.1 345.0,320.5 346.0,320.8 347.0,321.1 348.0,321.4 349.0,321.7 350.0,322.0 351.0,322.2 352.0,322.4 353.0,322.6 354.0,322.8 355.0,323.0 356.0,323.1 357.0,323.2 358.0,323.3 359.0,323.4 360.0,323.4 361.0,323.3 362.0,323.2 363.0,323.0 364.0,322.7 365.0,322.4 366.0,322.1 367.0,321.7 368.0,321.3 369.0,320.9 370.0,320.4 371.0,319.9 372.0,319.4 373.0,318.8 374.0,318.2 375.0,317.6 376.0,316.9 377.0,316.2 378.0,315.4 379.0,314.7 380.0,314.0 381.0,313.2 382.0,312.5 383.0,311.7 384.0,311.0 385.0,310.2 386.0,309.5 387.0,308.7 388.0,308.1 389.0,307.4 390.0,306.8 391.0,306.2 392.0,305.6 393.0,305.1 394.0,304.6 395.0,304.1 396.0,303.7 397.0,303.3 398.0,302.9 399.0,302.5 400.0,302.2 401.0,302.0 402.0,301.7 403.0,301.6 404.0,301.5 405.0,301.5 406.0,301.5 407.0,301.5 408.0,301.5 409.0,301.6 410.0,301.8 411.0,302.0 412.0,302.4 413.0,302.8 414.0,303.3 415.0,303.9 416.0,304.5 417.0,305.2 418.0,305.9 419.0,306.6 420.0,307.5 421.0,308.3 422.0,309.2 423.0,310.1 424.0,311.0 425.0,312.0 426.0,312.9 427.0,313.9 428.0,314.9 429.0,315.9 430.0,316.9 431.0,318.0 432.0,319.0 433.0,320.1 434.0,321.2 435.0,322.3 436.0,323.4 437.0,324.6 438.0,325.7 439.0,326.9 440.0,328.0 441.0,329.2 442.0,330.4 443.0,331.6 444.0,332.8 445.0,334.0 446.0,335.2 447.0,336.4 448.0,337.6 449.0,338.8 450.0,340.0 451.0,341.1 452.0,342.3 453.0,343.4 454.0,344.6 455.0,345.7 456.0,346.8 457.0,347.8 458.0,348.9 459.0,349.9 460.0,351.0 461.0,352.0 462.0,352.9 463.0,353.9 464.0,354.9 465.0,355.8 466.0,356.7 467.0,357.5 468.0,358.4 469.0,359.2 470.0,359.9 471.0,360.6 472.0,361.3 473.0,362.0 474.0,362.6 475.0,363.2 476.0,363.8 477.0,364.3 478.0,364.9 479.0,365.4 480.0,366.0 481.0,366.5 482.0,367.0 483.0,367.5 484.0,368.1 485.0,368.5 486.0,369.0 487.0,369.5 488.0,370.0 489.0,370.5 490.0,371.0 491.0,371.5 492.0,372.0 493.0,372.6 494.0,373.1 495.0,373.6 496.0,374.1 497.0,374.6 498.0,375.1 499.0,375.5 500.0,376.0 501.0,376.4 502.0,376.8 503.0,377.2 504.0,377.5 505.0,377.9 506.0,378.3 507.0,378.6 508.0,378.9 509.0,379.3 510.0,379.6 511.0,379.9 512.0,380.2 513.0,380.5 514.0,380.8 515.0,381.1 516.0,381.4 517.0,381.6 518.0,381.9 519.0,382.1 520.0,382.4 521.0,382.6 522.0,382.8 523.0,383.1 524.0,383.3 525.0,383.5 526.0,383.7 527.0,383.9 528.0,384.1 529.0,384.2 530.0,384.4 531.0,384.5 532.0,384.7 533.0,384.8 534.0,384.9 535.0,385.0 536.0,385.2 537.0,385.3 538.0,385.4 539.0,385.5 540.0,385.6 541.0,385.7 542.0,385.8 543.0,385.9 544.0,386.0 545.0,386.1 546.0,386.1 L546,386.4 Z" fill="#00fc73" stroke="none"/>
<g clip-path="url(#c81b)"><path d="M60,386.4 L60.0,386.4 61.0,386.4 62.0,386.4 63.0,386.4 64.0,386.4 65.0,386.4 66.0,386.4 67.0,386.4 68.0,386.4 69.0,386.4 70.0,386.4 71.0,386.4 72.0,386.4 73.0,386.4 74.0,386.4 75.0,386.4 76.0,386.4 77.0,386.4 78.0,386.4 79.0,386.4 80.0,386.4 81.0,386.4 82.0,386.4 83.0,386.4 84.0,386.4 85.0,386.4 86.0,386.4 87.0,386.4 88.0,386.4 89.0,386.4 90.0,386.4 91.0,386.4 92.0,386.4 93.0,386.4 94.0,386.4 95.0,386.4 96.0,386.4 97.0,386.4 98.0,386.4 99.0,386.4 100.0,386.4 101.0,386.4 102.0,386.4 103.0,386.4 104.0,386.4 105.0,386.4 106.0,386.4 107.0,386.4 108.0,386.4 109.0,386.4 110.0,386.4 111.0,386.4 112.0,386.4 113.0,386.3 114.0,386.3 115.0,386.3 116.0,386.3 117.0,386.3 118.0,386.3 119.0,386.3 120.0,386.3 121.0,386.3 122.0,386.3 123.0,386.3 124.0,386.3 125.0,386.3 126.0,386.3 127.0,386.3 128.0,386.3 129.0,386.3 130.0,386.3 131.0,386.3 132.0,386.3 133.0,386.3 134.0,386.3 135.0,386.3 136.0,386.3 137.0,386.3 138.0,386.3 139.0,386.3 140.0,386.3 141.0,386.2 142.0,386.2 143.0,386.2 144.0,386.2 145.0,386.2 146.0,386.2 147.0,386.2 148.0,386.2 149.0,386.2 150.0,386.2 151.0,386.1 152.0,386.1 153.0,386.0 154.0,385.9 155.0,385.8 156.0,385.7 157.0,385.5 158.0,385.3 159.0,385.1 160.0,384.9 161.0,384.7 162.0,384.4 163.0,384.0 164.0,383.6 165.0,383.2 166.0,382.7 167.0,382.2 168.0,381.6 169.0,381.0 170.0,380.4 171.0,379.7 172.0,378.9 173.0,378.0 174.0,377.1 175.0,376.1 176.0,375.0 177.0,373.9 178.0,372.8 179.0,371.6 180.0,370.4 181.0,369.2 182.0,367.9 183.0,366.5 184.0,365.1 185.0,363.7 186.0,362.3 187.0,360.8 188.0,359.4 189.0,358.0 190.0,356.6 191.0,355.2 192.0,353.8 193.0,352.4 194.0,351.1 195.0,349.8 196.0,348.4 197.0,347.1 198.0,345.7 199.0,344.4 200.0,343.0 201.0,341.6 202.0,340.3 203.0,338.9 204.0,337.5 205.0,336.2 206.0,334.8 207.0,333.4 208.0,331.9 209.0,330.4 210.0,328.9 211.0,327.4 212.0,325.8 213.0,324.1 214.0,322.5 215.0,320.8 216.0,319.0 217.0,317.3 218.0,315.5 219.0,313.7 220.0,311.9 221.0,310.1 222.0,308.2 223.0,306.3 224.0,304.3 225.0,302.4 226.0,300.4 227.0,298.5 228.0,296.7 229.0,294.9 230.0,293.1 231.0,291.4 232.0,289.8 233.0,288.2 234.0,286.6 235.0,285.1 236.0,283.6 237.0,282.1 238.0,280.7 239.0,279.4 240.0,278.1 241.0,276.8 242.0,275.5 243.0,274.3 244.0,273.1 245.0,271.9 246.0,270.8 247.0,269.8 248.0,268.8 249.0,268.0 250.0,267.1 251.0,266.4 252.0,265.6 253.0,265.0 254.0,264.3 255.0,263.7 256.0,263.2 257.0,262.7 258.0,262.2 259.0,261.8 260.0,261.5 261.0,261.2 262.0,260.9 263.0,260.7 264.0,260.5 265.0,260.4 266.0,260.5 267.0,260.6 268.0,260.8 269.0,261.1 270.0,261.6 271.0,262.0 272.0,262.5 273.0,263.1 274.0,263.7 275.0,264.3 276.0,265.0 277.0,265.7 278.0,266.4 279.0,267.2 280.0,268.1 281.0,269.0 282.0,270.0 283.0,271.0 284.0,272.2 285.0,273.4 286.0,274.6 287.0,275.9 288.0,277.2 289.0,278.5 290.0,279.8 291.0,281.1 292.0,282.4 293.0,283.7 294.0,284.9 295.0,286.1 296.0,287.3 297.0,288.4 298.0,289.4 299.0,290.4 300.0,291.4 301.0,292.4 302.0,293.4 303.0,294.3 304.0,295.2 305.0,296.1 306.0,297.0 307.0,297.9 308.0,298.7 309.0,299.5 310.0,300.3 311.0,301.0 312.0,301.7 313.0,302.4 314.0,303.0 315.0,303.6 316.0,304.1 317.0,304.6 318.0,305.1 319.0,305.6 320.0,306.1 321.0,306.5 322.0,307.0 323.0,307.4 324.0,307.8 325.0,308.2 326.0,308.6 327.0,309.0 328.0,309.3 329.0,309.7 330.0,310.0 331.0,310.3 332.0,310.5 333.0,310.8 334.0,311.0 335.0,311.3 336.0,311.5 337.0,311.6 338.0,311.8 339.0,311.9 340.0,311.9 341.0,311.9 342.0,311.9 343.0,311.8 344.0,311.7 345.0,311.6 346.0,311.3 347.0,311.0 348.0,310.6 349.0,310.1 350.0,309.6 351.0,309.0 352.0,308.5 353.0,308.0 354.0,307.4 355.0,306.9 356.0,306.3 357.0,305.7 358.0,305.1 359.0,304.6 360.0,304.1 361.0,303.7 362.0,303.3 363.0,303.0 364.0,302.7 365.0,302.5 366.0,302.2 367.0,302.1 368.0,301.9 369.0,301.8 370.0,301.7 371.0,301.7 372.0,301.7 373.0,301.8 374.0,301.8 375.0,302.0 376.0,302.1 377.0,302.3 378.0,302.5 379.0,302.9 380.0,303.2 381.0,303.6 382.0,304.1 383.0,304.6 384.0,305.1 385.0,305.6 386.0,306.3 387.0,306.9 388.0,307.6 389.0,308.3 390.0,309.0 391.0,309.8 392.0,310.5 393.0,311.3 394.0,312.1 395.0,312.9 396.0,313.7 397.0,314.5 398.0,315.4 399.0,316.2 400.0,317.0 401.0,317.8 402.0,318.6 403.0,319.4 404.0,320.2 405.0,321.0 406.0,321.7 407.0,322.6 408.0,323.4 409.0,324.2 410.0,325.0 411.0,325.9 412.0,326.8 413.0,327.6 414.0,328.5 415.0,329.4 416.0,330.4 417.0,331.3 418.0,332.2 419.0,333.1 420.0,334.0 421.0,334.9 422.0,335.8 423.0,336.7 424.0,337.6 425.0,338.6 426.0,339.5 427.0,340.4 428.0,341.2 429.0,342.1 430.0,343.0 431.0,343.8 432.0,344.6 433.0,345.5 434.0,346.3 435.0,347.1 436.0,347.9 437.0,348.7 438.0,349.4 439.0,350.2 440.0,351.0 441.0,351.8 442.0,352.5 443.0,353.3 444.0,354.0 445.0,354.8 446.0,355.5 447.0,356.3 448.0,357.0 449.0,357.8 450.0,358.5 451.0,359.3 452.0,360.0 453.0,360.8 454.0,361.6 455.0,362.4 456.0,363.1 457.0,363.9 458.0,364.6 459.0,365.3 460.0,365.9 461.0,366.6 462.0,367.2 463.0,367.8 464.0,368.4 465.0,369.0 466.0,369.5 467.0,370.0 468.0,370.6 469.0,371.1 470.0,371.6 471.0,372.1 472.0,372.5 473.0,373.0 474.0,373.4 475.0,373.9 476.0,374.3 477.0,374.7 478.0,375.2 479.0,375.6 480.0,376.0 481.0,376.4 482.0,376.8 483.0,377.2 484.0,377.6 485.0,378.0 486.0,378.4 487.0,378.8 488.0,379.2 489.0,379.6 490.0,380.0 491.0,380.4 492.0,380.8 493.0,381.3 494.0,381.7 495.0,382.1 496.0,382.5 497.0,382.9 498.0,383.3 499.0,383.6 500.0,384.0 501.0,384.3 502.0,384.6 503.0,384.9 504.0,385.1 505.0,385.3 506.0,385.5 507.0,385.7 508.0,385.8 509.0,386.0 510.0,386.1 511.0,386.2 512.0,386.2 513.0,386.3 514.0,386.3 515.0,386.4 L546,386.4 Z" fill="#00fa5c" stroke="none"/>
<path d="M60,386.4 L60.0,386.4 61.0,386.4 62.0,386.4 63.0,386.4 64.0,386.4 65.0,386.4 66.0,386.4 67.0,386.4 68.0,386.4 69.0,386.4 70.0,386.4 71.0,386.4 72.0,386.4 73.0,386.4 74.0,386.4 75.0,386.4 76.0,386.4 77.0,386.4 78.0,386.4 79.0,386.4 80.0,386.4 81.0,386.4 82.0,386.4 83.0,386.4 84.0,386.4 85.0,386.4 86.0,386.4 87.0,386.4 88.0,386.3 89.0,386.3 90.0,386.3 91.0,386.3 92.0,386.3 93.0,386.3 94.0,386.3 95.0,386.3 96.0,386.3 97.0,386.3 98.0,386.3 99.0,386.3 100.0,386.3 101.0,386.3 102.0,386.3 103.0,386.3 104.0,386.3 105.0,386.3 106.0,386.3 107.0,386.3 108.0,386.3 109.0,386.2 110.0,386.2 111.0,386.2 112.0,386.2 113.0,386.2 114.0,386.2 115.0,386.2 116.0,386.2 117.0,386.1 118.0,386.1 119.0,386.1 120.0,386.1 121.0,386.1 122.0,386.0 123.0,386.0 124.0,385.9 125.0,385.9 126.0,385.8 127.0,385.7 128.0,385.7 129.0,385.6 130.0,385.5 131.0,385.4 132.0,385.3 133.0,385.2 134.0,385.1 135.0,384.9 136.0,384.8 137.0,384.7 138.0,384.5 139.0,384.3 140.0,384.2 141.0,384.0 142.0,383.8 143.0,383.6 144.0,383.4 145.0,383.2 146.0,383.0 147.0,382.8 148.0,382.5 149.0,382.2 150.0,381.9 151.0,381.6 152.0,381.3 153.0,380.9 154.0,380.5 155.0,380.1 156.0,379.6 157.0,379.1 158.0,378.6 159.0,378.0 160.0,377.4 161.0,376.8 162.0,376.1 163.0,375.3 164.0,374.5 165.0,373.7 166.0,372.8 167.0,371.9 168.0,370.9 169.0,369.9 170.0,368.9 171.0,367.9 172.0,366.9 173.0,365.8 174.0,364.6 175.0,363.4 176.0,362.2 177.0,360.9 178.0,359.6 179.0,358.3 180.0,356.9 181.0,355.4 182.0,353.9 183.0,352.4 184.0,350.7 185.0,349.0 186.0,347.3 187.0,345.5 188.0,343.7 189.0,341.8 190.0,339.9 191.0,337.9 192.0,335.8 193.0,333.7 194.0,331.5 195.0,329.2 196.0,326.8 197.0,324.3 198.0,321.7 199.0,319.0 200.0,316.3 201.0,313.6 202.0,310.9 203.0,308.2 204.0,305.6 205.0,303.1 206.0,300.6 207.0,298.2 208.0,295.8 209.0,293.6 210.0,291.3 211.0,289.2 212.0,287.2 213.0,285.2 214.0,283.4 215.0,281.6 216.0,279.9 217.0,278.2 218.0,276.6 219.0,275.1 220.0,273.6 221.0,272.1 222.0,270.7 223.0,269.3 224.0,268.0 225.0,266.8 226.0,265.6 227.0,264.5 228.0,263.4 229.0,262.4 230.0,261.5 231.0,260.7 232.0,259.9 233.0,259.3 234.0,258.7 235.0,258.2 236.0,257.7 237.0,257.4 238.0,257.0 239.0,256.7 240.0,256.5 241.0,256.2 242.0,256.1 243.0,255.9 244.0,255.8 245.0,255.8 246.0,255.8 247.0,255.8 248.0,255.9 249.0,256.0 250.0,256.2 251.0,256.4 252.0,256.6 253.0,256.9 254.0,257.2 255.0,257.6 256.0,258.1 257.0,258.5 258.0,259.0 259.0,259.6 260.0,260.2 261.0,260.8 262.0,261.4 263.0,262.0 264.0,262.6 265.0,263.2 266.0,263.8 267.0,264.4 268.0,265.0 269.0,265.8 270.0,266.5 271.0,267.3 272.0,268.2 273.0,269.1 274.0,270.0 275.0,270.9 276.0,271.9 277.0,272.9 278.0,274.0 279.0,275.1 280.0,276.2 281.0,277.4 282.0,278.6 283.0,279.8 284.0,281.1 285.0,282.4 286.0,283.7 287.0,285.0 288.0,286.3 289.0,287.6 290.0,288.9 291.0,290.2 292.0,291.5 293.0,292.8 294.0,294.0 295.0,295.3 296.0,296.4 297.0,297.6 298.0,298.7 299.0,299.8 300.0,300.9 301.0,301.9 302.0,302.9 303.0,303.9 304.0,304.8 305.0,305.7 306.0,306.6 307.0,307.4 308.0,308.1 309.0,308.8 310.0,309.4 311.0,310.0 312.0,310.5 313.0,311.0 314.0,311.4 315.0,311.8 316.0,312.2 317.0,312.5 318.0,312.8 319.0,313.0 320.0,313.2 321.0,313.4 322.0,313.5 323.0,313.6 324.0,313.7 325.0,313.8 326.0,313.8 327.0,313.9 328.0,313.9 329.0,314.0 330.0,314.0 331.0,313.9 332.0,313.9 333.0,313.9 334.0,313.8 335.0,313.7 336.0,313.7 337.0,313.6 338.0,313.5 339.0,313.4 340.0,313.3 341.0,313.2 342.0,313.1 343.0,313.0 344.0,312.9 345.0,312.7 346.0,312.6 347.0,312.5 348.0,312.4 349.0,312.2 350.0,312.1 351.0,312.0 352.0,311.9 353.0,311.8 354.0,311.7 355.0,311.5 356.0,311.4 357.0,311.3 358.0,311.2 359.0,311.1 360.0,311.0 361.0,311.0 362.0,310.9 363.0,310.9 364.0,310.8 365.0,310.8 366.0,310.8 367.0,310.8 368.0,310.8 369.0,310.8 370.0,310.9 371.0,311.0 372.0,311.1 373.0,311.3 374.0,311.5 375.0,311.7 376.0,312.0 377.0,312.2 378.0,312.5 379.0,312.9 380.0,313.2 381.0,313.6 382.0,314.0 383.0,314.6 384.0,315.1 385.0,315.8 386.0,316.5 387.0,317.3 388.0,318.2 389.0,319.0 390.0,319.9 391.0,320.8 392.0,321.7 393.0,322.6 394.0,323.4 395.0,324.3 396.0,325.1 397.0,326.0 398.0,326.8 399.0,327.7 400.0,328.6 401.0,329.5 402.0,330.5 403.0,331.6 404.0,332.6 405.0,333.7 406.0,334.7 407.0,335.8 408.0,336.9 409.0,337.9 410.0,339.0 411.0,340.0 412.0,341.0 413.0,342.0 414.0,342.9 415.0,343.9 416.0,344.8 417.0,345.8 418.0,346.7 419.0,347.6 420.0,348.5 421.0,349.3 422.0,350.2 423.0,351.0 424.0,351.8 425.0,352.7 426.0,353.5 427.0,354.2 428.0,355.0 429.0,355.7 430.0,356.5 431.0,357.2 432.0,357.8 433.0,358.5 434.0,359.2 435.0,359.8 436.0,360.4 437.0,361.1 438.0,361.7 439.0,362.4 440.0,363.0 441.0,363.7 442.0,364.4 443.0,365.1 444.0,365.8 445.0,366.5 446.0,367.2 447.0,367.9 448.0,368.6 449.0,369.3 450.0,370.0 451.0,370.7 452.0,371.5 453.0,372.2 454.0,372.9 455.0,373.7 456.0,374.4 457.0,375.1 458.0,375.7 459.0,376.3 460.0,376.9 461.0,377.5 462.0,378.0 463.0,378.6 464.0,379.0 465.0,379.5 466.0,380.0 467.0,380.4 468.0,380.8 469.0,381.2 470.0,381.6 471.0,381.9 472.0,382.2 473.0,382.6 474.0,382.9 475.0,383.2 476.0,383.4 477.0,383.7 478.0,383.9 479.0,384.2 480.0,384.4 481.0,384.6 482.0,384.8 483.0,385.0 484.0,385.2 485.0,385.3 486.0,385.5 487.0,385.6 488.0,385.8 489.0,385.9 490.0,386.0 491.0,386.0 492.0,386.1 493.0,386.2 494.0,386.2 495.0,386.3 496.0,386.3 497.0,386.3 498.0,386.4 499.0,386.4 500.0,386.4 L546,386.4 Z" fill="#00f84a" stroke="none"/>
<path d="M60,386.4 L60.0,386.4 61.0,386.4 62.0,386.4 63.0,386.4 64.0,386.4 65.0,386.4 66.0,386.4 67.0,386.4 68.0,386.4 69.0,386.4 70.0,386.4 71.0,386.4 72.0,386.4 73.0,386.4 74.0,386.4 75.0,386.4 76.0,386.4 77.0,386.4 78.0,386.4 79.0,386.4 80.0,386.4 81.0,386.4 82.0,386.4 83.0,386.4 84.0,386.4 85.0,386.4 86.0,386.4 87.0,386.4 88.0,386.4 89.0,386.4 90.0,386.4 91.0,386.4 92.0,386.4 93.0,386.4 94.0,386.4 95.0,386.4 96.0,386.4 97.0,386.4 98.0,386.4 99.0,386.4 100.0,386.4 101.0,386.4 102.0,386.4 103.0,386.4 104.0,386.4 105.0,386.4 106.0,386.4 107.0,386.4 108.0,386.4 109.0,386.4 110.0,386.4 111.0,386.4 112.0,386.4 113.0,386.3 114.0,386.3 115.0,386.3 116.0,386.3 117.0,386.3 118.0,386.3 119.0,386.3 120.0,386.3 121.0,386.3 122.0,386.3 123.0,386.3 124.0,386.3 125.0,386.3 126.0,386.3 127.0,386.3 128.0,386.3 129.0,386.3 130.0,386.3 131.0,386.3 132.0,386.3 133.0,386.3 134.0,386.3 135.0,386.3 136.0,386.3 137.0,386.3 138.0,386.3 139.0,386.3 140.0,386.3 141.0,386.2 142.0,386.2 143.0,386.2 144.0,386.2 145.0,386.2 146.0,386.2 147.0,386.2 148.0,386.2 149.0,386.2 150.0,386.2 151.0,386.1 152.0,386.1 153.0,386.0 154.0,385.9 155.0,385.8 156.0,385.7 157.0,385.5 158.0,385.3 159.0,385.1 160.0,384.9 161.0,384.7 162.0,384.4 163.0,384.0 164.0,383.6 165.0,383.2 166.0,382.7 167.0,382.2 168.0,381.6 169.0,381.0 170.0,380.4 171.0,379.7 172.0,378.9 173.0,378.0 174.0,377.1 175.0,376.1 176.0,375.0 177.0,373.9 178.0,372.8 179.0,371.6 180.0,370.4 181.0,369.2 182.0,367.9 183.0,366.5 184.0,365.1 185.0,363.7 186.0,362.3 187.0,360.8 188.0,359.4 189.0,358.0 190.0,356.6 191.0,355.2 192.0,353.8 193.0,352.4 194.0,351.1 195.0,349.8 196.0,348.4 197.0,347.1 198.0,345.7 199.0,344.4 200.0,343.0 201.0,341.6 202.0,340.3 203.0,338.9 204.0,337.5 205.0,336.2 206.0,334.8 207.0,333.4 208.0,331.9 209.0,330.4 210.0,328.9 211.0,327.4 212.0,325.8 213.0,324.1 214.0,322.5 215.0,320.8 216.0,319.0 217.0,317.3 218.0,315.5 219.0,313.7 220.0,311.9 221.0,310.1 222.0,308.2 223.0,306.3 224.0,304.3 225.0,302.4 226.0,300.4 227.0,298.5 228.0,296.7 229.0,294.9 230.0,293.1 231.0,291.4 232.0,289.8 233.0,288.2 234.0,286.6 235.0,285.1 236.0,283.6 237.0,282.1 238.0,280.7 239.0,279.4 240.0,278.1 241.0,276.8 242.0,275.5 243.0,274.3 244.0,273.1 245.0,271.9 246.0,270.8 247.0,269.8 248.0,268.8 249.0,268.0 250.0,267.1 251.0,266.4 252.0,265.6 253.0,265.0 254.0,264.3 255.0,263.7 256.0,263.2 257.0,262.7 258.0,262.2 259.0,261.8 260.0,261.5 261.0,261.2 262.0,260.9 263.0,260.7 264.0,260.5 265.0,260.4 266.0,260.5 267.0,260.6 268.0,260.8 269.0,261.1 270.0,261.6 271.0,262.0 272.0,262.5 273.0,263.1 274.0,263.7 275.0,264.3 276.0,265.0 277.0,265.7 278.0,266.4 279.0,267.2 280.0,268.1 281.0,269.0 282.0,270.0 283.0,271.0 284.0,272.2 285.0,273.4 286.0,274.6 287.0,275.9 288.0,277.2 289.0,278.5 290.0,279.8 291.0,281.1 292.0,282.4 293.0,283.7 294.0,284.9 295.0,286.1 296.0,287.3 297.0,288.4 298.0,289.4 299.0,290.4 300.0,291.4 301.0,292.4 302.0,293.4 303.0,294.3 304.0,295.2 305.0,296.1 306.0,297.0 307.0,297.9 308.0,298.7 309.0,299.5 310.0,300.3 311.0,301.0 312.0,301.7 313.0,302.4 314.0,303.0 315.0,303.6 316.0,304.1 317.0,304.6 318.0,305.1 319.0,305.6 320.0,306.1 321.0,306.5 322.0,307.0 323.0,307.4 324.0,307.8 325.0,308.2 326.0,308.6 327.0,309.0 328.0,309.3 329.0,309.7 330.0,310.0 331.0,310.3 332.0,310.5 333.0,310.8 334.0,311.0 335.0,311.3 336.0,311.5 337.0,311.6 338.0,311.8 339.0,311.9 340.0,311.9 341.0,311.9 342.0,311.9 343.0,311.8 344.0,311.7 345.0,311.6 346.0,311.3 347.0,311.0 348.0,310.6 349.0,310.1 350.0,309.6 351.0,309.0 352.0,308.5 353.0,308.0 354.0,307.4 355.0,306.9 356.0,306.3 357.0,305.7 358.0,305.1 359.0,304.6 360.0,304.1 361.0,303.7 362.0,303.3 363.0,303.0 364.0,302.7 365.0,302.5 366.0,302.2 367.0,302.1 368.0,301.9 369.0,301.8 370.0,301.7 371.0,301.7 372.0,301.7 373.0,301.8 374.0,301.8 375.0,302.0 376.0,302.1 377.0,302.3 378.0,302.5 379.0,302.9 380.0,303.2 381.0,303.6 382.0,304.1 383.0,304.6 384.0,305.1 385.0,305.6 386.0,306.3 387.0,306.9 388.0,307.6 389.0,308.3 390.0,309.0 391.0,309.8 392.0,310.5 393.0,311.3 394.0,312.1 395.0,312.9 396.0,313.7 397.0,314.5 398.0,315.4 399.0,316.2 400.0,317.0 401.0,317.8 402.0,318.6 403.0,319.4 404.0,320.2 405.0,321.0 406.0,321.7 407.0,322.6 408.0,323.4 409.0,324.2 410.0,325.0 411.0,325.9 412.0,326.8 413.0,327.6 414.0,328.5 415.0,329.4 416.0,330.4 417.0,331.3 418.0,332.2 419.0,333.1 420.0,334.0 421.0,334.9 422.0,335.8 423.0,336.7 424.0,337.6 425.0,338.6 426.0,339.5 427.0,340.4 428.0,341.2 429.0,342.1 430.0,343.0 431.0,343.8 432.0,344.6 433.0,345.5 434.0,346.3 435.0,347.1 436.0,347.9 437.0,348.7 438.0,349.4 439.0,350.2 440.0,351.0 441.0,351.8 442.0,352.5 443.0,353.3 444.0,354.0 445.0,354.8 446.0,355.5 447.0,356.3 448.0,357.0 449.0,357.8 450.0,358.5 451.0,359.3 452.0,360.0 453.0,360.8 454.0,361.6 455.0,362.4 456.0,363.1 457.0,363.9 458.0,364.6 459.0,365.3 460.0,365.9 461.0,366.6 462.0,367.2 463.0,367.8 464.0,368.4 465.0,369.0 466.0,369.5 467.0,370.0 468.0,370.6 469.0,371.1 470.0,371.6 471.0,372.1 472.0,372.5 473.0,373.0 474.0,373.4 475.0,373.9 476.0,374.3 477.0,374.7 478.0,375.2 479.0,375.6 480.0,376.0 481.0,376.4 482.0,376.8 483.0,377.2 484.0,377.6 485.0,378.0 486.0,378.4 487.0,378.8 488.0,379.2 489.0,379.6 490.0,380.0 491.0,380.4 492.0,380.8 493.0,381.3 494.0,381.7 495.0,382.1 496.0,382.5 497.0,382.9 498.0,383.3 499.0,383.6 500.0,384.0 501.0,384.3 502.0,384.6 503.0,384.9 504.0,385.1 505.0,385.3 506.0,385.5 507.0,385.7 508.0,385.8 509.0,386.0 510.0,386.1 511.0,386.2 512.0,386.2 513.0,386.3 514.0,386.3 515.0,386.4 L546,386.4 Z" fill="none" stroke="#005a20" stroke-width="1.1"/>
<path d="M60,386.4 L60.0,386.4 61.0,386.4 62.0,386.4 63.0,386.4 64.0,386.4 65.0,386.4 66.0,386.4 67.0,386.4 68.0,386.4 69.0,386.4 70.0,386.4 71.0,386.4 72.0,386.4 73.0,386.4 74.0,386.4 75.0,386.4 76.0,386.4 77.0,386.4 78.0,386.4 79.0,386.4 80.0,386.4 81.0,386.4 82.0,386.4 83.0,386.4 84.0,386.4 85.0,386.4 86.0,386.4 87.0,386.4 88.0,386.3 89.0,386.3 90.0,386.3 91.0,386.3 92.0,386.3 93.0,386.3 94.0,386.3 95.0,386.3 96.0,386.3 97.0,386.3 98.0,386.3 99.0,386.3 100.0,386.3 101.0,386.3 102.0,386.3 103.0,386.3 104.0,386.3 105.0,386.3 106.0,386.3 107.0,386.3 108.0,386.3 109.0,386.2 110.0,386.2 111.0,386.2 112.0,386.2 113.0,386.2 114.0,386.2 115.0,386.2 116.0,386.2 117.0,386.1 118.0,386.1 119.0,386.1 120.0,386.1 121.0,386.1 122.0,386.0 123.0,386.0 124.0,385.9 125.0,385.9 126.0,385.8 127.0,385.7 128.0,385.7 129.0,385.6 130.0,385.5 131.0,385.4 132.0,385.3 133.0,385.2 134.0,385.1 135.0,384.9 136.0,384.8 137.0,384.7 138.0,384.5 139.0,384.3 140.0,384.2 141.0,384.0 142.0,383.8 143.0,383.6 144.0,383.4 145.0,383.2 146.0,383.0 147.0,382.8 148.0,382.5 149.0,382.2 150.0,381.9 151.0,381.6 152.0,381.3 153.0,380.9 154.0,380.5 155.0,380.1 156.0,379.6 157.0,379.1 158.0,378.6 159.0,378.0 160.0,377.4 161.0,376.8 162.0,376.1 163.0,375.3 164.0,374.5 165.0,373.7 166.0,372.8 167.0,371.9 168.0,370.9 169.0,369.9 170.0,368.9 171.0,367.9 172.0,366.9 173.0,365.8 174.0,364.6 175.0,363.4 176.0,362.2 177.0,360.9 178.0,359.6 179.0,358.3 180.0,356.9 181.0,355.4 182.0,353.9 183.0,352.4 184.0,350.7 185.0,349.0 186.0,347.3 187.0,345.5 188.0,343.7 189.0,341.8 190.0,339.9 191.0,337.9 192.0,335.8 193.0,333.7 194.0,331.5 195.0,329.2 196.0,326.8 197.0,324.3 198.0,321.7 199.0,319.0 200.0,316.3 201.0,313.6 202.0,310.9 203.0,308.2 204.0,305.6 205.0,303.1 206.0,300.6 207.0,298.2 208.0,295.8 209.0,293.6 210.0,291.3 211.0,289.2 212.0,287.2 213.0,285.2 214.0,283.4 215.0,281.6 216.0,279.9 217.0,278.2 218.0,276.6 219.0,275.1 220.0,273.6 221.0,272.1 222.0,270.7 223.0,269.3 224.0,268.0 225.0,266.8 226.0,265.6 227.0,264.5 228.0,263.4 229.0,262.4 230.0,261.5 231.0,260.7 232.0,259.9 233.0,259.3 234.0,258.7 235.0,258.2 236.0,257.7 237.0,257.4 238.0,257.0 239.0,256.7 240.0,256.5 241.0,256.2 242.0,256.1 243.0,255.9 244.0,255.8 245.0,255.8 246.0,255.8 247.0,255.8 248.0,255.9 249.0,256.0 250.0,256.2 251.0,256.4 252.0,256.6 253.0,256.9 254.0,257.2 255.0,257.6 256.0,258.1 257.0,258.5 258.0,259.0 259.0,259.6 260.0,260.2 261.0,260.8 262.0,261.4 263.0,262.0 264.0,262.6 265.0,263.2 266.0,263.8 267.0,264.4 268.0,265.0 269.0,265.8 270.0,266.5 271.0,267.3 272.0,268.2 273.0,269.1 274.0,270.0 275.0,270.9 276.0,271.9 277.0,272.9 278.0,274.0 279.0,275.1 280.0,276.2 281.0,277.4 282.0,278.6 283.0,279.8 284.0,281.1 285.0,282.4 286.0,283.7 287.0,285.0 288.0,286.3 289.0,287.6 290.0,288.9 291.0,290.2 292.0,291.5 293.0,292.8 294.0,294.0 295.0,295.3 296.0,296.4 297.0,297.6 298.0,298.7 299.0,299.8 300.0,300.9 301.0,301.9 302.0,302.9 303.0,303.9 304.0,304.8 305.0,305.7 306.0,306.6 307.0,307.4 308.0,308.1 309.0,308.8 310.0,309.4 311.0,310.0 312.0,310.5 313.0,311.0 314.0,311.4 315.0,311.8 316.0,312.2 317.0,312.5 318.0,312.8 319.0,313.0 320.0,313.2 321.0,313.4 322.0,313.5 323.0,313.6 324.0,313.7 325.0,313.8 326.0,313.8 327.0,313.9 328.0,313.9 329.0,314.0 330.0,314.0 331.0,313.9 332.0,313.9 333.0,313.9 334.0,313.8 335.0,313.7 336.0,313.7 337.0,313.6 338.0,313.5 339.0,313.4 340.0,313.3 341.0,313.2 342.0,313.1 343.0,313.0 344.0,312.9 345.0,312.7 346.0,312.6 347.0,312.5 348.0,312.4 349.0,312.2 350.0,312.1 351.0,312.0 352.0,311.9 353.0,311.8 354.0,311.7 355.0,311.5 356.0,311.4 357.0,311.3 358.0,311.2 359.0,311.1 360.0,311.0 361.0,311.0 362.0,310.9 363.0,310.9 364.0,310.8 365.0,310.8 366.0,310.8 367.0,310.8 368.0,310.8 369.0,310.8 370.0,310.9 371.0,311.0 372.0,311.1 373.0,311.3 374.0,311.5 375.0,311.7 376.0,312.0 377.0,312.2 378.0,312.5 379.0,312.9 380.0,313.2 381.0,313.6 382.0,314.0 383.0,314.6 384.0,315.1 385.0,315.8 386.0,316.5 387.0,317.3 388.0,318.2 389.0,319.0 390.0,319.9 391.0,320.8 392.0,321.7 393.0,322.6 394.0,323.4 395.0,324.3 396.0,325.1 397.0,326.0 398.0,326.8 399.0,327.7 400.0,328.6 401.0,329.5 402.0,330.5 403.0,331.6 404.0,332.6 405.0,333.7 406.0,334.7 407.0,335.8 408.0,336.9 409.0,337.9 410.0,339.0 411.0,340.0 412.0,341.0 413.0,342.0 414.0,342.9 415.0,343.9 416.0,344.8 417.0,345.8 418.0,346.7 419.0,347.6 420.0,348.5 421.0,349.3 422.0,350.2 423.0,351.0 424.0,351.8 425.0,352.7 426.0,353.5 427.0,354.2 428.0,355.0 429.0,355.7 430.0,356.5 431.0,357.2 432.0,357.8 433.0,358.5 434.0,359.2 435.0,359.8 436.0,360.4 437.0,361.1 438.0,361.7 439.0,362.4 440.0,363.0 441.0,363.7 442.0,364.4 443.0,365.1 444.0,365.8 445.0,366.5 446.0,367.2 447.0,367.9 448.0,368.6 449.0,369.3 450.0,370.0 451.0,370.7 452.0,371.5 453.0,372.2 454.0,372.9 455.0,373.7 456.0,374.4 457.0,375.1 458.0,375.7 459.0,376.3 460.0,376.9 461.0,377.5 462.0,378.0 463.0,378.6 464.0,379.0 465.0,379.5 466.0,380.0 467.0,380.4 468.0,380.8 469.0,381.2 470.0,381.6 471.0,381.9 472.0,382.2 473.0,382.6 474.0,382.9 475.0,383.2 476.0,383.4 477.0,383.7 478.0,383.9 479.0,384.2 480.0,384.4 481.0,384.6 482.0,384.8 483.0,385.0 484.0,385.2 485.0,385.3 486.0,385.5 487.0,385.6 488.0,385.8 489.0,385.9 490.0,386.0 491.0,386.0 492.0,386.1 493.0,386.2 494.0,386.2 495.0,386.3 496.0,386.3 497.0,386.3 498.0,386.4 499.0,386.4 500.0,386.4 L546,386.4 Z" fill="none" stroke="#009a14" stroke-width="1"/></g>
<path d="M60,386.4 L60.0,386.4 61.0,386.4 62.0,386.4 63.0,386.4 64.0,386.4 65.0,386.4 66.0,386.4 67.0,386.4 68.0,386.4 69.0,386.4 70.0,386.4 71.0,386.4 72.0,386.4 73.0,386.4 74.0,386.4 75.0,386.4 76.0,386.4 77.0,386.4 78.0,386.4 79.0,386.4 80.0,386.4 81.0,386.4 82.0,386.4 83.0,386.4 84.0,386.4 85.0,386.4 86.0,386.4 87.0,386.4 88.0,386.4 89.0,386.4 90.0,386.4 91.0,386.4 92.0,386.4 93.0,386.4 94.0,386.4 95.0,386.4 96.0,386.4 97.0,386.4 98.0,386.4 99.0,386.4 100.0,386.4 101.0,386.4 102.0,386.4 103.0,386.4 104.0,386.4 105.0,386.4 106.0,386.4 107.0,386.4 108.0,386.4 109.0,386.4 110.0,386.4 111.0,386.4 112.0,386.4 113.0,386.4 114.0,386.4 115.0,386.4 116.0,386.4 117.0,386.4 118.0,386.4 119.0,386.4 120.0,386.4 121.0,386.4 122.0,386.4 123.0,386.4 124.0,386.4 125.0,386.4 126.0,386.4 127.0,386.4 128.0,386.4 129.0,386.3 130.0,386.3 131.0,386.3 132.0,386.3 133.0,386.3 134.0,386.3 135.0,386.3 136.0,386.3 137.0,386.3 138.0,386.3 139.0,386.3 140.0,386.3 141.0,386.3 142.0,386.3 143.0,386.3 144.0,386.3 145.0,386.3 146.0,386.3 147.0,386.3 148.0,386.3 149.0,386.3 150.0,386.3 151.0,386.3 152.0,386.3 153.0,386.3 154.0,386.3 155.0,386.3 156.0,386.3 157.0,386.3 158.0,386.3 159.0,386.3 160.0,386.3 161.0,386.3 162.0,386.3 163.0,386.3 164.0,386.2 165.0,386.2 166.0,386.2 167.0,386.2 168.0,386.2 169.0,386.2 170.0,386.2 171.0,386.2 172.0,386.2 173.0,386.2 174.0,386.2 175.0,386.2 176.0,386.1 177.0,386.1 178.0,386.0 179.0,385.9 180.0,385.7 181.0,385.6 182.0,385.4 183.0,385.1 184.0,384.8 185.0,384.3 186.0,383.7 187.0,383.0 188.0,382.2 189.0,381.4 190.0,380.5 191.0,379.5 192.0,378.5 193.0,377.5 194.0,376.4 195.0,375.3 196.0,374.1 197.0,372.8 198.0,371.6 199.0,370.3 200.0,368.9 201.0,367.4 202.0,365.9 203.0,364.4 204.0,362.8 205.0,361.1 206.0,359.3 207.0,357.5 208.0,355.7 209.0,353.8 210.0,351.9 211.0,349.9 212.0,347.8 213.0,345.7 214.0,343.5 215.0,341.3 216.0,339.0 217.0,336.8 218.0,334.5 219.0,332.3 220.0,330.0 221.0,327.8 222.0,325.5 223.0,323.3 224.0,321.1 225.0,318.8 226.0,316.6 227.0,314.4 228.0,312.3 229.0,310.2 230.0,308.1 231.0,306.0 232.0,304.0 233.0,302.0 234.0,300.0 235.0,298.1 236.0,296.2 237.0,294.4 238.0,292.6 239.0,290.8 240.0,289.1 241.0,287.4 242.0,285.7 243.0,284.1 244.0,282.5 245.0,280.9 246.0,279.4 247.0,278.0 248.0,276.6 249.0,275.3 250.0,274.1 251.0,273.0 252.0,271.8 253.0,270.8 254.0,269.8 255.0,268.8 256.0,267.9 257.0,267.1 258.0,266.4 259.0,265.7 260.0,265.1 261.0,264.6 262.0,264.1 263.0,263.7 264.0,263.3 265.0,263.0 266.0,262.8 267.0,262.7 268.0,262.6 269.0,262.7 270.0,262.8 271.0,263.0 272.0,263.3 273.0,263.7 274.0,264.1 275.0,264.6 276.0,265.2 277.0,265.9 278.0,266.5 279.0,267.3 280.0,268.0 281.0,268.8 282.0,269.5 283.0,270.3 284.0,271.1 285.0,271.9 286.0,272.7 287.0,273.5 288.0,274.3 289.0,275.2 290.0,276.0 291.0,276.9 292.0,277.7 293.0,278.6 294.0,279.5 295.0,280.4 296.0,281.3 297.0,282.2 298.0,283.1 299.0,284.1 300.0,285.0 301.0,286.0 302.0,287.0 303.0,287.9 304.0,288.9 305.0,289.9 306.0,291.0 307.0,292.0 308.0,293.0 309.0,294.0 310.0,295.0 311.0,296.0 312.0,297.0 313.0,298.1 314.0,299.1 315.0,300.1 316.0,301.1 317.0,302.1 318.0,303.1 319.0,304.0 320.0,305.0 321.0,305.9 322.0,306.7 323.0,307.6 324.0,308.4 325.0,309.2 326.0,310.0 327.0,310.8 328.0,311.6 329.0,312.3 330.0,312.9 331.0,313.6 332.0,314.2 333.0,314.8 334.0,315.4 335.0,316.0 336.0,316.5 337.0,317.0 338.0,317.5 339.0,318.0 340.0,318.5 341.0,318.9 342.0,319.3 343.0,319.7 344.0,320.1 345.0,320.5 346.0,320.8 347.0,321.1 348.0,321.4 349.0,321.7 350.0,322.0 351.0,322.2 352.0,322.4 353.0,322.6 354.0,322.8 355.0,323.0 356.0,323.1 357.0,323.2 358.0,323.3 359.0,323.4 360.0,323.4 361.0,323.3 362.0,323.2 363.0,323.0 364.0,322.7 365.0,322.4 366.0,322.1 367.0,321.7 368.0,321.3 369.0,320.9 370.0,320.4 371.0,319.9 372.0,319.4 373.0,318.8 374.0,318.2 375.0,317.6 376.0,316.9 377.0,316.2 378.0,315.4 379.0,314.7 380.0,314.0 381.0,313.2 382.0,312.5 383.0,311.7 384.0,311.0 385.0,310.2 386.0,309.5 387.0,308.7 388.0,308.1 389.0,307.4 390.0,306.8 391.0,306.2 392.0,305.6 393.0,305.1 394.0,304.6 395.0,304.1 396.0,303.7 397.0,303.3 398.0,302.9 399.0,302.5 400.0,302.2 401.0,302.0 402.0,301.7 403.0,301.6 404.0,301.5 405.0,301.5 406.0,301.5 407.0,301.5 408.0,301.5 409.0,301.6 410.0,301.8 411.0,302.0 412.0,302.4 413.0,302.8 414.0,303.3 415.0,303.9 416.0,304.5 417.0,305.2 418.0,305.9 419.0,306.6 420.0,307.5 421.0,308.3 422.0,309.2 423.0,310.1 424.0,311.0 425.0,312.0 426.0,312.9 427.0,313.9 428.0,314.9 429.0,315.9 430.0,316.9 431.0,318.0 432.0,319.0 433.0,320.1 434.0,321.2 435.0,322.3 436.0,323.4 437.0,324.6 438.0,325.7 439.0,326.9 440.0,328.0 441.0,329.2 442.0,330.4 443.0,331.6 444.0,332.8 445.0,334.0 446.0,335.2 447.0,336.4 448.0,337.6 449.0,338.8 450.0,340.0 451.0,341.1 452.0,342.3 453.0,343.4 454.0,344.6 455.0,345.7 456.0,346.8 457.0,347.8 458.0,348.9 459.0,349.9 460.0,351.0 461.0,352.0 462.0,352.9 463.0,353.9 464.0,354.9 465.0,355.8 466.0,356.7 467.0,357.5 468.0,358.4 469.0,359.2 470.0,359.9 471.0,360.6 472.0,361.3 473.0,362.0 474.0,362.6 475.0,363.2 476.0,363.8 477.0,364.3 478.0,364.9 479.0,365.4 480.0,366.0 481.0,366.5 482.0,367.0 483.0,367.5 484.0,368.1 485.0,368.5 486.0,369.0 487.0,369.5 488.0,370.0 489.0,370.5 490.0,371.0 491.0,371.5 492.0,372.0 493.0,372.6 494.0,373.1 495.0,373.6 496.0,374.1 497.0,374.6 498.0,375.1 499.0,375.5 500.0,376.0 501.0,376.4 502.0,376.8 503.0,377.2 504.0,377.5 505.0,377.9 506.0,378.3 507.0,378.6 508.0,378.9 509.0,379.3 510.0,379.6 511.0,379.9 512.0,380.2 513.0,380.5 514.0,380.8 515.0,381.1 516.0,381.4 517.0,381.6 518.0,381.9 519.0,382.1 520.0,382.4 521.0,382.6 522.0,382.8 523.0,383.1 524.0,383.3 525.0,383.5 526.0,383.7 527.0,383.9 528.0,384.1 529.0,384.2 530.0,384.4 531.0,384.5 532.0,384.7 533.0,384.8 534.0,384.9 535.0,385.0 536.0,385.2 537.0,385.3 538.0,385.4 539.0,385.5 540.0,385.6 541.0,385.7 542.0,385.8 543.0,385.9 544.0,386.0 545.0,386.1 546.0,386.1 L546,386.4 Z" fill="none" stroke="#111" stroke-width="1.2" stroke-linejoin="round"/>
<g stroke="#6e6e6e" stroke-width="1" fill="none">
<path d="M40.6,244.0 V392.0 H546"/>
<path d="M36,386.5 H40.6"/>
<path d="M36,352.2 H40.6"/>
<path d="M36,317.9 H40.6"/>
<path d="M36,283.6 H40.6"/>
<path d="M36,249.3 H40.6"/>
<path d="M100.2,392.0 V397.0"/>
<path d="M228.4,392.0 V397.0"/>
<path d="M356.7,392.0 V397.0"/>
<path d="M484.9,392.0 V397.0"/>
</g>
<g font-size="11" fill="#111" stroke="#111" stroke-width="0.2" text-anchor="middle">
<text transform="translate(30,386.5) rotate(-90)">0.00</text>
<text transform="translate(30,352.2) rotate(-90)">0.02</text>
<text transform="translate(30,317.9) rotate(-90)">0.04</text>
<text transform="translate(30,283.6) rotate(-90)">0.06</text>
<text transform="translate(30,249.3) rotate(-90)">0.08</text>
<text x="100.2" y="409.6">0</text>
<text x="228.4" y="409.6">10</text>
<text x="356.7" y="409.6">20</text>
<text x="484.9" y="409.6">30</text>
</g>
<text font-size="15.4" fill="#111" stroke="#111" stroke-width="0.3" text-anchor="middle" transform="translate(16.4,317.5) rotate(-90)">Proportion</text>
<text font-size="15.3" fill="#111" stroke="#111" stroke-width="0.3" text-anchor="middle" x="293.4" y="419.3">Temperature(<tspan font-size="18" dy="1.9" stroke="none">°</tspan><tspan dy="-1.9">C)</tspan></text>
<text font-size="9.3" font-weight="bold" fill="#000" text-anchor="middle" x="292" y="233.8">SSP5-8.5</text>
<rect x="49.55" y="255.55" width="6.3" height="6.3" fill="#e9e9e9" stroke="#5a5a5a" stroke-width="0.9"/>
<text font-size="10.15" fill="#000" stroke="#000" stroke-width="0.25" x="62.9" y="262.3">1995-2014</text>
<rect x="49.55" y="269.20" width="6.3" height="6.3" fill="#a8f0bc" stroke="#5a5a5a" stroke-width="0.9"/>
<text font-size="10.15" fill="#000" stroke="#000" stroke-width="0.25" x="62.9" y="275.9">2046-2065</text>
<rect x="49.55" y="282.85" width="6.3" height="6.3" fill="#00f564" stroke="#5a5a5a" stroke-width="0.9"/>
<text font-size="10.15" fill="#000" stroke="#000" stroke-width="0.25" x="62.9" y="289.6">2081-2100</text>
</svg>
</body></html>
